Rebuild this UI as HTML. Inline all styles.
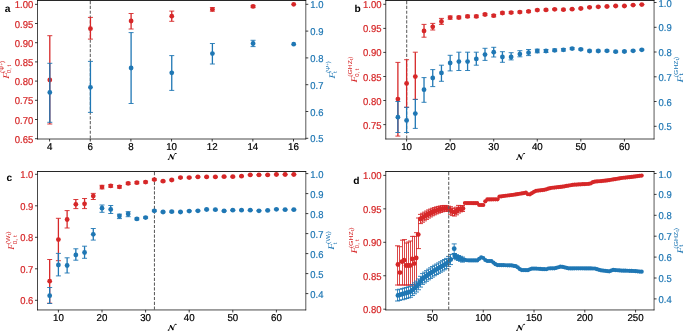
<!DOCTYPE html>
<html><head><meta charset="utf-8"><title>Figure</title>
<style>
html,body{margin:0;padding:0;background:#fff;}
body{width:685px;height:331px;overflow:hidden;}
svg{display:block;font-family:"Liberation Sans", sans-serif;will-change:transform;text-rendering:geometricPrecision;}
</style></head>
<body>
<svg width="685" height="331" viewBox="0 0 685 331">
<rect width="685" height="331" fill="#fff"/>
<line x1="37.50" y1="0.00" x2="37.50" y2="139.36" stroke="#000" stroke-width="0.72"/>
<line x1="305.80" y1="0.00" x2="305.80" y2="139.36" stroke="#000" stroke-width="0.66"/>
<line x1="37.14" y1="0.45" x2="306.13" y2="0.45" stroke="#000" stroke-width="0.9"/>
<line x1="37.14" y1="139.00" x2="306.13" y2="139.00" stroke="#000" stroke-width="0.72"/>
<line x1="90.30" y1="0.45" x2="90.30" y2="139.00" stroke="#5e5e5e" stroke-width="1.05" stroke-dasharray="3.2,1.6" stroke-dashoffset="4.2"/>
<line x1="35.00" y1="4.35" x2="37.50" y2="4.35" stroke="#000" stroke-width="0.75"/>
<text x="33.30" y="8.35" fill="#d62728" stroke="#d62728" stroke-width="0.22" text-anchor="end" font-size="10.0" textLength="18.51" lengthAdjust="spacingAndGlyphs">1.00</text>
<line x1="35.00" y1="23.50" x2="37.50" y2="23.50" stroke="#000" stroke-width="0.75"/>
<text x="33.30" y="27.50" fill="#d62728" stroke="#d62728" stroke-width="0.22" text-anchor="end" font-size="10.0" textLength="18.51" lengthAdjust="spacingAndGlyphs">0.95</text>
<line x1="35.00" y1="42.70" x2="37.50" y2="42.70" stroke="#000" stroke-width="0.75"/>
<text x="33.30" y="46.70" fill="#d62728" stroke="#d62728" stroke-width="0.22" text-anchor="end" font-size="10.0" textLength="18.51" lengthAdjust="spacingAndGlyphs">0.90</text>
<line x1="35.00" y1="61.90" x2="37.50" y2="61.90" stroke="#000" stroke-width="0.75"/>
<text x="33.30" y="65.90" fill="#d62728" stroke="#d62728" stroke-width="0.22" text-anchor="end" font-size="10.0" textLength="18.51" lengthAdjust="spacingAndGlyphs">0.85</text>
<line x1="35.00" y1="81.10" x2="37.50" y2="81.10" stroke="#000" stroke-width="0.75"/>
<text x="33.30" y="85.10" fill="#d62728" stroke="#d62728" stroke-width="0.22" text-anchor="end" font-size="10.0" textLength="18.51" lengthAdjust="spacingAndGlyphs">0.80</text>
<line x1="35.00" y1="100.30" x2="37.50" y2="100.30" stroke="#000" stroke-width="0.75"/>
<text x="33.30" y="104.30" fill="#d62728" stroke="#d62728" stroke-width="0.22" text-anchor="end" font-size="10.0" textLength="18.51" lengthAdjust="spacingAndGlyphs">0.75</text>
<line x1="35.00" y1="119.50" x2="37.50" y2="119.50" stroke="#000" stroke-width="0.75"/>
<text x="33.30" y="123.50" fill="#d62728" stroke="#d62728" stroke-width="0.22" text-anchor="end" font-size="10.0" textLength="18.51" lengthAdjust="spacingAndGlyphs">0.70</text>
<line x1="35.00" y1="138.70" x2="37.50" y2="138.70" stroke="#000" stroke-width="0.75"/>
<text x="33.30" y="142.70" fill="#d62728" stroke="#d62728" stroke-width="0.22" text-anchor="end" font-size="10.0" textLength="18.51" lengthAdjust="spacingAndGlyphs">0.65</text>
<line x1="305.80" y1="4.30" x2="308.30" y2="4.30" stroke="#000" stroke-width="0.75"/>
<text x="310.30" y="8.30" fill="#1f77b4" stroke="#1f77b4" stroke-width="0.22" text-anchor="start" font-size="10.0" textLength="13.11" lengthAdjust="spacingAndGlyphs">1.0</text>
<line x1="305.80" y1="31.10" x2="308.30" y2="31.10" stroke="#000" stroke-width="0.75"/>
<text x="310.30" y="35.10" fill="#1f77b4" stroke="#1f77b4" stroke-width="0.22" text-anchor="start" font-size="10.0" textLength="13.11" lengthAdjust="spacingAndGlyphs">0.9</text>
<line x1="305.80" y1="57.90" x2="308.30" y2="57.90" stroke="#000" stroke-width="0.75"/>
<text x="310.30" y="61.90" fill="#1f77b4" stroke="#1f77b4" stroke-width="0.22" text-anchor="start" font-size="10.0" textLength="13.11" lengthAdjust="spacingAndGlyphs">0.8</text>
<line x1="305.80" y1="84.70" x2="308.30" y2="84.70" stroke="#000" stroke-width="0.75"/>
<text x="310.30" y="88.70" fill="#1f77b4" stroke="#1f77b4" stroke-width="0.22" text-anchor="start" font-size="10.0" textLength="13.11" lengthAdjust="spacingAndGlyphs">0.7</text>
<line x1="305.80" y1="111.50" x2="308.30" y2="111.50" stroke="#000" stroke-width="0.75"/>
<text x="310.30" y="115.50" fill="#1f77b4" stroke="#1f77b4" stroke-width="0.22" text-anchor="start" font-size="10.0" textLength="13.11" lengthAdjust="spacingAndGlyphs">0.6</text>
<line x1="305.80" y1="138.30" x2="308.30" y2="138.30" stroke="#000" stroke-width="0.75"/>
<text x="310.30" y="142.30" fill="#1f77b4" stroke="#1f77b4" stroke-width="0.22" text-anchor="start" font-size="10.0" textLength="13.11" lengthAdjust="spacingAndGlyphs">0.5</text>
<line x1="49.60" y1="139.00" x2="49.60" y2="141.50" stroke="#000" stroke-width="0.75"/>
<text x="49.60" y="149.95" fill="#000" stroke="#000" stroke-width="0.22" text-anchor="middle" font-size="10.0" textLength="5.41" lengthAdjust="spacingAndGlyphs">4</text>
<line x1="90.25" y1="139.00" x2="90.25" y2="141.50" stroke="#000" stroke-width="0.75"/>
<text x="90.25" y="149.95" fill="#000" stroke="#000" stroke-width="0.22" text-anchor="middle" font-size="10.0" textLength="5.41" lengthAdjust="spacingAndGlyphs">6</text>
<line x1="130.90" y1="139.00" x2="130.90" y2="141.50" stroke="#000" stroke-width="0.75"/>
<text x="130.90" y="149.95" fill="#000" stroke="#000" stroke-width="0.22" text-anchor="middle" font-size="10.0" textLength="5.41" lengthAdjust="spacingAndGlyphs">8</text>
<line x1="171.55" y1="139.00" x2="171.55" y2="141.50" stroke="#000" stroke-width="0.75"/>
<text x="171.55" y="149.95" fill="#000" stroke="#000" stroke-width="0.22" text-anchor="middle" font-size="10.0" textLength="10.81" lengthAdjust="spacingAndGlyphs">10</text>
<line x1="212.20" y1="139.00" x2="212.20" y2="141.50" stroke="#000" stroke-width="0.75"/>
<text x="212.20" y="149.95" fill="#000" stroke="#000" stroke-width="0.22" text-anchor="middle" font-size="10.0" textLength="10.81" lengthAdjust="spacingAndGlyphs">12</text>
<line x1="252.85" y1="139.00" x2="252.85" y2="141.50" stroke="#000" stroke-width="0.75"/>
<text x="252.85" y="149.95" fill="#000" stroke="#000" stroke-width="0.22" text-anchor="middle" font-size="10.0" textLength="10.81" lengthAdjust="spacingAndGlyphs">14</text>
<line x1="293.50" y1="139.00" x2="293.50" y2="141.50" stroke="#000" stroke-width="0.75"/>
<text x="293.50" y="149.95" fill="#000" stroke="#000" stroke-width="0.22" text-anchor="middle" font-size="10.0" textLength="10.81" lengthAdjust="spacingAndGlyphs">16</text>
<line x1="49.80" y1="35.70" x2="49.80" y2="124.00" stroke="#d62728" stroke-width="1.3"/>
<line x1="47.30" y1="35.70" x2="52.30" y2="35.70" stroke="#d62728" stroke-width="0.9"/>
<line x1="47.30" y1="124.00" x2="52.30" y2="124.00" stroke="#d62728" stroke-width="0.9"/>
<circle cx="49.80" cy="80.00" r="2.4" fill="#d62728"/>
<line x1="90.45" y1="17.40" x2="90.45" y2="39.10" stroke="#d62728" stroke-width="1.3"/>
<line x1="87.95" y1="17.40" x2="92.95" y2="17.40" stroke="#d62728" stroke-width="0.9"/>
<line x1="87.95" y1="39.10" x2="92.95" y2="39.10" stroke="#d62728" stroke-width="0.9"/>
<circle cx="90.45" cy="28.70" r="2.4" fill="#d62728"/>
<line x1="131.10" y1="13.50" x2="131.10" y2="29.00" stroke="#d62728" stroke-width="1.3"/>
<line x1="128.60" y1="13.50" x2="133.60" y2="13.50" stroke="#d62728" stroke-width="0.9"/>
<line x1="128.60" y1="29.00" x2="133.60" y2="29.00" stroke="#d62728" stroke-width="0.9"/>
<circle cx="131.10" cy="21.00" r="2.4" fill="#d62728"/>
<line x1="171.75" y1="11.10" x2="171.75" y2="21.30" stroke="#d62728" stroke-width="1.3"/>
<line x1="169.25" y1="11.10" x2="174.25" y2="11.10" stroke="#d62728" stroke-width="0.9"/>
<line x1="169.25" y1="21.30" x2="174.25" y2="21.30" stroke="#d62728" stroke-width="0.9"/>
<circle cx="171.75" cy="16.20" r="2.4" fill="#d62728"/>
<line x1="212.40" y1="7.60" x2="212.40" y2="11.20" stroke="#d62728" stroke-width="1.3"/>
<line x1="209.90" y1="7.60" x2="214.90" y2="7.60" stroke="#d62728" stroke-width="0.9"/>
<line x1="209.90" y1="11.20" x2="214.90" y2="11.20" stroke="#d62728" stroke-width="0.9"/>
<circle cx="212.40" cy="9.30" r="2.4" fill="#d62728"/>
<line x1="253.05" y1="5.40" x2="253.05" y2="7.60" stroke="#d62728" stroke-width="1.3"/>
<line x1="250.55" y1="5.40" x2="255.55" y2="5.40" stroke="#d62728" stroke-width="0.9"/>
<line x1="250.55" y1="7.60" x2="255.55" y2="7.60" stroke="#d62728" stroke-width="0.9"/>
<circle cx="253.05" cy="6.40" r="2.4" fill="#d62728"/>
<circle cx="293.70" cy="4.30" r="2.4" fill="#d62728"/>
<line x1="49.80" y1="63.30" x2="49.80" y2="122.30" stroke="#1f77b4" stroke-width="1.3"/>
<line x1="47.30" y1="63.30" x2="52.30" y2="63.30" stroke="#1f77b4" stroke-width="0.9"/>
<line x1="47.30" y1="122.30" x2="52.30" y2="122.30" stroke="#1f77b4" stroke-width="0.9"/>
<circle cx="49.80" cy="92.40" r="2.4" fill="#1f77b4"/>
<line x1="90.45" y1="61.40" x2="90.45" y2="112.40" stroke="#1f77b4" stroke-width="1.3"/>
<line x1="87.95" y1="61.40" x2="92.95" y2="61.40" stroke="#1f77b4" stroke-width="0.9"/>
<line x1="87.95" y1="112.40" x2="92.95" y2="112.40" stroke="#1f77b4" stroke-width="0.9"/>
<circle cx="90.45" cy="87.30" r="2.4" fill="#1f77b4"/>
<line x1="131.10" y1="32.60" x2="131.10" y2="103.50" stroke="#1f77b4" stroke-width="1.3"/>
<line x1="128.60" y1="32.60" x2="133.60" y2="32.60" stroke="#1f77b4" stroke-width="0.9"/>
<line x1="128.60" y1="103.50" x2="133.60" y2="103.50" stroke="#1f77b4" stroke-width="0.9"/>
<circle cx="131.10" cy="68.00" r="2.4" fill="#1f77b4"/>
<line x1="171.75" y1="55.60" x2="171.75" y2="90.40" stroke="#1f77b4" stroke-width="1.3"/>
<line x1="169.25" y1="55.60" x2="174.25" y2="55.60" stroke="#1f77b4" stroke-width="0.9"/>
<line x1="169.25" y1="90.40" x2="174.25" y2="90.40" stroke="#1f77b4" stroke-width="0.9"/>
<circle cx="171.75" cy="72.80" r="2.4" fill="#1f77b4"/>
<line x1="212.40" y1="43.50" x2="212.40" y2="64.00" stroke="#1f77b4" stroke-width="1.3"/>
<line x1="209.90" y1="43.50" x2="214.90" y2="43.50" stroke="#1f77b4" stroke-width="0.9"/>
<line x1="209.90" y1="64.00" x2="214.90" y2="64.00" stroke="#1f77b4" stroke-width="0.9"/>
<circle cx="212.40" cy="53.60" r="2.4" fill="#1f77b4"/>
<line x1="253.05" y1="40.30" x2="253.05" y2="46.60" stroke="#1f77b4" stroke-width="1.3"/>
<line x1="250.55" y1="40.30" x2="255.55" y2="40.30" stroke="#1f77b4" stroke-width="0.9"/>
<line x1="250.55" y1="46.60" x2="255.55" y2="46.60" stroke="#1f77b4" stroke-width="0.9"/>
<circle cx="253.05" cy="43.50" r="2.4" fill="#1f77b4"/>
<circle cx="293.70" cy="44.20" r="2.4" fill="#1f77b4"/>
<g transform="translate(167.70,152.80)" fill="none" stroke="#000" stroke-linecap="round"><path d="M0.8,6.6 C1.6,5.8 2.3,3.9 2.8,2.1" stroke-width="0.7"/><ellipse cx="0.9" cy="6.5" rx="0.9" ry="0.55" fill="#000" stroke="none"/><path d="M2.9,2.0 L5.2,6.0" stroke-width="1.35"/><path d="M5.3,5.9 C5.7,4.5 6.2,2.2 7.1,0.9" stroke-width="0.6"/><ellipse cx="8.1" cy="0.6" rx="1.0" ry="0.5" fill="#000" stroke="none"/></g>
<text x="4.80" y="11.80" font-weight="bold" font-size="10.2">a</text>
<line x1="385.77" y1="0.00" x2="385.77" y2="139.36" stroke="#000" stroke-width="0.72"/>
<line x1="654.07" y1="0.00" x2="654.07" y2="139.36" stroke="#000" stroke-width="0.66"/>
<line x1="385.41" y1="0.45" x2="654.40" y2="0.45" stroke="#000" stroke-width="0.9"/>
<line x1="385.41" y1="139.00" x2="654.40" y2="139.00" stroke="#000" stroke-width="0.72"/>
<line x1="406.70" y1="0.45" x2="406.70" y2="139.00" stroke="#5e5e5e" stroke-width="1.05" stroke-dasharray="3.2,1.6" stroke-dashoffset="4.2"/>
<line x1="383.27" y1="4.30" x2="385.77" y2="4.30" stroke="#000" stroke-width="0.75"/>
<text x="381.57" y="8.30" fill="#d62728" stroke="#d62728" stroke-width="0.22" text-anchor="end" font-size="10.0" textLength="18.51" lengthAdjust="spacingAndGlyphs">1.00</text>
<line x1="383.27" y1="28.40" x2="385.77" y2="28.40" stroke="#000" stroke-width="0.75"/>
<text x="381.57" y="32.40" fill="#d62728" stroke="#d62728" stroke-width="0.22" text-anchor="end" font-size="10.0" textLength="18.51" lengthAdjust="spacingAndGlyphs">0.95</text>
<line x1="383.27" y1="52.40" x2="385.77" y2="52.40" stroke="#000" stroke-width="0.75"/>
<text x="381.57" y="56.40" fill="#d62728" stroke="#d62728" stroke-width="0.22" text-anchor="end" font-size="10.0" textLength="18.51" lengthAdjust="spacingAndGlyphs">0.90</text>
<line x1="383.27" y1="76.50" x2="385.77" y2="76.50" stroke="#000" stroke-width="0.75"/>
<text x="381.57" y="80.50" fill="#d62728" stroke="#d62728" stroke-width="0.22" text-anchor="end" font-size="10.0" textLength="18.51" lengthAdjust="spacingAndGlyphs">0.85</text>
<line x1="383.27" y1="100.50" x2="385.77" y2="100.50" stroke="#000" stroke-width="0.75"/>
<text x="381.57" y="104.50" fill="#d62728" stroke="#d62728" stroke-width="0.22" text-anchor="end" font-size="10.0" textLength="18.51" lengthAdjust="spacingAndGlyphs">0.80</text>
<line x1="383.27" y1="124.60" x2="385.77" y2="124.60" stroke="#000" stroke-width="0.75"/>
<text x="381.57" y="128.60" fill="#d62728" stroke="#d62728" stroke-width="0.22" text-anchor="end" font-size="10.0" textLength="18.51" lengthAdjust="spacingAndGlyphs">0.75</text>
<line x1="654.07" y1="2.50" x2="656.57" y2="2.50" stroke="#000" stroke-width="0.75"/>
<text x="658.57" y="6.50" fill="#1f77b4" stroke="#1f77b4" stroke-width="0.22" text-anchor="start" font-size="10.0" textLength="13.11" lengthAdjust="spacingAndGlyphs">1.0</text>
<line x1="654.07" y1="27.30" x2="656.57" y2="27.30" stroke="#000" stroke-width="0.75"/>
<text x="658.57" y="31.30" fill="#1f77b4" stroke="#1f77b4" stroke-width="0.22" text-anchor="start" font-size="10.0" textLength="13.11" lengthAdjust="spacingAndGlyphs">0.9</text>
<line x1="654.07" y1="52.00" x2="656.57" y2="52.00" stroke="#000" stroke-width="0.75"/>
<text x="658.57" y="56.00" fill="#1f77b4" stroke="#1f77b4" stroke-width="0.22" text-anchor="start" font-size="10.0" textLength="13.11" lengthAdjust="spacingAndGlyphs">0.8</text>
<line x1="654.07" y1="76.80" x2="656.57" y2="76.80" stroke="#000" stroke-width="0.75"/>
<text x="658.57" y="80.80" fill="#1f77b4" stroke="#1f77b4" stroke-width="0.22" text-anchor="start" font-size="10.0" textLength="13.11" lengthAdjust="spacingAndGlyphs">0.7</text>
<line x1="654.07" y1="101.50" x2="656.57" y2="101.50" stroke="#000" stroke-width="0.75"/>
<text x="658.57" y="105.50" fill="#1f77b4" stroke="#1f77b4" stroke-width="0.22" text-anchor="start" font-size="10.0" textLength="13.11" lengthAdjust="spacingAndGlyphs">0.6</text>
<line x1="654.07" y1="126.30" x2="656.57" y2="126.30" stroke="#000" stroke-width="0.75"/>
<text x="658.57" y="130.30" fill="#1f77b4" stroke="#1f77b4" stroke-width="0.22" text-anchor="start" font-size="10.0" textLength="13.11" lengthAdjust="spacingAndGlyphs">0.5</text>
<line x1="406.60" y1="139.00" x2="406.60" y2="141.50" stroke="#000" stroke-width="0.75"/>
<text x="406.60" y="149.95" fill="#000" stroke="#000" stroke-width="0.22" text-anchor="middle" font-size="10.0" textLength="10.81" lengthAdjust="spacingAndGlyphs">10</text>
<line x1="450.16" y1="139.00" x2="450.16" y2="141.50" stroke="#000" stroke-width="0.75"/>
<text x="450.16" y="149.95" fill="#000" stroke="#000" stroke-width="0.22" text-anchor="middle" font-size="10.0" textLength="10.81" lengthAdjust="spacingAndGlyphs">20</text>
<line x1="493.72" y1="139.00" x2="493.72" y2="141.50" stroke="#000" stroke-width="0.75"/>
<text x="493.72" y="149.95" fill="#000" stroke="#000" stroke-width="0.22" text-anchor="middle" font-size="10.0" textLength="10.81" lengthAdjust="spacingAndGlyphs">30</text>
<line x1="537.28" y1="139.00" x2="537.28" y2="141.50" stroke="#000" stroke-width="0.75"/>
<text x="537.28" y="149.95" fill="#000" stroke="#000" stroke-width="0.22" text-anchor="middle" font-size="10.0" textLength="10.81" lengthAdjust="spacingAndGlyphs">40</text>
<line x1="580.84" y1="139.00" x2="580.84" y2="141.50" stroke="#000" stroke-width="0.75"/>
<text x="580.84" y="149.95" fill="#000" stroke="#000" stroke-width="0.22" text-anchor="middle" font-size="10.0" textLength="10.81" lengthAdjust="spacingAndGlyphs">50</text>
<line x1="624.40" y1="139.00" x2="624.40" y2="141.50" stroke="#000" stroke-width="0.75"/>
<text x="624.40" y="149.95" fill="#000" stroke="#000" stroke-width="0.22" text-anchor="middle" font-size="10.0" textLength="10.81" lengthAdjust="spacingAndGlyphs">60</text>
<line x1="397.89" y1="62.40" x2="397.89" y2="136.10" stroke="#d62728" stroke-width="1.3"/>
<line x1="395.39" y1="62.40" x2="400.39" y2="62.40" stroke="#d62728" stroke-width="0.9"/>
<line x1="395.39" y1="136.10" x2="400.39" y2="136.10" stroke="#d62728" stroke-width="0.9"/>
<circle cx="397.89" cy="99.10" r="2.4" fill="#d62728"/>
<line x1="406.60" y1="59.70" x2="406.60" y2="107.30" stroke="#d62728" stroke-width="1.3"/>
<line x1="404.10" y1="59.70" x2="409.10" y2="59.70" stroke="#d62728" stroke-width="0.9"/>
<line x1="404.10" y1="107.30" x2="409.10" y2="107.30" stroke="#d62728" stroke-width="0.9"/>
<circle cx="406.60" cy="83.40" r="2.4" fill="#d62728"/>
<line x1="415.31" y1="52.20" x2="415.31" y2="99.40" stroke="#d62728" stroke-width="1.3"/>
<line x1="412.81" y1="52.20" x2="417.81" y2="52.20" stroke="#d62728" stroke-width="0.9"/>
<line x1="412.81" y1="99.40" x2="417.81" y2="99.40" stroke="#d62728" stroke-width="0.9"/>
<circle cx="415.31" cy="76.60" r="2.4" fill="#d62728"/>
<line x1="424.02" y1="24.40" x2="424.02" y2="37.20" stroke="#d62728" stroke-width="1.3"/>
<line x1="421.52" y1="24.40" x2="426.52" y2="24.40" stroke="#d62728" stroke-width="0.9"/>
<line x1="421.52" y1="37.20" x2="426.52" y2="37.20" stroke="#d62728" stroke-width="0.9"/>
<circle cx="424.02" cy="30.90" r="2.4" fill="#d62728"/>
<line x1="432.74" y1="23.40" x2="432.74" y2="30.00" stroke="#d62728" stroke-width="1.3"/>
<line x1="430.24" y1="23.40" x2="435.24" y2="23.40" stroke="#d62728" stroke-width="0.9"/>
<line x1="430.24" y1="30.00" x2="435.24" y2="30.00" stroke="#d62728" stroke-width="0.9"/>
<circle cx="432.74" cy="26.80" r="2.4" fill="#d62728"/>
<line x1="441.45" y1="18.40" x2="441.45" y2="24.40" stroke="#d62728" stroke-width="1.3"/>
<line x1="438.95" y1="18.40" x2="443.95" y2="18.40" stroke="#d62728" stroke-width="0.9"/>
<line x1="438.95" y1="24.40" x2="443.95" y2="24.40" stroke="#d62728" stroke-width="0.9"/>
<circle cx="441.45" cy="21.50" r="2.4" fill="#d62728"/>
<line x1="450.16" y1="16.00" x2="450.16" y2="19.20" stroke="#d62728" stroke-width="1.3"/>
<line x1="447.66" y1="16.00" x2="452.66" y2="16.00" stroke="#d62728" stroke-width="0.9"/>
<line x1="447.66" y1="19.20" x2="452.66" y2="19.20" stroke="#d62728" stroke-width="0.9"/>
<circle cx="450.16" cy="17.60" r="2.4" fill="#d62728"/>
<line x1="458.87" y1="16.20" x2="458.87" y2="18.80" stroke="#d62728" stroke-width="1.3"/>
<line x1="456.37" y1="16.20" x2="461.37" y2="16.20" stroke="#d62728" stroke-width="0.9"/>
<line x1="456.37" y1="18.80" x2="461.37" y2="18.80" stroke="#d62728" stroke-width="0.9"/>
<circle cx="458.87" cy="17.50" r="2.4" fill="#d62728"/>
<line x1="467.58" y1="15.20" x2="467.58" y2="17.60" stroke="#d62728" stroke-width="1.3"/>
<line x1="465.08" y1="15.20" x2="470.08" y2="15.20" stroke="#d62728" stroke-width="0.9"/>
<line x1="465.08" y1="17.60" x2="470.08" y2="17.60" stroke="#d62728" stroke-width="0.9"/>
<circle cx="467.58" cy="16.40" r="2.4" fill="#d62728"/>
<line x1="476.30" y1="15.20" x2="476.30" y2="17.60" stroke="#d62728" stroke-width="1.3"/>
<line x1="473.80" y1="15.20" x2="478.80" y2="15.20" stroke="#d62728" stroke-width="0.9"/>
<line x1="473.80" y1="17.60" x2="478.80" y2="17.60" stroke="#d62728" stroke-width="0.9"/>
<circle cx="476.30" cy="16.40" r="2.4" fill="#d62728"/>
<line x1="485.01" y1="13.40" x2="485.01" y2="15.60" stroke="#d62728" stroke-width="1.3"/>
<line x1="482.51" y1="13.40" x2="487.51" y2="13.40" stroke="#d62728" stroke-width="0.9"/>
<line x1="482.51" y1="15.60" x2="487.51" y2="15.60" stroke="#d62728" stroke-width="0.9"/>
<circle cx="485.01" cy="14.50" r="2.4" fill="#d62728"/>
<line x1="493.72" y1="14.60" x2="493.72" y2="16.80" stroke="#d62728" stroke-width="1.3"/>
<line x1="491.22" y1="14.60" x2="496.22" y2="14.60" stroke="#d62728" stroke-width="0.9"/>
<line x1="491.22" y1="16.80" x2="496.22" y2="16.80" stroke="#d62728" stroke-width="0.9"/>
<circle cx="493.72" cy="15.70" r="2.4" fill="#d62728"/>
<line x1="502.43" y1="12.00" x2="502.43" y2="14.00" stroke="#d62728" stroke-width="1.3"/>
<line x1="499.93" y1="12.00" x2="504.93" y2="12.00" stroke="#d62728" stroke-width="0.9"/>
<line x1="499.93" y1="14.00" x2="504.93" y2="14.00" stroke="#d62728" stroke-width="0.9"/>
<circle cx="502.43" cy="13.00" r="2.4" fill="#d62728"/>
<line x1="511.14" y1="11.60" x2="511.14" y2="13.60" stroke="#d62728" stroke-width="1.3"/>
<line x1="508.64" y1="11.60" x2="513.64" y2="11.60" stroke="#d62728" stroke-width="0.9"/>
<line x1="508.64" y1="13.60" x2="513.64" y2="13.60" stroke="#d62728" stroke-width="0.9"/>
<circle cx="511.14" cy="12.60" r="2.4" fill="#d62728"/>
<line x1="519.86" y1="11.20" x2="519.86" y2="13.00" stroke="#d62728" stroke-width="1.3"/>
<line x1="517.36" y1="11.20" x2="522.36" y2="11.20" stroke="#d62728" stroke-width="0.9"/>
<line x1="517.36" y1="13.00" x2="522.36" y2="13.00" stroke="#d62728" stroke-width="0.9"/>
<circle cx="519.86" cy="12.10" r="2.4" fill="#d62728"/>
<line x1="528.57" y1="10.50" x2="528.57" y2="12.30" stroke="#d62728" stroke-width="1.3"/>
<line x1="526.07" y1="10.50" x2="531.07" y2="10.50" stroke="#d62728" stroke-width="0.9"/>
<line x1="526.07" y1="12.30" x2="531.07" y2="12.30" stroke="#d62728" stroke-width="0.9"/>
<circle cx="528.57" cy="11.40" r="2.4" fill="#d62728"/>
<line x1="537.28" y1="9.30" x2="537.28" y2="10.90" stroke="#d62728" stroke-width="1.3"/>
<line x1="534.78" y1="9.30" x2="539.78" y2="9.30" stroke="#d62728" stroke-width="0.9"/>
<line x1="534.78" y1="10.90" x2="539.78" y2="10.90" stroke="#d62728" stroke-width="0.9"/>
<circle cx="537.28" cy="10.10" r="2.4" fill="#d62728"/>
<line x1="545.99" y1="9.10" x2="545.99" y2="10.70" stroke="#d62728" stroke-width="1.3"/>
<line x1="543.49" y1="9.10" x2="548.49" y2="9.10" stroke="#d62728" stroke-width="0.9"/>
<line x1="543.49" y1="10.70" x2="548.49" y2="10.70" stroke="#d62728" stroke-width="0.9"/>
<circle cx="545.99" cy="9.90" r="2.4" fill="#d62728"/>
<line x1="554.70" y1="8.60" x2="554.70" y2="10.00" stroke="#d62728" stroke-width="1.3"/>
<line x1="552.20" y1="8.60" x2="557.20" y2="8.60" stroke="#d62728" stroke-width="0.9"/>
<line x1="552.20" y1="10.00" x2="557.20" y2="10.00" stroke="#d62728" stroke-width="0.9"/>
<circle cx="554.70" cy="9.30" r="2.4" fill="#d62728"/>
<line x1="563.42" y1="9.00" x2="563.42" y2="10.40" stroke="#d62728" stroke-width="1.3"/>
<line x1="560.92" y1="9.00" x2="565.92" y2="9.00" stroke="#d62728" stroke-width="0.9"/>
<line x1="560.92" y1="10.40" x2="565.92" y2="10.40" stroke="#d62728" stroke-width="0.9"/>
<circle cx="563.42" cy="9.70" r="2.4" fill="#d62728"/>
<line x1="572.13" y1="8.60" x2="572.13" y2="9.80" stroke="#d62728" stroke-width="1.3"/>
<line x1="569.63" y1="8.60" x2="574.63" y2="8.60" stroke="#d62728" stroke-width="0.9"/>
<line x1="569.63" y1="9.80" x2="574.63" y2="9.80" stroke="#d62728" stroke-width="0.9"/>
<circle cx="572.13" cy="9.20" r="2.4" fill="#d62728"/>
<line x1="580.84" y1="7.90" x2="580.84" y2="9.10" stroke="#d62728" stroke-width="1.3"/>
<line x1="578.34" y1="7.90" x2="583.34" y2="7.90" stroke="#d62728" stroke-width="0.9"/>
<line x1="578.34" y1="9.10" x2="583.34" y2="9.10" stroke="#d62728" stroke-width="0.9"/>
<circle cx="580.84" cy="8.50" r="2.4" fill="#d62728"/>
<line x1="589.55" y1="6.80" x2="589.55" y2="7.80" stroke="#d62728" stroke-width="1.3"/>
<line x1="587.05" y1="6.80" x2="592.05" y2="6.80" stroke="#d62728" stroke-width="0.9"/>
<line x1="587.05" y1="7.80" x2="592.05" y2="7.80" stroke="#d62728" stroke-width="0.9"/>
<circle cx="589.55" cy="7.30" r="2.4" fill="#d62728"/>
<line x1="598.26" y1="6.30" x2="598.26" y2="7.30" stroke="#d62728" stroke-width="1.3"/>
<line x1="595.76" y1="6.30" x2="600.76" y2="6.30" stroke="#d62728" stroke-width="0.9"/>
<line x1="595.76" y1="7.30" x2="600.76" y2="7.30" stroke="#d62728" stroke-width="0.9"/>
<circle cx="598.26" cy="6.80" r="2.4" fill="#d62728"/>
<line x1="606.98" y1="6.00" x2="606.98" y2="7.00" stroke="#d62728" stroke-width="1.3"/>
<line x1="604.48" y1="6.00" x2="609.48" y2="6.00" stroke="#d62728" stroke-width="0.9"/>
<line x1="604.48" y1="7.00" x2="609.48" y2="7.00" stroke="#d62728" stroke-width="0.9"/>
<circle cx="606.98" cy="6.50" r="2.4" fill="#d62728"/>
<line x1="615.69" y1="5.60" x2="615.69" y2="6.40" stroke="#d62728" stroke-width="1.3"/>
<line x1="613.19" y1="5.60" x2="618.19" y2="5.60" stroke="#d62728" stroke-width="0.9"/>
<line x1="613.19" y1="6.40" x2="618.19" y2="6.40" stroke="#d62728" stroke-width="0.9"/>
<circle cx="615.69" cy="6.00" r="2.4" fill="#d62728"/>
<line x1="624.40" y1="5.60" x2="624.40" y2="6.40" stroke="#d62728" stroke-width="1.3"/>
<line x1="621.90" y1="5.60" x2="626.90" y2="5.60" stroke="#d62728" stroke-width="0.9"/>
<line x1="621.90" y1="6.40" x2="626.90" y2="6.40" stroke="#d62728" stroke-width="0.9"/>
<circle cx="624.40" cy="6.00" r="2.4" fill="#d62728"/>
<line x1="633.11" y1="4.80" x2="633.11" y2="5.40" stroke="#d62728" stroke-width="1.3"/>
<line x1="630.61" y1="4.80" x2="635.61" y2="4.80" stroke="#d62728" stroke-width="0.9"/>
<line x1="630.61" y1="5.40" x2="635.61" y2="5.40" stroke="#d62728" stroke-width="0.9"/>
<circle cx="633.11" cy="5.10" r="2.4" fill="#d62728"/>
<line x1="641.82" y1="4.40" x2="641.82" y2="4.80" stroke="#d62728" stroke-width="1.3"/>
<line x1="639.32" y1="4.40" x2="644.32" y2="4.40" stroke="#d62728" stroke-width="0.9"/>
<line x1="639.32" y1="4.80" x2="644.32" y2="4.80" stroke="#d62728" stroke-width="0.9"/>
<circle cx="641.82" cy="4.60" r="2.4" fill="#d62728"/>
<line x1="397.89" y1="101.50" x2="397.89" y2="132.50" stroke="#1f77b4" stroke-width="1.3"/>
<line x1="395.39" y1="101.50" x2="400.39" y2="101.50" stroke="#1f77b4" stroke-width="0.9"/>
<line x1="395.39" y1="132.50" x2="400.39" y2="132.50" stroke="#1f77b4" stroke-width="0.9"/>
<circle cx="397.89" cy="117.20" r="2.4" fill="#1f77b4"/>
<line x1="406.60" y1="107.30" x2="406.60" y2="132.50" stroke="#1f77b4" stroke-width="1.3"/>
<line x1="404.10" y1="107.30" x2="409.10" y2="107.30" stroke="#1f77b4" stroke-width="0.9"/>
<line x1="404.10" y1="132.50" x2="409.10" y2="132.50" stroke="#1f77b4" stroke-width="0.9"/>
<circle cx="406.60" cy="120.40" r="2.4" fill="#1f77b4"/>
<line x1="415.31" y1="99.40" x2="415.31" y2="128.40" stroke="#1f77b4" stroke-width="1.3"/>
<line x1="412.81" y1="99.40" x2="417.81" y2="99.40" stroke="#1f77b4" stroke-width="0.9"/>
<line x1="412.81" y1="128.40" x2="417.81" y2="128.40" stroke="#1f77b4" stroke-width="0.9"/>
<circle cx="415.31" cy="113.60" r="2.4" fill="#1f77b4"/>
<line x1="424.02" y1="77.60" x2="424.02" y2="102.30" stroke="#1f77b4" stroke-width="1.3"/>
<line x1="421.52" y1="77.60" x2="426.52" y2="77.60" stroke="#1f77b4" stroke-width="0.9"/>
<line x1="421.52" y1="102.30" x2="426.52" y2="102.30" stroke="#1f77b4" stroke-width="0.9"/>
<circle cx="424.02" cy="89.70" r="2.4" fill="#1f77b4"/>
<line x1="432.74" y1="69.60" x2="432.74" y2="86.60" stroke="#1f77b4" stroke-width="1.3"/>
<line x1="430.24" y1="69.60" x2="435.24" y2="69.60" stroke="#1f77b4" stroke-width="0.9"/>
<line x1="430.24" y1="86.60" x2="435.24" y2="86.60" stroke="#1f77b4" stroke-width="0.9"/>
<circle cx="432.74" cy="78.00" r="2.4" fill="#1f77b4"/>
<line x1="441.45" y1="65.20" x2="441.45" y2="81.30" stroke="#1f77b4" stroke-width="1.3"/>
<line x1="438.95" y1="65.20" x2="443.95" y2="65.20" stroke="#1f77b4" stroke-width="0.9"/>
<line x1="438.95" y1="81.30" x2="443.95" y2="81.30" stroke="#1f77b4" stroke-width="0.9"/>
<circle cx="441.45" cy="72.90" r="2.4" fill="#1f77b4"/>
<line x1="450.16" y1="55.30" x2="450.16" y2="70.90" stroke="#1f77b4" stroke-width="1.3"/>
<line x1="447.66" y1="55.30" x2="452.66" y2="55.30" stroke="#1f77b4" stroke-width="0.9"/>
<line x1="447.66" y1="70.90" x2="452.66" y2="70.90" stroke="#1f77b4" stroke-width="0.9"/>
<circle cx="450.16" cy="63.00" r="2.4" fill="#1f77b4"/>
<line x1="458.87" y1="52.20" x2="458.87" y2="70.50" stroke="#1f77b4" stroke-width="1.3"/>
<line x1="456.37" y1="52.20" x2="461.37" y2="52.20" stroke="#1f77b4" stroke-width="0.9"/>
<line x1="456.37" y1="70.50" x2="461.37" y2="70.50" stroke="#1f77b4" stroke-width="0.9"/>
<circle cx="458.87" cy="61.60" r="2.4" fill="#1f77b4"/>
<line x1="467.58" y1="52.20" x2="467.58" y2="70.50" stroke="#1f77b4" stroke-width="1.3"/>
<line x1="465.08" y1="52.20" x2="470.08" y2="52.20" stroke="#1f77b4" stroke-width="0.9"/>
<line x1="465.08" y1="70.50" x2="470.08" y2="70.50" stroke="#1f77b4" stroke-width="0.9"/>
<circle cx="467.58" cy="61.60" r="2.4" fill="#1f77b4"/>
<line x1="476.30" y1="52.20" x2="476.30" y2="65.20" stroke="#1f77b4" stroke-width="1.3"/>
<line x1="473.80" y1="52.20" x2="478.80" y2="52.20" stroke="#1f77b4" stroke-width="0.9"/>
<line x1="473.80" y1="65.20" x2="478.80" y2="65.20" stroke="#1f77b4" stroke-width="0.9"/>
<circle cx="476.30" cy="58.90" r="2.4" fill="#1f77b4"/>
<line x1="485.01" y1="48.30" x2="485.01" y2="60.40" stroke="#1f77b4" stroke-width="1.3"/>
<line x1="482.51" y1="48.30" x2="487.51" y2="48.30" stroke="#1f77b4" stroke-width="0.9"/>
<line x1="482.51" y1="60.40" x2="487.51" y2="60.40" stroke="#1f77b4" stroke-width="0.9"/>
<circle cx="485.01" cy="54.60" r="2.4" fill="#1f77b4"/>
<line x1="493.72" y1="47.30" x2="493.72" y2="57.00" stroke="#1f77b4" stroke-width="1.3"/>
<line x1="491.22" y1="47.30" x2="496.22" y2="47.30" stroke="#1f77b4" stroke-width="0.9"/>
<line x1="491.22" y1="57.00" x2="496.22" y2="57.00" stroke="#1f77b4" stroke-width="0.9"/>
<circle cx="493.72" cy="52.20" r="2.4" fill="#1f77b4"/>
<line x1="502.43" y1="51.70" x2="502.43" y2="62.30" stroke="#1f77b4" stroke-width="1.3"/>
<line x1="499.93" y1="51.70" x2="504.93" y2="51.70" stroke="#1f77b4" stroke-width="0.9"/>
<line x1="499.93" y1="62.30" x2="504.93" y2="62.30" stroke="#1f77b4" stroke-width="0.9"/>
<circle cx="502.43" cy="57.00" r="2.4" fill="#1f77b4"/>
<line x1="511.14" y1="52.70" x2="511.14" y2="59.90" stroke="#1f77b4" stroke-width="1.3"/>
<line x1="508.64" y1="52.70" x2="513.64" y2="52.70" stroke="#1f77b4" stroke-width="0.9"/>
<line x1="508.64" y1="59.90" x2="513.64" y2="59.90" stroke="#1f77b4" stroke-width="0.9"/>
<circle cx="511.14" cy="57.00" r="2.4" fill="#1f77b4"/>
<line x1="519.86" y1="50.70" x2="519.86" y2="56.80" stroke="#1f77b4" stroke-width="1.3"/>
<line x1="517.36" y1="50.70" x2="522.36" y2="50.70" stroke="#1f77b4" stroke-width="0.9"/>
<line x1="517.36" y1="56.80" x2="522.36" y2="56.80" stroke="#1f77b4" stroke-width="0.9"/>
<circle cx="519.86" cy="54.10" r="2.4" fill="#1f77b4"/>
<line x1="528.57" y1="49.50" x2="528.57" y2="55.60" stroke="#1f77b4" stroke-width="1.3"/>
<line x1="526.07" y1="49.50" x2="531.07" y2="49.50" stroke="#1f77b4" stroke-width="0.9"/>
<line x1="526.07" y1="55.60" x2="531.07" y2="55.60" stroke="#1f77b4" stroke-width="0.9"/>
<circle cx="528.57" cy="52.70" r="2.4" fill="#1f77b4"/>
<line x1="537.28" y1="49.20" x2="537.28" y2="52.80" stroke="#1f77b4" stroke-width="1.3"/>
<line x1="534.78" y1="49.20" x2="539.78" y2="49.20" stroke="#1f77b4" stroke-width="0.9"/>
<line x1="534.78" y1="52.80" x2="539.78" y2="52.80" stroke="#1f77b4" stroke-width="0.9"/>
<circle cx="537.28" cy="51.00" r="2.4" fill="#1f77b4"/>
<line x1="545.99" y1="49.50" x2="545.99" y2="52.50" stroke="#1f77b4" stroke-width="1.3"/>
<line x1="543.49" y1="49.50" x2="548.49" y2="49.50" stroke="#1f77b4" stroke-width="0.9"/>
<line x1="543.49" y1="52.50" x2="548.49" y2="52.50" stroke="#1f77b4" stroke-width="0.9"/>
<circle cx="545.99" cy="51.00" r="2.4" fill="#1f77b4"/>
<line x1="554.70" y1="49.00" x2="554.70" y2="51.60" stroke="#1f77b4" stroke-width="1.3"/>
<line x1="552.20" y1="49.00" x2="557.20" y2="49.00" stroke="#1f77b4" stroke-width="0.9"/>
<line x1="552.20" y1="51.60" x2="557.20" y2="51.60" stroke="#1f77b4" stroke-width="0.9"/>
<circle cx="554.70" cy="50.30" r="2.4" fill="#1f77b4"/>
<line x1="563.42" y1="48.60" x2="563.42" y2="51.00" stroke="#1f77b4" stroke-width="1.3"/>
<line x1="560.92" y1="48.60" x2="565.92" y2="48.60" stroke="#1f77b4" stroke-width="0.9"/>
<line x1="560.92" y1="51.00" x2="565.92" y2="51.00" stroke="#1f77b4" stroke-width="0.9"/>
<circle cx="563.42" cy="49.80" r="2.4" fill="#1f77b4"/>
<line x1="572.13" y1="47.60" x2="572.13" y2="49.60" stroke="#1f77b4" stroke-width="1.3"/>
<line x1="569.63" y1="47.60" x2="574.63" y2="47.60" stroke="#1f77b4" stroke-width="0.9"/>
<line x1="569.63" y1="49.60" x2="574.63" y2="49.60" stroke="#1f77b4" stroke-width="0.9"/>
<circle cx="572.13" cy="48.60" r="2.4" fill="#1f77b4"/>
<line x1="580.84" y1="48.40" x2="580.84" y2="50.20" stroke="#1f77b4" stroke-width="1.3"/>
<line x1="578.34" y1="48.40" x2="583.34" y2="48.40" stroke="#1f77b4" stroke-width="0.9"/>
<line x1="578.34" y1="50.20" x2="583.34" y2="50.20" stroke="#1f77b4" stroke-width="0.9"/>
<circle cx="580.84" cy="49.30" r="2.4" fill="#1f77b4"/>
<line x1="589.55" y1="50.20" x2="589.55" y2="51.80" stroke="#1f77b4" stroke-width="1.3"/>
<line x1="587.05" y1="50.20" x2="592.05" y2="50.20" stroke="#1f77b4" stroke-width="0.9"/>
<line x1="587.05" y1="51.80" x2="592.05" y2="51.80" stroke="#1f77b4" stroke-width="0.9"/>
<circle cx="589.55" cy="51.00" r="2.4" fill="#1f77b4"/>
<line x1="598.26" y1="50.20" x2="598.26" y2="51.80" stroke="#1f77b4" stroke-width="1.3"/>
<line x1="595.76" y1="50.20" x2="600.76" y2="50.20" stroke="#1f77b4" stroke-width="0.9"/>
<line x1="595.76" y1="51.80" x2="600.76" y2="51.80" stroke="#1f77b4" stroke-width="0.9"/>
<circle cx="598.26" cy="51.00" r="2.4" fill="#1f77b4"/>
<line x1="606.98" y1="50.00" x2="606.98" y2="51.60" stroke="#1f77b4" stroke-width="1.3"/>
<line x1="604.48" y1="50.00" x2="609.48" y2="50.00" stroke="#1f77b4" stroke-width="0.9"/>
<line x1="604.48" y1="51.60" x2="609.48" y2="51.60" stroke="#1f77b4" stroke-width="0.9"/>
<circle cx="606.98" cy="50.80" r="2.4" fill="#1f77b4"/>
<line x1="615.69" y1="51.00" x2="615.69" y2="52.40" stroke="#1f77b4" stroke-width="1.3"/>
<line x1="613.19" y1="51.00" x2="618.19" y2="51.00" stroke="#1f77b4" stroke-width="0.9"/>
<line x1="613.19" y1="52.40" x2="618.19" y2="52.40" stroke="#1f77b4" stroke-width="0.9"/>
<circle cx="615.69" cy="51.70" r="2.4" fill="#1f77b4"/>
<line x1="624.40" y1="50.80" x2="624.40" y2="52.20" stroke="#1f77b4" stroke-width="1.3"/>
<line x1="621.90" y1="50.80" x2="626.90" y2="50.80" stroke="#1f77b4" stroke-width="0.9"/>
<line x1="621.90" y1="52.20" x2="626.90" y2="52.20" stroke="#1f77b4" stroke-width="0.9"/>
<circle cx="624.40" cy="51.50" r="2.4" fill="#1f77b4"/>
<line x1="633.11" y1="50.20" x2="633.11" y2="51.40" stroke="#1f77b4" stroke-width="1.3"/>
<line x1="630.61" y1="50.20" x2="635.61" y2="50.20" stroke="#1f77b4" stroke-width="0.9"/>
<line x1="630.61" y1="51.40" x2="635.61" y2="51.40" stroke="#1f77b4" stroke-width="0.9"/>
<circle cx="633.11" cy="50.80" r="2.4" fill="#1f77b4"/>
<line x1="641.82" y1="49.20" x2="641.82" y2="50.40" stroke="#1f77b4" stroke-width="1.3"/>
<line x1="639.32" y1="49.20" x2="644.32" y2="49.20" stroke="#1f77b4" stroke-width="0.9"/>
<line x1="639.32" y1="50.40" x2="644.32" y2="50.40" stroke="#1f77b4" stroke-width="0.9"/>
<circle cx="641.82" cy="49.80" r="2.4" fill="#1f77b4"/>
<g transform="translate(516.10,152.80)" fill="none" stroke="#000" stroke-linecap="round"><path d="M0.8,6.6 C1.6,5.8 2.3,3.9 2.8,2.1" stroke-width="0.7"/><ellipse cx="0.9" cy="6.5" rx="0.9" ry="0.55" fill="#000" stroke="none"/><path d="M2.9,2.0 L5.2,6.0" stroke-width="1.35"/><path d="M5.3,5.9 C5.7,4.5 6.2,2.2 7.1,0.9" stroke-width="0.6"/><ellipse cx="8.1" cy="0.6" rx="1.0" ry="0.5" fill="#000" stroke="none"/></g>
<text x="354.60" y="11.80" font-weight="bold" font-size="10.2">b</text>
<line x1="37.50" y1="171.07" x2="37.50" y2="310.31" stroke="#000" stroke-width="0.72"/>
<line x1="305.80" y1="171.07" x2="305.80" y2="310.31" stroke="#000" stroke-width="0.66"/>
<line x1="37.14" y1="171.50" x2="306.13" y2="171.50" stroke="#000" stroke-width="0.85"/>
<line x1="37.14" y1="309.95" x2="306.13" y2="309.95" stroke="#000" stroke-width="0.72"/>
<line x1="154.45" y1="171.50" x2="154.45" y2="309.95" stroke="#5e5e5e" stroke-width="1.05" stroke-dasharray="3.2,1.6" stroke-dashoffset="4.2"/>
<line x1="35.00" y1="174.30" x2="37.50" y2="174.30" stroke="#000" stroke-width="0.75"/>
<text x="33.30" y="178.30" fill="#d62728" stroke="#d62728" stroke-width="0.22" text-anchor="end" font-size="10.0" textLength="13.11" lengthAdjust="spacingAndGlyphs">1.0</text>
<line x1="35.00" y1="205.80" x2="37.50" y2="205.80" stroke="#000" stroke-width="0.75"/>
<text x="33.30" y="209.80" fill="#d62728" stroke="#d62728" stroke-width="0.22" text-anchor="end" font-size="10.0" textLength="13.11" lengthAdjust="spacingAndGlyphs">0.9</text>
<line x1="35.00" y1="237.30" x2="37.50" y2="237.30" stroke="#000" stroke-width="0.75"/>
<text x="33.30" y="241.30" fill="#d62728" stroke="#d62728" stroke-width="0.22" text-anchor="end" font-size="10.0" textLength="13.11" lengthAdjust="spacingAndGlyphs">0.8</text>
<line x1="35.00" y1="268.80" x2="37.50" y2="268.80" stroke="#000" stroke-width="0.75"/>
<text x="33.30" y="272.80" fill="#d62728" stroke="#d62728" stroke-width="0.22" text-anchor="end" font-size="10.0" textLength="13.11" lengthAdjust="spacingAndGlyphs">0.7</text>
<line x1="35.00" y1="300.30" x2="37.50" y2="300.30" stroke="#000" stroke-width="0.75"/>
<text x="33.30" y="304.30" fill="#d62728" stroke="#d62728" stroke-width="0.22" text-anchor="end" font-size="10.0" textLength="13.11" lengthAdjust="spacingAndGlyphs">0.6</text>
<line x1="305.80" y1="173.60" x2="308.30" y2="173.60" stroke="#000" stroke-width="0.75"/>
<text x="310.30" y="177.60" fill="#1f77b4" stroke="#1f77b4" stroke-width="0.22" text-anchor="start" font-size="10.0" textLength="13.11" lengthAdjust="spacingAndGlyphs">1.0</text>
<line x1="305.80" y1="193.60" x2="308.30" y2="193.60" stroke="#000" stroke-width="0.75"/>
<text x="310.30" y="197.60" fill="#1f77b4" stroke="#1f77b4" stroke-width="0.22" text-anchor="start" font-size="10.0" textLength="13.11" lengthAdjust="spacingAndGlyphs">0.9</text>
<line x1="305.80" y1="213.60" x2="308.30" y2="213.60" stroke="#000" stroke-width="0.75"/>
<text x="310.30" y="217.60" fill="#1f77b4" stroke="#1f77b4" stroke-width="0.22" text-anchor="start" font-size="10.0" textLength="13.11" lengthAdjust="spacingAndGlyphs">0.8</text>
<line x1="305.80" y1="233.60" x2="308.30" y2="233.60" stroke="#000" stroke-width="0.75"/>
<text x="310.30" y="237.60" fill="#1f77b4" stroke="#1f77b4" stroke-width="0.22" text-anchor="start" font-size="10.0" textLength="13.11" lengthAdjust="spacingAndGlyphs">0.7</text>
<line x1="305.80" y1="253.60" x2="308.30" y2="253.60" stroke="#000" stroke-width="0.75"/>
<text x="310.30" y="257.60" fill="#1f77b4" stroke="#1f77b4" stroke-width="0.22" text-anchor="start" font-size="10.0" textLength="13.11" lengthAdjust="spacingAndGlyphs">0.6</text>
<line x1="305.80" y1="273.60" x2="308.30" y2="273.60" stroke="#000" stroke-width="0.75"/>
<text x="310.30" y="277.60" fill="#1f77b4" stroke="#1f77b4" stroke-width="0.22" text-anchor="start" font-size="10.0" textLength="13.11" lengthAdjust="spacingAndGlyphs">0.5</text>
<line x1="305.80" y1="293.60" x2="308.30" y2="293.60" stroke="#000" stroke-width="0.75"/>
<text x="310.30" y="297.60" fill="#1f77b4" stroke="#1f77b4" stroke-width="0.22" text-anchor="start" font-size="10.0" textLength="13.11" lengthAdjust="spacingAndGlyphs">0.4</text>
<line x1="58.40" y1="309.95" x2="58.40" y2="312.45" stroke="#000" stroke-width="0.75"/>
<text x="58.40" y="320.90" fill="#000" stroke="#000" stroke-width="0.22" text-anchor="middle" font-size="10.0" textLength="10.81" lengthAdjust="spacingAndGlyphs">10</text>
<line x1="102.00" y1="309.95" x2="102.00" y2="312.45" stroke="#000" stroke-width="0.75"/>
<text x="102.00" y="320.90" fill="#000" stroke="#000" stroke-width="0.22" text-anchor="middle" font-size="10.0" textLength="10.81" lengthAdjust="spacingAndGlyphs">20</text>
<line x1="145.60" y1="309.95" x2="145.60" y2="312.45" stroke="#000" stroke-width="0.75"/>
<text x="145.60" y="320.90" fill="#000" stroke="#000" stroke-width="0.22" text-anchor="middle" font-size="10.0" textLength="10.81" lengthAdjust="spacingAndGlyphs">30</text>
<line x1="189.20" y1="309.95" x2="189.20" y2="312.45" stroke="#000" stroke-width="0.75"/>
<text x="189.20" y="320.90" fill="#000" stroke="#000" stroke-width="0.22" text-anchor="middle" font-size="10.0" textLength="10.81" lengthAdjust="spacingAndGlyphs">40</text>
<line x1="232.80" y1="309.95" x2="232.80" y2="312.45" stroke="#000" stroke-width="0.75"/>
<text x="232.80" y="320.90" fill="#000" stroke="#000" stroke-width="0.22" text-anchor="middle" font-size="10.0" textLength="10.81" lengthAdjust="spacingAndGlyphs">50</text>
<line x1="276.40" y1="309.95" x2="276.40" y2="312.45" stroke="#000" stroke-width="0.75"/>
<text x="276.40" y="320.90" fill="#000" stroke="#000" stroke-width="0.22" text-anchor="middle" font-size="10.0" textLength="10.81" lengthAdjust="spacingAndGlyphs">60</text>
<line x1="49.68" y1="259.50" x2="49.68" y2="303.20" stroke="#d62728" stroke-width="1.3"/>
<line x1="47.18" y1="259.50" x2="52.18" y2="259.50" stroke="#d62728" stroke-width="0.9"/>
<line x1="47.18" y1="303.20" x2="52.18" y2="303.20" stroke="#d62728" stroke-width="0.9"/>
<circle cx="49.68" cy="281.20" r="2.4" fill="#d62728"/>
<line x1="58.40" y1="218.30" x2="58.40" y2="260.70" stroke="#d62728" stroke-width="1.3"/>
<line x1="55.90" y1="218.30" x2="60.90" y2="218.30" stroke="#d62728" stroke-width="0.9"/>
<line x1="55.90" y1="260.70" x2="60.90" y2="260.70" stroke="#d62728" stroke-width="0.9"/>
<circle cx="58.40" cy="239.60" r="2.4" fill="#d62728"/>
<line x1="67.12" y1="210.60" x2="67.12" y2="228.00" stroke="#d62728" stroke-width="1.3"/>
<line x1="64.62" y1="210.60" x2="69.62" y2="210.60" stroke="#d62728" stroke-width="0.9"/>
<line x1="64.62" y1="228.00" x2="69.62" y2="228.00" stroke="#d62728" stroke-width="0.9"/>
<circle cx="67.12" cy="219.50" r="2.4" fill="#d62728"/>
<line x1="75.84" y1="199.50" x2="75.84" y2="208.60" stroke="#d62728" stroke-width="1.3"/>
<line x1="73.34" y1="199.50" x2="78.34" y2="199.50" stroke="#d62728" stroke-width="0.9"/>
<line x1="73.34" y1="208.60" x2="78.34" y2="208.60" stroke="#d62728" stroke-width="0.9"/>
<circle cx="75.84" cy="204.30" r="2.4" fill="#d62728"/>
<line x1="84.56" y1="198.50" x2="84.56" y2="208.60" stroke="#d62728" stroke-width="1.3"/>
<line x1="82.06" y1="198.50" x2="87.06" y2="198.50" stroke="#d62728" stroke-width="0.9"/>
<line x1="82.06" y1="208.60" x2="87.06" y2="208.60" stroke="#d62728" stroke-width="0.9"/>
<circle cx="84.56" cy="203.80" r="2.4" fill="#d62728"/>
<line x1="93.28" y1="193.40" x2="93.28" y2="199.50" stroke="#d62728" stroke-width="1.3"/>
<line x1="90.78" y1="193.40" x2="95.78" y2="193.40" stroke="#d62728" stroke-width="0.9"/>
<line x1="90.78" y1="199.50" x2="95.78" y2="199.50" stroke="#d62728" stroke-width="0.9"/>
<circle cx="93.28" cy="196.10" r="2.4" fill="#d62728"/>
<line x1="102.00" y1="185.30" x2="102.00" y2="188.90" stroke="#d62728" stroke-width="1.3"/>
<line x1="99.50" y1="185.30" x2="104.50" y2="185.30" stroke="#d62728" stroke-width="0.9"/>
<line x1="99.50" y1="188.90" x2="104.50" y2="188.90" stroke="#d62728" stroke-width="0.9"/>
<circle cx="102.00" cy="187.10" r="2.4" fill="#d62728"/>
<line x1="110.72" y1="184.60" x2="110.72" y2="187.20" stroke="#d62728" stroke-width="1.3"/>
<line x1="108.22" y1="184.60" x2="113.22" y2="184.60" stroke="#d62728" stroke-width="0.9"/>
<line x1="108.22" y1="187.20" x2="113.22" y2="187.20" stroke="#d62728" stroke-width="0.9"/>
<circle cx="110.72" cy="185.90" r="2.4" fill="#d62728"/>
<line x1="119.44" y1="185.50" x2="119.44" y2="188.10" stroke="#d62728" stroke-width="1.3"/>
<line x1="116.94" y1="185.50" x2="121.94" y2="185.50" stroke="#d62728" stroke-width="0.9"/>
<line x1="116.94" y1="188.10" x2="121.94" y2="188.10" stroke="#d62728" stroke-width="0.9"/>
<circle cx="119.44" cy="186.80" r="2.4" fill="#d62728"/>
<line x1="128.16" y1="182.30" x2="128.16" y2="184.50" stroke="#d62728" stroke-width="1.3"/>
<line x1="125.66" y1="182.30" x2="130.66" y2="182.30" stroke="#d62728" stroke-width="0.9"/>
<line x1="125.66" y1="184.50" x2="130.66" y2="184.50" stroke="#d62728" stroke-width="0.9"/>
<circle cx="128.16" cy="183.40" r="2.4" fill="#d62728"/>
<line x1="136.88" y1="181.70" x2="136.88" y2="183.70" stroke="#d62728" stroke-width="1.3"/>
<line x1="134.38" y1="181.70" x2="139.38" y2="181.70" stroke="#d62728" stroke-width="0.9"/>
<line x1="134.38" y1="183.70" x2="139.38" y2="183.70" stroke="#d62728" stroke-width="0.9"/>
<circle cx="136.88" cy="182.70" r="2.4" fill="#d62728"/>
<line x1="145.60" y1="181.20" x2="145.60" y2="183.00" stroke="#d62728" stroke-width="1.3"/>
<line x1="143.10" y1="181.20" x2="148.10" y2="181.20" stroke="#d62728" stroke-width="0.9"/>
<line x1="143.10" y1="183.00" x2="148.10" y2="183.00" stroke="#d62728" stroke-width="0.9"/>
<circle cx="145.60" cy="182.10" r="2.4" fill="#d62728"/>
<line x1="154.32" y1="178.80" x2="154.32" y2="180.40" stroke="#d62728" stroke-width="1.3"/>
<line x1="151.82" y1="178.80" x2="156.82" y2="178.80" stroke="#d62728" stroke-width="0.9"/>
<line x1="151.82" y1="180.40" x2="156.82" y2="180.40" stroke="#d62728" stroke-width="0.9"/>
<circle cx="154.32" cy="179.60" r="2.4" fill="#d62728"/>
<line x1="163.04" y1="180.40" x2="163.04" y2="182.00" stroke="#d62728" stroke-width="1.3"/>
<line x1="160.54" y1="180.40" x2="165.54" y2="180.40" stroke="#d62728" stroke-width="0.9"/>
<line x1="160.54" y1="182.00" x2="165.54" y2="182.00" stroke="#d62728" stroke-width="0.9"/>
<circle cx="163.04" cy="181.20" r="2.4" fill="#d62728"/>
<line x1="171.76" y1="179.30" x2="171.76" y2="180.70" stroke="#d62728" stroke-width="1.3"/>
<line x1="169.26" y1="179.30" x2="174.26" y2="179.30" stroke="#d62728" stroke-width="0.9"/>
<line x1="169.26" y1="180.70" x2="174.26" y2="180.70" stroke="#d62728" stroke-width="0.9"/>
<circle cx="171.76" cy="180.00" r="2.4" fill="#d62728"/>
<line x1="180.48" y1="177.00" x2="180.48" y2="178.20" stroke="#d62728" stroke-width="1.3"/>
<line x1="177.98" y1="177.00" x2="182.98" y2="177.00" stroke="#d62728" stroke-width="0.9"/>
<line x1="177.98" y1="178.20" x2="182.98" y2="178.20" stroke="#d62728" stroke-width="0.9"/>
<circle cx="180.48" cy="177.60" r="2.4" fill="#d62728"/>
<line x1="189.20" y1="177.00" x2="189.20" y2="178.20" stroke="#d62728" stroke-width="1.3"/>
<line x1="186.70" y1="177.00" x2="191.70" y2="177.00" stroke="#d62728" stroke-width="0.9"/>
<line x1="186.70" y1="178.20" x2="191.70" y2="178.20" stroke="#d62728" stroke-width="0.9"/>
<circle cx="189.20" cy="177.60" r="2.4" fill="#d62728"/>
<line x1="197.92" y1="176.40" x2="197.92" y2="177.40" stroke="#d62728" stroke-width="1.3"/>
<line x1="195.42" y1="176.40" x2="200.42" y2="176.40" stroke="#d62728" stroke-width="0.9"/>
<line x1="195.42" y1="177.40" x2="200.42" y2="177.40" stroke="#d62728" stroke-width="0.9"/>
<circle cx="197.92" cy="176.90" r="2.4" fill="#d62728"/>
<line x1="206.64" y1="176.40" x2="206.64" y2="177.40" stroke="#d62728" stroke-width="1.3"/>
<line x1="204.14" y1="176.40" x2="209.14" y2="176.40" stroke="#d62728" stroke-width="0.9"/>
<line x1="204.14" y1="177.40" x2="209.14" y2="177.40" stroke="#d62728" stroke-width="0.9"/>
<circle cx="206.64" cy="176.90" r="2.4" fill="#d62728"/>
<line x1="215.36" y1="176.40" x2="215.36" y2="177.40" stroke="#d62728" stroke-width="1.3"/>
<line x1="212.86" y1="176.40" x2="217.86" y2="176.40" stroke="#d62728" stroke-width="0.9"/>
<line x1="212.86" y1="177.40" x2="217.86" y2="177.40" stroke="#d62728" stroke-width="0.9"/>
<circle cx="215.36" cy="176.90" r="2.4" fill="#d62728"/>
<line x1="224.08" y1="176.20" x2="224.08" y2="177.20" stroke="#d62728" stroke-width="1.3"/>
<line x1="221.58" y1="176.20" x2="226.58" y2="176.20" stroke="#d62728" stroke-width="0.9"/>
<line x1="221.58" y1="177.20" x2="226.58" y2="177.20" stroke="#d62728" stroke-width="0.9"/>
<circle cx="224.08" cy="176.70" r="2.4" fill="#d62728"/>
<line x1="232.80" y1="176.20" x2="232.80" y2="177.20" stroke="#d62728" stroke-width="1.3"/>
<line x1="230.30" y1="176.20" x2="235.30" y2="176.20" stroke="#d62728" stroke-width="0.9"/>
<line x1="230.30" y1="177.20" x2="235.30" y2="177.20" stroke="#d62728" stroke-width="0.9"/>
<circle cx="232.80" cy="176.70" r="2.4" fill="#d62728"/>
<line x1="241.52" y1="175.80" x2="241.52" y2="176.60" stroke="#d62728" stroke-width="1.3"/>
<line x1="239.02" y1="175.80" x2="244.02" y2="175.80" stroke="#d62728" stroke-width="0.9"/>
<line x1="239.02" y1="176.60" x2="244.02" y2="176.60" stroke="#d62728" stroke-width="0.9"/>
<circle cx="241.52" cy="176.20" r="2.4" fill="#d62728"/>
<line x1="250.24" y1="174.60" x2="250.24" y2="175.20" stroke="#d62728" stroke-width="1.3"/>
<line x1="247.74" y1="174.60" x2="252.74" y2="174.60" stroke="#d62728" stroke-width="0.9"/>
<line x1="247.74" y1="175.20" x2="252.74" y2="175.20" stroke="#d62728" stroke-width="0.9"/>
<circle cx="250.24" cy="174.90" r="2.4" fill="#d62728"/>
<line x1="258.96" y1="174.60" x2="258.96" y2="175.20" stroke="#d62728" stroke-width="1.3"/>
<line x1="256.46" y1="174.60" x2="261.46" y2="174.60" stroke="#d62728" stroke-width="0.9"/>
<line x1="256.46" y1="175.20" x2="261.46" y2="175.20" stroke="#d62728" stroke-width="0.9"/>
<circle cx="258.96" cy="174.90" r="2.4" fill="#d62728"/>
<line x1="267.68" y1="174.60" x2="267.68" y2="175.20" stroke="#d62728" stroke-width="1.3"/>
<line x1="265.18" y1="174.60" x2="270.18" y2="174.60" stroke="#d62728" stroke-width="0.9"/>
<line x1="265.18" y1="175.20" x2="270.18" y2="175.20" stroke="#d62728" stroke-width="0.9"/>
<circle cx="267.68" cy="174.90" r="2.4" fill="#d62728"/>
<line x1="276.40" y1="174.20" x2="276.40" y2="174.80" stroke="#d62728" stroke-width="1.3"/>
<line x1="273.90" y1="174.20" x2="278.90" y2="174.20" stroke="#d62728" stroke-width="0.9"/>
<line x1="273.90" y1="174.80" x2="278.90" y2="174.80" stroke="#d62728" stroke-width="0.9"/>
<circle cx="276.40" cy="174.50" r="2.4" fill="#d62728"/>
<line x1="285.12" y1="174.20" x2="285.12" y2="174.80" stroke="#d62728" stroke-width="1.3"/>
<line x1="282.62" y1="174.20" x2="287.62" y2="174.20" stroke="#d62728" stroke-width="0.9"/>
<line x1="282.62" y1="174.80" x2="287.62" y2="174.80" stroke="#d62728" stroke-width="0.9"/>
<circle cx="285.12" cy="174.50" r="2.4" fill="#d62728"/>
<line x1="293.84" y1="174.20" x2="293.84" y2="174.80" stroke="#d62728" stroke-width="1.3"/>
<line x1="291.34" y1="174.20" x2="296.34" y2="174.20" stroke="#d62728" stroke-width="0.9"/>
<line x1="291.34" y1="174.80" x2="296.34" y2="174.80" stroke="#d62728" stroke-width="0.9"/>
<circle cx="293.84" cy="174.50" r="2.4" fill="#d62728"/>
<line x1="49.68" y1="287.50" x2="49.68" y2="303.50" stroke="#1f77b4" stroke-width="1.3"/>
<line x1="47.18" y1="287.50" x2="52.18" y2="287.50" stroke="#1f77b4" stroke-width="0.9"/>
<line x1="47.18" y1="303.50" x2="52.18" y2="303.50" stroke="#1f77b4" stroke-width="0.9"/>
<circle cx="49.68" cy="295.70" r="2.4" fill="#1f77b4"/>
<line x1="58.40" y1="253.40" x2="58.40" y2="275.90" stroke="#1f77b4" stroke-width="1.3"/>
<line x1="55.90" y1="253.40" x2="60.90" y2="253.40" stroke="#1f77b4" stroke-width="0.9"/>
<line x1="55.90" y1="275.90" x2="60.90" y2="275.90" stroke="#1f77b4" stroke-width="0.9"/>
<circle cx="58.40" cy="265.00" r="2.4" fill="#1f77b4"/>
<line x1="67.12" y1="257.80" x2="67.12" y2="273.00" stroke="#1f77b4" stroke-width="1.3"/>
<line x1="64.62" y1="257.80" x2="69.62" y2="257.80" stroke="#1f77b4" stroke-width="0.9"/>
<line x1="64.62" y1="273.00" x2="69.62" y2="273.00" stroke="#1f77b4" stroke-width="0.9"/>
<circle cx="67.12" cy="265.50" r="2.4" fill="#1f77b4"/>
<line x1="75.84" y1="248.80" x2="75.84" y2="260.20" stroke="#1f77b4" stroke-width="1.3"/>
<line x1="73.34" y1="248.80" x2="78.34" y2="248.80" stroke="#1f77b4" stroke-width="0.9"/>
<line x1="73.34" y1="260.20" x2="78.34" y2="260.20" stroke="#1f77b4" stroke-width="0.9"/>
<circle cx="75.84" cy="254.90" r="2.4" fill="#1f77b4"/>
<line x1="84.56" y1="246.20" x2="84.56" y2="258.30" stroke="#1f77b4" stroke-width="1.3"/>
<line x1="82.06" y1="246.20" x2="87.06" y2="246.20" stroke="#1f77b4" stroke-width="0.9"/>
<line x1="82.06" y1="258.30" x2="87.06" y2="258.30" stroke="#1f77b4" stroke-width="0.9"/>
<circle cx="84.56" cy="252.50" r="2.4" fill="#1f77b4"/>
<line x1="93.28" y1="228.50" x2="93.28" y2="240.10" stroke="#1f77b4" stroke-width="1.3"/>
<line x1="90.78" y1="228.50" x2="95.78" y2="228.50" stroke="#1f77b4" stroke-width="0.9"/>
<line x1="90.78" y1="240.10" x2="95.78" y2="240.10" stroke="#1f77b4" stroke-width="0.9"/>
<circle cx="93.28" cy="234.30" r="2.4" fill="#1f77b4"/>
<line x1="102.00" y1="205.00" x2="102.00" y2="212.30" stroke="#1f77b4" stroke-width="1.3"/>
<line x1="99.50" y1="205.00" x2="104.50" y2="205.00" stroke="#1f77b4" stroke-width="0.9"/>
<line x1="99.50" y1="212.30" x2="104.50" y2="212.30" stroke="#1f77b4" stroke-width="0.9"/>
<circle cx="102.00" cy="208.20" r="2.4" fill="#1f77b4"/>
<line x1="110.72" y1="205.50" x2="110.72" y2="213.50" stroke="#1f77b4" stroke-width="1.3"/>
<line x1="108.22" y1="205.50" x2="113.22" y2="205.50" stroke="#1f77b4" stroke-width="0.9"/>
<line x1="108.22" y1="213.50" x2="113.22" y2="213.50" stroke="#1f77b4" stroke-width="0.9"/>
<circle cx="110.72" cy="209.40" r="2.4" fill="#1f77b4"/>
<line x1="119.44" y1="214.20" x2="119.44" y2="218.60" stroke="#1f77b4" stroke-width="1.3"/>
<line x1="116.94" y1="214.20" x2="121.94" y2="214.20" stroke="#1f77b4" stroke-width="0.9"/>
<line x1="116.94" y1="218.60" x2="121.94" y2="218.60" stroke="#1f77b4" stroke-width="0.9"/>
<circle cx="119.44" cy="216.00" r="2.4" fill="#1f77b4"/>
<line x1="128.16" y1="211.70" x2="128.16" y2="216.70" stroke="#1f77b4" stroke-width="1.3"/>
<line x1="125.66" y1="211.70" x2="130.66" y2="211.70" stroke="#1f77b4" stroke-width="0.9"/>
<line x1="125.66" y1="216.70" x2="130.66" y2="216.70" stroke="#1f77b4" stroke-width="0.9"/>
<circle cx="128.16" cy="214.00" r="2.4" fill="#1f77b4"/>
<line x1="136.88" y1="218.00" x2="136.88" y2="219.80" stroke="#1f77b4" stroke-width="1.3"/>
<line x1="134.38" y1="218.00" x2="139.38" y2="218.00" stroke="#1f77b4" stroke-width="0.9"/>
<line x1="134.38" y1="219.80" x2="139.38" y2="219.80" stroke="#1f77b4" stroke-width="0.9"/>
<circle cx="136.88" cy="218.90" r="2.4" fill="#1f77b4"/>
<line x1="145.60" y1="216.80" x2="145.60" y2="218.40" stroke="#1f77b4" stroke-width="1.3"/>
<line x1="143.10" y1="216.80" x2="148.10" y2="216.80" stroke="#1f77b4" stroke-width="0.9"/>
<line x1="143.10" y1="218.40" x2="148.10" y2="218.40" stroke="#1f77b4" stroke-width="0.9"/>
<circle cx="145.60" cy="217.60" r="2.4" fill="#1f77b4"/>
<line x1="154.32" y1="210.00" x2="154.32" y2="211.60" stroke="#1f77b4" stroke-width="1.3"/>
<line x1="151.82" y1="210.00" x2="156.82" y2="210.00" stroke="#1f77b4" stroke-width="0.9"/>
<line x1="151.82" y1="211.60" x2="156.82" y2="211.60" stroke="#1f77b4" stroke-width="0.9"/>
<circle cx="154.32" cy="210.80" r="2.4" fill="#1f77b4"/>
<line x1="163.04" y1="211.30" x2="163.04" y2="212.70" stroke="#1f77b4" stroke-width="1.3"/>
<line x1="160.54" y1="211.30" x2="165.54" y2="211.30" stroke="#1f77b4" stroke-width="0.9"/>
<line x1="160.54" y1="212.70" x2="165.54" y2="212.70" stroke="#1f77b4" stroke-width="0.9"/>
<circle cx="163.04" cy="212.00" r="2.4" fill="#1f77b4"/>
<line x1="171.76" y1="211.00" x2="171.76" y2="212.40" stroke="#1f77b4" stroke-width="1.3"/>
<line x1="169.26" y1="211.00" x2="174.26" y2="211.00" stroke="#1f77b4" stroke-width="0.9"/>
<line x1="169.26" y1="212.40" x2="174.26" y2="212.40" stroke="#1f77b4" stroke-width="0.9"/>
<circle cx="171.76" cy="211.70" r="2.4" fill="#1f77b4"/>
<line x1="180.48" y1="211.40" x2="180.48" y2="212.60" stroke="#1f77b4" stroke-width="1.3"/>
<line x1="177.98" y1="211.40" x2="182.98" y2="211.40" stroke="#1f77b4" stroke-width="0.9"/>
<line x1="177.98" y1="212.60" x2="182.98" y2="212.60" stroke="#1f77b4" stroke-width="0.9"/>
<circle cx="180.48" cy="212.00" r="2.4" fill="#1f77b4"/>
<line x1="189.20" y1="210.50" x2="189.20" y2="211.70" stroke="#1f77b4" stroke-width="1.3"/>
<line x1="186.70" y1="210.50" x2="191.70" y2="210.50" stroke="#1f77b4" stroke-width="0.9"/>
<line x1="186.70" y1="211.70" x2="191.70" y2="211.70" stroke="#1f77b4" stroke-width="0.9"/>
<circle cx="189.20" cy="211.10" r="2.4" fill="#1f77b4"/>
<line x1="197.92" y1="210.30" x2="197.92" y2="211.30" stroke="#1f77b4" stroke-width="1.3"/>
<line x1="195.42" y1="210.30" x2="200.42" y2="210.30" stroke="#1f77b4" stroke-width="0.9"/>
<line x1="195.42" y1="211.30" x2="200.42" y2="211.30" stroke="#1f77b4" stroke-width="0.9"/>
<circle cx="197.92" cy="210.80" r="2.4" fill="#1f77b4"/>
<line x1="206.64" y1="209.00" x2="206.64" y2="210.00" stroke="#1f77b4" stroke-width="1.3"/>
<line x1="204.14" y1="209.00" x2="209.14" y2="209.00" stroke="#1f77b4" stroke-width="0.9"/>
<line x1="204.14" y1="210.00" x2="209.14" y2="210.00" stroke="#1f77b4" stroke-width="0.9"/>
<circle cx="206.64" cy="209.50" r="2.4" fill="#1f77b4"/>
<line x1="215.36" y1="209.20" x2="215.36" y2="210.20" stroke="#1f77b4" stroke-width="1.3"/>
<line x1="212.86" y1="209.20" x2="217.86" y2="209.20" stroke="#1f77b4" stroke-width="0.9"/>
<line x1="212.86" y1="210.20" x2="217.86" y2="210.20" stroke="#1f77b4" stroke-width="0.9"/>
<circle cx="215.36" cy="209.70" r="2.4" fill="#1f77b4"/>
<line x1="224.08" y1="210.40" x2="224.08" y2="211.40" stroke="#1f77b4" stroke-width="1.3"/>
<line x1="221.58" y1="210.40" x2="226.58" y2="210.40" stroke="#1f77b4" stroke-width="0.9"/>
<line x1="221.58" y1="211.40" x2="226.58" y2="211.40" stroke="#1f77b4" stroke-width="0.9"/>
<circle cx="224.08" cy="210.90" r="2.4" fill="#1f77b4"/>
<line x1="232.80" y1="209.80" x2="232.80" y2="210.60" stroke="#1f77b4" stroke-width="1.3"/>
<line x1="230.30" y1="209.80" x2="235.30" y2="209.80" stroke="#1f77b4" stroke-width="0.9"/>
<line x1="230.30" y1="210.60" x2="235.30" y2="210.60" stroke="#1f77b4" stroke-width="0.9"/>
<circle cx="232.80" cy="210.20" r="2.4" fill="#1f77b4"/>
<line x1="241.52" y1="209.80" x2="241.52" y2="210.60" stroke="#1f77b4" stroke-width="1.3"/>
<line x1="239.02" y1="209.80" x2="244.02" y2="209.80" stroke="#1f77b4" stroke-width="0.9"/>
<line x1="239.02" y1="210.60" x2="244.02" y2="210.60" stroke="#1f77b4" stroke-width="0.9"/>
<circle cx="241.52" cy="210.20" r="2.4" fill="#1f77b4"/>
<line x1="250.24" y1="209.80" x2="250.24" y2="210.60" stroke="#1f77b4" stroke-width="1.3"/>
<line x1="247.74" y1="209.80" x2="252.74" y2="209.80" stroke="#1f77b4" stroke-width="0.9"/>
<line x1="247.74" y1="210.60" x2="252.74" y2="210.60" stroke="#1f77b4" stroke-width="0.9"/>
<circle cx="250.24" cy="210.20" r="2.4" fill="#1f77b4"/>
<line x1="258.96" y1="210.40" x2="258.96" y2="211.20" stroke="#1f77b4" stroke-width="1.3"/>
<line x1="256.46" y1="210.40" x2="261.46" y2="210.40" stroke="#1f77b4" stroke-width="0.9"/>
<line x1="256.46" y1="211.20" x2="261.46" y2="211.20" stroke="#1f77b4" stroke-width="0.9"/>
<circle cx="258.96" cy="210.80" r="2.4" fill="#1f77b4"/>
<line x1="267.68" y1="210.00" x2="267.68" y2="210.80" stroke="#1f77b4" stroke-width="1.3"/>
<line x1="265.18" y1="210.00" x2="270.18" y2="210.00" stroke="#1f77b4" stroke-width="0.9"/>
<line x1="265.18" y1="210.80" x2="270.18" y2="210.80" stroke="#1f77b4" stroke-width="0.9"/>
<circle cx="267.68" cy="210.40" r="2.4" fill="#1f77b4"/>
<line x1="276.40" y1="208.90" x2="276.40" y2="209.70" stroke="#1f77b4" stroke-width="1.3"/>
<line x1="273.90" y1="208.90" x2="278.90" y2="208.90" stroke="#1f77b4" stroke-width="0.9"/>
<line x1="273.90" y1="209.70" x2="278.90" y2="209.70" stroke="#1f77b4" stroke-width="0.9"/>
<circle cx="276.40" cy="209.30" r="2.4" fill="#1f77b4"/>
<line x1="285.12" y1="209.30" x2="285.12" y2="210.10" stroke="#1f77b4" stroke-width="1.3"/>
<line x1="282.62" y1="209.30" x2="287.62" y2="209.30" stroke="#1f77b4" stroke-width="0.9"/>
<line x1="282.62" y1="210.10" x2="287.62" y2="210.10" stroke="#1f77b4" stroke-width="0.9"/>
<circle cx="285.12" cy="209.70" r="2.4" fill="#1f77b4"/>
<line x1="293.84" y1="209.30" x2="293.84" y2="210.10" stroke="#1f77b4" stroke-width="1.3"/>
<line x1="291.34" y1="209.30" x2="296.34" y2="209.30" stroke="#1f77b4" stroke-width="0.9"/>
<line x1="291.34" y1="210.10" x2="296.34" y2="210.10" stroke="#1f77b4" stroke-width="0.9"/>
<circle cx="293.84" cy="209.70" r="2.4" fill="#1f77b4"/>
<g transform="translate(167.70,323.60)" fill="none" stroke="#000" stroke-linecap="round"><path d="M0.8,6.6 C1.6,5.8 2.3,3.9 2.8,2.1" stroke-width="0.7"/><ellipse cx="0.9" cy="6.5" rx="0.9" ry="0.55" fill="#000" stroke="none"/><path d="M2.9,2.0 L5.2,6.0" stroke-width="1.35"/><path d="M5.3,5.9 C5.7,4.5 6.2,2.2 7.1,0.9" stroke-width="0.6"/><ellipse cx="8.1" cy="0.6" rx="1.0" ry="0.5" fill="#000" stroke="none"/></g>
<text x="6.50" y="180.90" font-weight="bold" font-size="10.2">c</text>
<line x1="385.77" y1="171.07" x2="385.77" y2="310.31" stroke="#000" stroke-width="0.72"/>
<line x1="654.07" y1="171.07" x2="654.07" y2="310.31" stroke="#000" stroke-width="0.66"/>
<line x1="385.41" y1="171.50" x2="654.40" y2="171.50" stroke="#000" stroke-width="0.85"/>
<line x1="385.41" y1="309.95" x2="654.40" y2="309.95" stroke="#000" stroke-width="0.72"/>
<line x1="383.27" y1="175.40" x2="385.77" y2="175.40" stroke="#000" stroke-width="0.75"/>
<text x="381.57" y="179.40" fill="#d62728" stroke="#d62728" stroke-width="0.22" text-anchor="end" font-size="10.0" textLength="18.51" lengthAdjust="spacingAndGlyphs">1.00</text>
<line x1="383.27" y1="208.85" x2="385.77" y2="208.85" stroke="#000" stroke-width="0.75"/>
<text x="381.57" y="212.85" fill="#d62728" stroke="#d62728" stroke-width="0.22" text-anchor="end" font-size="10.0" textLength="18.51" lengthAdjust="spacingAndGlyphs">0.95</text>
<line x1="383.27" y1="242.30" x2="385.77" y2="242.30" stroke="#000" stroke-width="0.75"/>
<text x="381.57" y="246.30" fill="#d62728" stroke="#d62728" stroke-width="0.22" text-anchor="end" font-size="10.0" textLength="18.51" lengthAdjust="spacingAndGlyphs">0.90</text>
<line x1="383.27" y1="275.75" x2="385.77" y2="275.75" stroke="#000" stroke-width="0.75"/>
<text x="381.57" y="279.75" fill="#d62728" stroke="#d62728" stroke-width="0.22" text-anchor="end" font-size="10.0" textLength="18.51" lengthAdjust="spacingAndGlyphs">0.85</text>
<line x1="383.27" y1="309.20" x2="385.77" y2="309.20" stroke="#000" stroke-width="0.75"/>
<text x="381.57" y="313.20" fill="#d62728" stroke="#d62728" stroke-width="0.22" text-anchor="end" font-size="10.0" textLength="18.51" lengthAdjust="spacingAndGlyphs">0.80</text>
<line x1="654.07" y1="173.50" x2="656.57" y2="173.50" stroke="#000" stroke-width="0.75"/>
<text x="658.57" y="177.50" fill="#1f77b4" stroke="#1f77b4" stroke-width="0.22" text-anchor="start" font-size="10.0" textLength="13.11" lengthAdjust="spacingAndGlyphs">1.0</text>
<line x1="654.07" y1="194.40" x2="656.57" y2="194.40" stroke="#000" stroke-width="0.75"/>
<text x="658.57" y="198.40" fill="#1f77b4" stroke="#1f77b4" stroke-width="0.22" text-anchor="start" font-size="10.0" textLength="13.11" lengthAdjust="spacingAndGlyphs">0.9</text>
<line x1="654.07" y1="215.30" x2="656.57" y2="215.30" stroke="#000" stroke-width="0.75"/>
<text x="658.57" y="219.30" fill="#1f77b4" stroke="#1f77b4" stroke-width="0.22" text-anchor="start" font-size="10.0" textLength="13.11" lengthAdjust="spacingAndGlyphs">0.8</text>
<line x1="654.07" y1="236.20" x2="656.57" y2="236.20" stroke="#000" stroke-width="0.75"/>
<text x="658.57" y="240.20" fill="#1f77b4" stroke="#1f77b4" stroke-width="0.22" text-anchor="start" font-size="10.0" textLength="13.11" lengthAdjust="spacingAndGlyphs">0.7</text>
<line x1="654.07" y1="257.10" x2="656.57" y2="257.10" stroke="#000" stroke-width="0.75"/>
<text x="658.57" y="261.10" fill="#1f77b4" stroke="#1f77b4" stroke-width="0.22" text-anchor="start" font-size="10.0" textLength="13.11" lengthAdjust="spacingAndGlyphs">0.6</text>
<line x1="654.07" y1="278.00" x2="656.57" y2="278.00" stroke="#000" stroke-width="0.75"/>
<text x="658.57" y="282.00" fill="#1f77b4" stroke="#1f77b4" stroke-width="0.22" text-anchor="start" font-size="10.0" textLength="13.11" lengthAdjust="spacingAndGlyphs">0.5</text>
<line x1="654.07" y1="298.90" x2="656.57" y2="298.90" stroke="#000" stroke-width="0.75"/>
<text x="658.57" y="302.90" fill="#1f77b4" stroke="#1f77b4" stroke-width="0.22" text-anchor="start" font-size="10.0" textLength="13.11" lengthAdjust="spacingAndGlyphs">0.4</text>
<line x1="432.48" y1="309.95" x2="432.48" y2="312.45" stroke="#000" stroke-width="0.75"/>
<text x="432.48" y="320.90" fill="#000" stroke="#000" stroke-width="0.22" text-anchor="middle" font-size="10.0" textLength="10.81" lengthAdjust="spacingAndGlyphs">50</text>
<line x1="483.25" y1="309.95" x2="483.25" y2="312.45" stroke="#000" stroke-width="0.75"/>
<text x="483.25" y="320.90" fill="#000" stroke="#000" stroke-width="0.22" text-anchor="middle" font-size="10.0" textLength="16.22" lengthAdjust="spacingAndGlyphs">100</text>
<line x1="534.02" y1="309.95" x2="534.02" y2="312.45" stroke="#000" stroke-width="0.75"/>
<text x="534.02" y="320.90" fill="#000" stroke="#000" stroke-width="0.22" text-anchor="middle" font-size="10.0" textLength="16.22" lengthAdjust="spacingAndGlyphs">150</text>
<line x1="584.80" y1="309.95" x2="584.80" y2="312.45" stroke="#000" stroke-width="0.75"/>
<text x="584.80" y="320.90" fill="#000" stroke="#000" stroke-width="0.22" text-anchor="middle" font-size="10.0" textLength="16.22" lengthAdjust="spacingAndGlyphs">200</text>
<line x1="635.58" y1="309.95" x2="635.58" y2="312.45" stroke="#000" stroke-width="0.75"/>
<text x="635.58" y="320.90" fill="#000" stroke="#000" stroke-width="0.22" text-anchor="middle" font-size="10.0" textLength="16.22" lengthAdjust="spacingAndGlyphs">250</text>
<line x1="397.50" y1="245.80" x2="397.50" y2="285.00" stroke="#d62728" stroke-width="0.85"/>
<line x1="395.00" y1="245.80" x2="400.00" y2="245.80" stroke="#d62728" stroke-width="0.9"/>
<line x1="395.00" y1="285.00" x2="400.00" y2="285.00" stroke="#d62728" stroke-width="0.9"/>
<line x1="399.50" y1="246.70" x2="399.50" y2="285.00" stroke="#d62728" stroke-width="0.85"/>
<line x1="397.00" y1="246.70" x2="402.00" y2="246.70" stroke="#d62728" stroke-width="0.9"/>
<line x1="397.00" y1="285.00" x2="402.00" y2="285.00" stroke="#d62728" stroke-width="0.9"/>
<line x1="402.50" y1="240.20" x2="402.50" y2="285.00" stroke="#d62728" stroke-width="0.85"/>
<line x1="400.00" y1="240.20" x2="405.00" y2="240.20" stroke="#d62728" stroke-width="0.9"/>
<line x1="400.00" y1="285.00" x2="405.00" y2="285.00" stroke="#d62728" stroke-width="0.9"/>
<line x1="404.50" y1="239.60" x2="404.50" y2="285.00" stroke="#d62728" stroke-width="0.85"/>
<line x1="402.00" y1="239.60" x2="407.00" y2="239.60" stroke="#d62728" stroke-width="0.9"/>
<line x1="402.00" y1="285.00" x2="407.00" y2="285.00" stroke="#d62728" stroke-width="0.9"/>
<line x1="406.50" y1="243.00" x2="406.50" y2="285.00" stroke="#d62728" stroke-width="0.85"/>
<line x1="404.00" y1="243.00" x2="409.00" y2="243.00" stroke="#d62728" stroke-width="0.9"/>
<line x1="404.00" y1="285.00" x2="409.00" y2="285.00" stroke="#d62728" stroke-width="0.9"/>
<line x1="408.50" y1="242.00" x2="408.50" y2="285.00" stroke="#d62728" stroke-width="0.85"/>
<line x1="406.00" y1="242.00" x2="411.00" y2="242.00" stroke="#d62728" stroke-width="0.9"/>
<line x1="406.00" y1="285.00" x2="411.00" y2="285.00" stroke="#d62728" stroke-width="0.9"/>
<line x1="410.50" y1="241.00" x2="410.50" y2="285.00" stroke="#d62728" stroke-width="0.85"/>
<line x1="408.00" y1="241.00" x2="413.00" y2="241.00" stroke="#d62728" stroke-width="0.9"/>
<line x1="408.00" y1="285.00" x2="413.00" y2="285.00" stroke="#d62728" stroke-width="0.9"/>
<line x1="412.50" y1="236.40" x2="412.50" y2="285.00" stroke="#d62728" stroke-width="0.85"/>
<line x1="410.00" y1="236.40" x2="415.00" y2="236.40" stroke="#d62728" stroke-width="0.9"/>
<line x1="410.00" y1="285.00" x2="415.00" y2="285.00" stroke="#d62728" stroke-width="0.9"/>
<line x1="414.50" y1="236.40" x2="414.50" y2="285.00" stroke="#d62728" stroke-width="0.85"/>
<line x1="412.00" y1="236.40" x2="417.00" y2="236.40" stroke="#d62728" stroke-width="0.9"/>
<line x1="412.00" y1="285.00" x2="417.00" y2="285.00" stroke="#d62728" stroke-width="0.9"/>
<line x1="416.50" y1="232.70" x2="416.50" y2="284.00" stroke="#d62728" stroke-width="0.85"/>
<line x1="414.00" y1="232.70" x2="419.00" y2="232.70" stroke="#d62728" stroke-width="0.9"/>
<line x1="414.00" y1="284.00" x2="419.00" y2="284.00" stroke="#d62728" stroke-width="0.9"/>
<line x1="418.50" y1="218.00" x2="418.50" y2="248.60" stroke="#d62728" stroke-width="0.85"/>
<line x1="416.00" y1="218.00" x2="421.00" y2="218.00" stroke="#d62728" stroke-width="0.9"/>
<line x1="416.00" y1="248.60" x2="421.00" y2="248.60" stroke="#d62728" stroke-width="0.9"/>
<line x1="420.50" y1="214.40" x2="420.50" y2="223.60" stroke="#d62728" stroke-width="0.85"/>
<line x1="418.00" y1="214.40" x2="423.00" y2="214.40" stroke="#d62728" stroke-width="0.9"/>
<line x1="418.00" y1="223.60" x2="423.00" y2="223.60" stroke="#d62728" stroke-width="0.9"/>
<line x1="422.50" y1="213.29" x2="422.50" y2="222.21" stroke="#d62728" stroke-width="0.85"/>
<line x1="420.00" y1="213.29" x2="425.00" y2="213.29" stroke="#d62728" stroke-width="0.9"/>
<line x1="420.00" y1="222.21" x2="425.00" y2="222.21" stroke="#d62728" stroke-width="0.9"/>
<line x1="424.50" y1="212.18" x2="424.50" y2="220.82" stroke="#d62728" stroke-width="0.85"/>
<line x1="422.00" y1="212.18" x2="427.00" y2="212.18" stroke="#d62728" stroke-width="0.9"/>
<line x1="422.00" y1="220.82" x2="427.00" y2="220.82" stroke="#d62728" stroke-width="0.9"/>
<line x1="426.50" y1="211.07" x2="426.50" y2="219.43" stroke="#d62728" stroke-width="0.85"/>
<line x1="424.00" y1="211.07" x2="429.00" y2="211.07" stroke="#d62728" stroke-width="0.9"/>
<line x1="424.00" y1="219.43" x2="429.00" y2="219.43" stroke="#d62728" stroke-width="0.9"/>
<line x1="428.50" y1="209.96" x2="428.50" y2="218.04" stroke="#d62728" stroke-width="0.85"/>
<line x1="426.00" y1="209.96" x2="431.00" y2="209.96" stroke="#d62728" stroke-width="0.9"/>
<line x1="426.00" y1="218.04" x2="431.00" y2="218.04" stroke="#d62728" stroke-width="0.9"/>
<line x1="430.50" y1="209.10" x2="430.50" y2="216.90" stroke="#d62728" stroke-width="0.85"/>
<line x1="428.00" y1="209.10" x2="433.00" y2="209.10" stroke="#d62728" stroke-width="0.9"/>
<line x1="428.00" y1="216.90" x2="433.00" y2="216.90" stroke="#d62728" stroke-width="0.9"/>
<line x1="432.50" y1="208.24" x2="432.50" y2="215.76" stroke="#d62728" stroke-width="0.85"/>
<line x1="430.00" y1="208.24" x2="435.00" y2="208.24" stroke="#d62728" stroke-width="0.9"/>
<line x1="430.00" y1="215.76" x2="435.00" y2="215.76" stroke="#d62728" stroke-width="0.9"/>
<line x1="434.50" y1="207.58" x2="434.50" y2="214.82" stroke="#d62728" stroke-width="0.85"/>
<line x1="432.00" y1="207.58" x2="437.00" y2="207.58" stroke="#d62728" stroke-width="0.9"/>
<line x1="432.00" y1="214.82" x2="437.00" y2="214.82" stroke="#d62728" stroke-width="0.9"/>
<line x1="436.50" y1="206.92" x2="436.50" y2="213.88" stroke="#d62728" stroke-width="0.85"/>
<line x1="434.00" y1="206.92" x2="439.00" y2="206.92" stroke="#d62728" stroke-width="0.9"/>
<line x1="434.00" y1="213.88" x2="439.00" y2="213.88" stroke="#d62728" stroke-width="0.9"/>
<line x1="438.50" y1="206.40" x2="438.50" y2="213.08" stroke="#d62728" stroke-width="0.85"/>
<line x1="436.00" y1="206.40" x2="441.00" y2="206.40" stroke="#d62728" stroke-width="0.9"/>
<line x1="436.00" y1="213.08" x2="441.00" y2="213.08" stroke="#d62728" stroke-width="0.9"/>
<line x1="440.50" y1="206.02" x2="440.50" y2="212.42" stroke="#d62728" stroke-width="0.85"/>
<line x1="438.00" y1="206.02" x2="443.00" y2="206.02" stroke="#d62728" stroke-width="0.9"/>
<line x1="438.00" y1="212.42" x2="443.00" y2="212.42" stroke="#d62728" stroke-width="0.9"/>
<line x1="442.50" y1="205.64" x2="442.50" y2="211.76" stroke="#d62728" stroke-width="0.85"/>
<line x1="440.00" y1="205.64" x2="445.00" y2="205.64" stroke="#d62728" stroke-width="0.9"/>
<line x1="440.00" y1="211.76" x2="445.00" y2="211.76" stroke="#d62728" stroke-width="0.9"/>
<line x1="444.50" y1="205.45" x2="444.50" y2="211.29" stroke="#d62728" stroke-width="0.85"/>
<line x1="442.00" y1="205.45" x2="447.00" y2="205.45" stroke="#d62728" stroke-width="0.9"/>
<line x1="442.00" y1="211.29" x2="447.00" y2="211.29" stroke="#d62728" stroke-width="0.9"/>
<line x1="446.50" y1="205.62" x2="446.50" y2="211.18" stroke="#d62728" stroke-width="0.85"/>
<line x1="444.00" y1="205.62" x2="449.00" y2="205.62" stroke="#d62728" stroke-width="0.9"/>
<line x1="444.00" y1="211.18" x2="449.00" y2="211.18" stroke="#d62728" stroke-width="0.9"/>
<line x1="448.50" y1="206.16" x2="448.50" y2="211.44" stroke="#d62728" stroke-width="0.85"/>
<line x1="446.00" y1="206.16" x2="451.00" y2="206.16" stroke="#d62728" stroke-width="0.9"/>
<line x1="446.00" y1="211.44" x2="451.00" y2="211.44" stroke="#d62728" stroke-width="0.9"/>
<line x1="450.50" y1="206.70" x2="450.50" y2="214.30" stroke="#d62728" stroke-width="0.85"/>
<line x1="448.00" y1="206.70" x2="453.00" y2="206.70" stroke="#d62728" stroke-width="0.9"/>
<line x1="448.00" y1="214.30" x2="453.00" y2="214.30" stroke="#d62728" stroke-width="0.9"/>
<line x1="452.50" y1="208.00" x2="452.50" y2="215.60" stroke="#d62728" stroke-width="0.85"/>
<line x1="450.00" y1="208.00" x2="455.00" y2="208.00" stroke="#d62728" stroke-width="0.9"/>
<line x1="450.00" y1="215.60" x2="455.00" y2="215.60" stroke="#d62728" stroke-width="0.9"/>
<line x1="454.50" y1="208.40" x2="454.50" y2="216.00" stroke="#d62728" stroke-width="0.85"/>
<line x1="452.00" y1="208.40" x2="457.00" y2="208.40" stroke="#d62728" stroke-width="0.9"/>
<line x1="452.00" y1="216.00" x2="457.00" y2="216.00" stroke="#d62728" stroke-width="0.9"/>
<line x1="456.50" y1="207.20" x2="456.50" y2="214.80" stroke="#d62728" stroke-width="0.85"/>
<line x1="454.00" y1="207.20" x2="459.00" y2="207.20" stroke="#d62728" stroke-width="0.9"/>
<line x1="454.00" y1="214.80" x2="459.00" y2="214.80" stroke="#d62728" stroke-width="0.9"/>
<line x1="458.50" y1="205.40" x2="458.50" y2="213.00" stroke="#d62728" stroke-width="0.85"/>
<line x1="456.00" y1="205.40" x2="461.00" y2="205.40" stroke="#d62728" stroke-width="0.9"/>
<line x1="456.00" y1="213.00" x2="461.00" y2="213.00" stroke="#d62728" stroke-width="0.9"/>
<line x1="460.50" y1="205.85" x2="460.50" y2="211.85" stroke="#d62728" stroke-width="0.85"/>
<line x1="458.00" y1="205.85" x2="463.00" y2="205.85" stroke="#d62728" stroke-width="0.9"/>
<line x1="458.00" y1="211.85" x2="463.00" y2="211.85" stroke="#d62728" stroke-width="0.9"/>
<line x1="462.50" y1="205.50" x2="462.50" y2="211.50" stroke="#d62728" stroke-width="0.85"/>
<line x1="460.00" y1="205.50" x2="465.00" y2="205.50" stroke="#d62728" stroke-width="0.9"/>
<line x1="460.00" y1="211.50" x2="465.00" y2="211.50" stroke="#d62728" stroke-width="0.9"/>
<line x1="464.50" y1="202.41" x2="464.50" y2="203.61" stroke="#d62728" stroke-width="0.85"/>
<line x1="463.00" y1="202.41" x2="466.00" y2="202.41" stroke="#d62728" stroke-width="0.9"/>
<line x1="463.00" y1="203.61" x2="466.00" y2="203.61" stroke="#d62728" stroke-width="0.9"/>
<line x1="467.50" y1="202.44" x2="467.50" y2="203.64" stroke="#d62728" stroke-width="0.85"/>
<line x1="466.00" y1="202.44" x2="469.00" y2="202.44" stroke="#d62728" stroke-width="0.9"/>
<line x1="466.00" y1="203.64" x2="469.00" y2="203.64" stroke="#d62728" stroke-width="0.9"/>
<line x1="469.50" y1="202.47" x2="469.50" y2="203.67" stroke="#d62728" stroke-width="0.85"/>
<line x1="468.00" y1="202.47" x2="471.00" y2="202.47" stroke="#d62728" stroke-width="0.9"/>
<line x1="468.00" y1="203.67" x2="471.00" y2="203.67" stroke="#d62728" stroke-width="0.9"/>
<line x1="471.50" y1="202.50" x2="471.50" y2="203.70" stroke="#d62728" stroke-width="0.85"/>
<line x1="470.00" y1="202.50" x2="473.00" y2="202.50" stroke="#d62728" stroke-width="0.9"/>
<line x1="470.00" y1="203.70" x2="473.00" y2="203.70" stroke="#d62728" stroke-width="0.9"/>
<line x1="473.50" y1="202.54" x2="473.50" y2="203.74" stroke="#d62728" stroke-width="0.85"/>
<line x1="472.00" y1="202.54" x2="475.00" y2="202.54" stroke="#d62728" stroke-width="0.9"/>
<line x1="472.00" y1="203.74" x2="475.00" y2="203.74" stroke="#d62728" stroke-width="0.9"/>
<line x1="475.50" y1="202.57" x2="475.50" y2="203.77" stroke="#d62728" stroke-width="0.85"/>
<line x1="474.00" y1="202.57" x2="477.00" y2="202.57" stroke="#d62728" stroke-width="0.9"/>
<line x1="474.00" y1="203.77" x2="477.00" y2="203.77" stroke="#d62728" stroke-width="0.9"/>
<line x1="477.50" y1="202.60" x2="477.50" y2="203.80" stroke="#d62728" stroke-width="0.85"/>
<line x1="476.00" y1="202.60" x2="479.00" y2="202.60" stroke="#d62728" stroke-width="0.9"/>
<line x1="476.00" y1="203.80" x2="479.00" y2="203.80" stroke="#d62728" stroke-width="0.9"/>
<line x1="479.50" y1="204.40" x2="479.50" y2="205.60" stroke="#d62728" stroke-width="0.85"/>
<line x1="478.00" y1="204.40" x2="481.00" y2="204.40" stroke="#d62728" stroke-width="0.9"/>
<line x1="478.00" y1="205.60" x2="481.00" y2="205.60" stroke="#d62728" stroke-width="0.9"/>
<line x1="481.50" y1="204.40" x2="481.50" y2="205.60" stroke="#d62728" stroke-width="0.85"/>
<line x1="480.00" y1="204.40" x2="483.00" y2="204.40" stroke="#d62728" stroke-width="0.9"/>
<line x1="480.00" y1="205.60" x2="483.00" y2="205.60" stroke="#d62728" stroke-width="0.9"/>
<line x1="483.50" y1="204.40" x2="483.50" y2="205.60" stroke="#d62728" stroke-width="0.85"/>
<line x1="482.00" y1="204.40" x2="485.00" y2="204.40" stroke="#d62728" stroke-width="0.9"/>
<line x1="482.00" y1="205.60" x2="485.00" y2="205.60" stroke="#d62728" stroke-width="0.9"/>
<line x1="485.50" y1="200.73" x2="485.50" y2="201.93" stroke="#d62728" stroke-width="0.85"/>
<line x1="484.00" y1="200.73" x2="487.00" y2="200.73" stroke="#d62728" stroke-width="0.9"/>
<line x1="484.00" y1="201.93" x2="487.00" y2="201.93" stroke="#d62728" stroke-width="0.9"/>
<line x1="487.50" y1="198.87" x2="487.50" y2="200.07" stroke="#d62728" stroke-width="0.85"/>
<line x1="486.00" y1="198.87" x2="489.00" y2="198.87" stroke="#d62728" stroke-width="0.9"/>
<line x1="486.00" y1="200.07" x2="489.00" y2="200.07" stroke="#d62728" stroke-width="0.9"/>
<line x1="489.50" y1="198.84" x2="489.50" y2="200.04" stroke="#d62728" stroke-width="0.85"/>
<line x1="488.00" y1="198.84" x2="491.00" y2="198.84" stroke="#d62728" stroke-width="0.9"/>
<line x1="488.00" y1="200.04" x2="491.00" y2="200.04" stroke="#d62728" stroke-width="0.9"/>
<line x1="491.50" y1="198.80" x2="491.50" y2="200.00" stroke="#d62728" stroke-width="0.85"/>
<line x1="490.00" y1="198.80" x2="493.00" y2="198.80" stroke="#d62728" stroke-width="0.9"/>
<line x1="490.00" y1="200.00" x2="493.00" y2="200.00" stroke="#d62728" stroke-width="0.9"/>
<line x1="493.50" y1="198.77" x2="493.50" y2="199.97" stroke="#d62728" stroke-width="0.85"/>
<line x1="492.00" y1="198.77" x2="495.00" y2="198.77" stroke="#d62728" stroke-width="0.9"/>
<line x1="492.00" y1="199.97" x2="495.00" y2="199.97" stroke="#d62728" stroke-width="0.9"/>
<line x1="495.50" y1="198.73" x2="495.50" y2="199.93" stroke="#d62728" stroke-width="0.85"/>
<line x1="494.00" y1="198.73" x2="497.00" y2="198.73" stroke="#d62728" stroke-width="0.9"/>
<line x1="494.00" y1="199.93" x2="497.00" y2="199.93" stroke="#d62728" stroke-width="0.9"/>
<line x1="497.50" y1="198.70" x2="497.50" y2="199.90" stroke="#d62728" stroke-width="0.85"/>
<line x1="496.00" y1="198.70" x2="499.00" y2="198.70" stroke="#d62728" stroke-width="0.9"/>
<line x1="496.00" y1="199.90" x2="499.00" y2="199.90" stroke="#d62728" stroke-width="0.9"/>
<line x1="499.50" y1="195.94" x2="499.50" y2="197.14" stroke="#d62728" stroke-width="0.85"/>
<line x1="498.00" y1="195.94" x2="501.00" y2="195.94" stroke="#d62728" stroke-width="0.9"/>
<line x1="498.00" y1="197.14" x2="501.00" y2="197.14" stroke="#d62728" stroke-width="0.9"/>
<line x1="501.50" y1="195.68" x2="501.50" y2="196.88" stroke="#d62728" stroke-width="0.85"/>
<line x1="500.00" y1="195.68" x2="503.00" y2="195.68" stroke="#d62728" stroke-width="0.9"/>
<line x1="500.00" y1="196.88" x2="503.00" y2="196.88" stroke="#d62728" stroke-width="0.9"/>
<line x1="503.50" y1="195.42" x2="503.50" y2="196.62" stroke="#d62728" stroke-width="0.85"/>
<line x1="502.00" y1="195.42" x2="505.00" y2="195.42" stroke="#d62728" stroke-width="0.9"/>
<line x1="502.00" y1="196.62" x2="505.00" y2="196.62" stroke="#d62728" stroke-width="0.9"/>
<line x1="505.50" y1="195.16" x2="505.50" y2="196.36" stroke="#d62728" stroke-width="0.85"/>
<line x1="504.00" y1="195.16" x2="507.00" y2="195.16" stroke="#d62728" stroke-width="0.9"/>
<line x1="504.00" y1="196.36" x2="507.00" y2="196.36" stroke="#d62728" stroke-width="0.9"/>
<line x1="507.50" y1="194.90" x2="507.50" y2="196.10" stroke="#d62728" stroke-width="0.85"/>
<line x1="506.00" y1="194.90" x2="509.00" y2="194.90" stroke="#d62728" stroke-width="0.9"/>
<line x1="506.00" y1="196.10" x2="509.00" y2="196.10" stroke="#d62728" stroke-width="0.9"/>
<line x1="509.50" y1="194.65" x2="509.50" y2="195.85" stroke="#d62728" stroke-width="0.85"/>
<line x1="508.00" y1="194.65" x2="511.00" y2="194.65" stroke="#d62728" stroke-width="0.9"/>
<line x1="508.00" y1="195.85" x2="511.00" y2="195.85" stroke="#d62728" stroke-width="0.9"/>
<line x1="511.50" y1="194.39" x2="511.50" y2="195.59" stroke="#d62728" stroke-width="0.85"/>
<line x1="510.00" y1="194.39" x2="513.00" y2="194.39" stroke="#d62728" stroke-width="0.9"/>
<line x1="510.00" y1="195.59" x2="513.00" y2="195.59" stroke="#d62728" stroke-width="0.9"/>
<line x1="513.50" y1="194.13" x2="513.50" y2="195.33" stroke="#d62728" stroke-width="0.85"/>
<line x1="512.00" y1="194.13" x2="515.00" y2="194.13" stroke="#d62728" stroke-width="0.9"/>
<line x1="512.00" y1="195.33" x2="515.00" y2="195.33" stroke="#d62728" stroke-width="0.9"/>
<line x1="515.50" y1="193.83" x2="515.50" y2="195.03" stroke="#d62728" stroke-width="0.85"/>
<line x1="514.00" y1="193.83" x2="517.00" y2="193.83" stroke="#d62728" stroke-width="0.9"/>
<line x1="514.00" y1="195.03" x2="517.00" y2="195.03" stroke="#d62728" stroke-width="0.9"/>
<line x1="517.50" y1="193.48" x2="517.50" y2="194.68" stroke="#d62728" stroke-width="0.85"/>
<line x1="516.00" y1="193.48" x2="519.00" y2="193.48" stroke="#d62728" stroke-width="0.9"/>
<line x1="516.00" y1="194.68" x2="519.00" y2="194.68" stroke="#d62728" stroke-width="0.9"/>
<line x1="519.50" y1="193.14" x2="519.50" y2="194.34" stroke="#d62728" stroke-width="0.85"/>
<line x1="518.00" y1="193.14" x2="521.00" y2="193.14" stroke="#d62728" stroke-width="0.9"/>
<line x1="518.00" y1="194.34" x2="521.00" y2="194.34" stroke="#d62728" stroke-width="0.9"/>
<line x1="521.50" y1="192.79" x2="521.50" y2="193.99" stroke="#d62728" stroke-width="0.85"/>
<line x1="520.00" y1="192.79" x2="523.00" y2="192.79" stroke="#d62728" stroke-width="0.9"/>
<line x1="520.00" y1="193.99" x2="523.00" y2="193.99" stroke="#d62728" stroke-width="0.9"/>
<line x1="523.50" y1="192.45" x2="523.50" y2="193.65" stroke="#d62728" stroke-width="0.85"/>
<line x1="522.00" y1="192.45" x2="525.00" y2="192.45" stroke="#d62728" stroke-width="0.9"/>
<line x1="522.00" y1="193.65" x2="525.00" y2="193.65" stroke="#d62728" stroke-width="0.9"/>
<line x1="525.50" y1="192.10" x2="525.50" y2="193.30" stroke="#d62728" stroke-width="0.85"/>
<line x1="524.00" y1="192.10" x2="527.00" y2="192.10" stroke="#d62728" stroke-width="0.9"/>
<line x1="524.00" y1="193.30" x2="527.00" y2="193.30" stroke="#d62728" stroke-width="0.9"/>
<line x1="527.50" y1="193.63" x2="527.50" y2="194.83" stroke="#d62728" stroke-width="0.85"/>
<line x1="526.00" y1="193.63" x2="529.00" y2="193.63" stroke="#d62728" stroke-width="0.9"/>
<line x1="526.00" y1="194.83" x2="529.00" y2="194.83" stroke="#d62728" stroke-width="0.9"/>
<line x1="529.50" y1="193.77" x2="529.50" y2="194.97" stroke="#d62728" stroke-width="0.85"/>
<line x1="528.00" y1="193.77" x2="531.00" y2="193.77" stroke="#d62728" stroke-width="0.9"/>
<line x1="528.00" y1="194.97" x2="531.00" y2="194.97" stroke="#d62728" stroke-width="0.9"/>
<line x1="531.50" y1="192.51" x2="531.50" y2="193.71" stroke="#d62728" stroke-width="0.85"/>
<line x1="530.00" y1="192.51" x2="533.00" y2="192.51" stroke="#d62728" stroke-width="0.9"/>
<line x1="530.00" y1="193.71" x2="533.00" y2="193.71" stroke="#d62728" stroke-width="0.9"/>
<line x1="534.50" y1="191.25" x2="534.50" y2="192.45" stroke="#d62728" stroke-width="0.85"/>
<line x1="533.00" y1="191.25" x2="536.00" y2="191.25" stroke="#d62728" stroke-width="0.9"/>
<line x1="533.00" y1="192.45" x2="536.00" y2="192.45" stroke="#d62728" stroke-width="0.9"/>
<line x1="536.50" y1="190.24" x2="536.50" y2="191.44" stroke="#d62728" stroke-width="0.85"/>
<line x1="535.00" y1="190.24" x2="538.00" y2="190.24" stroke="#d62728" stroke-width="0.9"/>
<line x1="535.00" y1="191.44" x2="538.00" y2="191.44" stroke="#d62728" stroke-width="0.9"/>
<line x1="538.50" y1="189.98" x2="538.50" y2="191.18" stroke="#d62728" stroke-width="0.85"/>
<line x1="537.00" y1="189.98" x2="540.00" y2="189.98" stroke="#d62728" stroke-width="0.9"/>
<line x1="537.00" y1="191.18" x2="540.00" y2="191.18" stroke="#d62728" stroke-width="0.9"/>
<line x1="540.50" y1="189.72" x2="540.50" y2="190.92" stroke="#d62728" stroke-width="0.85"/>
<line x1="539.00" y1="189.72" x2="542.00" y2="189.72" stroke="#d62728" stroke-width="0.9"/>
<line x1="539.00" y1="190.92" x2="542.00" y2="190.92" stroke="#d62728" stroke-width="0.9"/>
<line x1="542.50" y1="189.46" x2="542.50" y2="190.66" stroke="#d62728" stroke-width="0.85"/>
<line x1="541.00" y1="189.46" x2="544.00" y2="189.46" stroke="#d62728" stroke-width="0.9"/>
<line x1="541.00" y1="190.66" x2="544.00" y2="190.66" stroke="#d62728" stroke-width="0.9"/>
<line x1="544.50" y1="189.20" x2="544.50" y2="190.40" stroke="#d62728" stroke-width="0.85"/>
<line x1="543.00" y1="189.20" x2="546.00" y2="189.20" stroke="#d62728" stroke-width="0.9"/>
<line x1="543.00" y1="190.40" x2="546.00" y2="190.40" stroke="#d62728" stroke-width="0.9"/>
<line x1="546.50" y1="188.73" x2="546.50" y2="189.93" stroke="#d62728" stroke-width="0.85"/>
<line x1="545.00" y1="188.73" x2="548.00" y2="188.73" stroke="#d62728" stroke-width="0.9"/>
<line x1="545.00" y1="189.93" x2="548.00" y2="189.93" stroke="#d62728" stroke-width="0.9"/>
<line x1="548.50" y1="188.12" x2="548.50" y2="189.32" stroke="#d62728" stroke-width="0.85"/>
<line x1="547.00" y1="188.12" x2="550.00" y2="188.12" stroke="#d62728" stroke-width="0.9"/>
<line x1="547.00" y1="189.32" x2="550.00" y2="189.32" stroke="#d62728" stroke-width="0.9"/>
<line x1="550.50" y1="187.51" x2="550.50" y2="188.71" stroke="#d62728" stroke-width="0.85"/>
<line x1="549.00" y1="187.51" x2="552.00" y2="187.51" stroke="#d62728" stroke-width="0.9"/>
<line x1="549.00" y1="188.71" x2="552.00" y2="188.71" stroke="#d62728" stroke-width="0.9"/>
<line x1="552.50" y1="187.16" x2="552.50" y2="188.36" stroke="#d62728" stroke-width="0.85"/>
<line x1="551.00" y1="187.16" x2="554.00" y2="187.16" stroke="#d62728" stroke-width="0.9"/>
<line x1="551.00" y1="188.36" x2="554.00" y2="188.36" stroke="#d62728" stroke-width="0.9"/>
<line x1="554.50" y1="186.94" x2="554.50" y2="188.14" stroke="#d62728" stroke-width="0.85"/>
<line x1="553.00" y1="186.94" x2="556.00" y2="186.94" stroke="#d62728" stroke-width="0.9"/>
<line x1="553.00" y1="188.14" x2="556.00" y2="188.14" stroke="#d62728" stroke-width="0.9"/>
<line x1="556.50" y1="186.72" x2="556.50" y2="187.92" stroke="#d62728" stroke-width="0.85"/>
<line x1="555.00" y1="186.72" x2="558.00" y2="186.72" stroke="#d62728" stroke-width="0.9"/>
<line x1="555.00" y1="187.92" x2="558.00" y2="187.92" stroke="#d62728" stroke-width="0.9"/>
<line x1="558.50" y1="186.50" x2="558.50" y2="187.70" stroke="#d62728" stroke-width="0.85"/>
<line x1="557.00" y1="186.50" x2="560.00" y2="186.50" stroke="#d62728" stroke-width="0.9"/>
<line x1="557.00" y1="187.70" x2="560.00" y2="187.70" stroke="#d62728" stroke-width="0.9"/>
<line x1="560.50" y1="186.28" x2="560.50" y2="187.48" stroke="#d62728" stroke-width="0.85"/>
<line x1="559.00" y1="186.28" x2="562.00" y2="186.28" stroke="#d62728" stroke-width="0.9"/>
<line x1="559.00" y1="187.48" x2="562.00" y2="187.48" stroke="#d62728" stroke-width="0.9"/>
<line x1="562.50" y1="186.06" x2="562.50" y2="187.26" stroke="#d62728" stroke-width="0.85"/>
<line x1="561.00" y1="186.06" x2="564.00" y2="186.06" stroke="#d62728" stroke-width="0.9"/>
<line x1="561.00" y1="187.26" x2="564.00" y2="187.26" stroke="#d62728" stroke-width="0.9"/>
<line x1="564.50" y1="185.73" x2="564.50" y2="186.93" stroke="#d62728" stroke-width="0.85"/>
<line x1="563.00" y1="185.73" x2="566.00" y2="185.73" stroke="#d62728" stroke-width="0.9"/>
<line x1="563.00" y1="186.93" x2="566.00" y2="186.93" stroke="#d62728" stroke-width="0.9"/>
<line x1="566.50" y1="185.36" x2="566.50" y2="186.56" stroke="#d62728" stroke-width="0.85"/>
<line x1="565.00" y1="185.36" x2="568.00" y2="185.36" stroke="#d62728" stroke-width="0.9"/>
<line x1="565.00" y1="186.56" x2="568.00" y2="186.56" stroke="#d62728" stroke-width="0.9"/>
<line x1="568.50" y1="185.00" x2="568.50" y2="186.20" stroke="#d62728" stroke-width="0.85"/>
<line x1="567.00" y1="185.00" x2="570.00" y2="185.00" stroke="#d62728" stroke-width="0.9"/>
<line x1="567.00" y1="186.20" x2="570.00" y2="186.20" stroke="#d62728" stroke-width="0.9"/>
<line x1="570.50" y1="184.64" x2="570.50" y2="185.84" stroke="#d62728" stroke-width="0.85"/>
<line x1="569.00" y1="184.64" x2="572.00" y2="184.64" stroke="#d62728" stroke-width="0.9"/>
<line x1="569.00" y1="185.84" x2="572.00" y2="185.84" stroke="#d62728" stroke-width="0.9"/>
<line x1="572.50" y1="184.27" x2="572.50" y2="185.47" stroke="#d62728" stroke-width="0.85"/>
<line x1="571.00" y1="184.27" x2="574.00" y2="184.27" stroke="#d62728" stroke-width="0.9"/>
<line x1="571.00" y1="185.47" x2="574.00" y2="185.47" stroke="#d62728" stroke-width="0.9"/>
<line x1="574.50" y1="184.10" x2="574.50" y2="185.30" stroke="#d62728" stroke-width="0.85"/>
<line x1="573.00" y1="184.10" x2="576.00" y2="184.10" stroke="#d62728" stroke-width="0.9"/>
<line x1="573.00" y1="185.30" x2="576.00" y2="185.30" stroke="#d62728" stroke-width="0.9"/>
<line x1="576.50" y1="183.98" x2="576.50" y2="185.18" stroke="#d62728" stroke-width="0.85"/>
<line x1="575.00" y1="183.98" x2="578.00" y2="183.98" stroke="#d62728" stroke-width="0.9"/>
<line x1="575.00" y1="185.18" x2="578.00" y2="185.18" stroke="#d62728" stroke-width="0.9"/>
<line x1="578.50" y1="183.86" x2="578.50" y2="185.06" stroke="#d62728" stroke-width="0.85"/>
<line x1="577.00" y1="183.86" x2="580.00" y2="183.86" stroke="#d62728" stroke-width="0.9"/>
<line x1="577.00" y1="185.06" x2="580.00" y2="185.06" stroke="#d62728" stroke-width="0.9"/>
<line x1="580.50" y1="183.73" x2="580.50" y2="184.93" stroke="#d62728" stroke-width="0.85"/>
<line x1="579.00" y1="183.73" x2="582.00" y2="183.73" stroke="#d62728" stroke-width="0.9"/>
<line x1="579.00" y1="184.93" x2="582.00" y2="184.93" stroke="#d62728" stroke-width="0.9"/>
<line x1="582.50" y1="183.61" x2="582.50" y2="184.81" stroke="#d62728" stroke-width="0.85"/>
<line x1="581.00" y1="183.61" x2="584.00" y2="183.61" stroke="#d62728" stroke-width="0.9"/>
<line x1="581.00" y1="184.81" x2="584.00" y2="184.81" stroke="#d62728" stroke-width="0.9"/>
<line x1="584.50" y1="183.49" x2="584.50" y2="184.69" stroke="#d62728" stroke-width="0.85"/>
<line x1="583.00" y1="183.49" x2="586.00" y2="183.49" stroke="#d62728" stroke-width="0.9"/>
<line x1="583.00" y1="184.69" x2="586.00" y2="184.69" stroke="#d62728" stroke-width="0.9"/>
<line x1="586.50" y1="183.38" x2="586.50" y2="184.58" stroke="#d62728" stroke-width="0.85"/>
<line x1="585.00" y1="183.38" x2="588.00" y2="183.38" stroke="#d62728" stroke-width="0.9"/>
<line x1="585.00" y1="184.58" x2="588.00" y2="184.58" stroke="#d62728" stroke-width="0.9"/>
<line x1="588.50" y1="183.26" x2="588.50" y2="184.46" stroke="#d62728" stroke-width="0.85"/>
<line x1="587.00" y1="183.26" x2="590.00" y2="183.26" stroke="#d62728" stroke-width="0.9"/>
<line x1="587.00" y1="184.46" x2="590.00" y2="184.46" stroke="#d62728" stroke-width="0.9"/>
<line x1="590.50" y1="182.68" x2="590.50" y2="183.88" stroke="#d62728" stroke-width="0.85"/>
<line x1="589.00" y1="182.68" x2="592.00" y2="182.68" stroke="#d62728" stroke-width="0.9"/>
<line x1="589.00" y1="183.88" x2="592.00" y2="183.88" stroke="#d62728" stroke-width="0.9"/>
<line x1="592.50" y1="181.62" x2="592.50" y2="182.82" stroke="#d62728" stroke-width="0.85"/>
<line x1="591.00" y1="181.62" x2="594.00" y2="181.62" stroke="#d62728" stroke-width="0.9"/>
<line x1="591.00" y1="182.82" x2="594.00" y2="182.82" stroke="#d62728" stroke-width="0.9"/>
<line x1="594.50" y1="181.01" x2="594.50" y2="182.21" stroke="#d62728" stroke-width="0.85"/>
<line x1="593.00" y1="181.01" x2="596.00" y2="181.01" stroke="#d62728" stroke-width="0.9"/>
<line x1="593.00" y1="182.21" x2="596.00" y2="182.21" stroke="#d62728" stroke-width="0.9"/>
<line x1="596.50" y1="180.82" x2="596.50" y2="182.02" stroke="#d62728" stroke-width="0.85"/>
<line x1="595.00" y1="180.82" x2="598.00" y2="180.82" stroke="#d62728" stroke-width="0.9"/>
<line x1="595.00" y1="182.02" x2="598.00" y2="182.02" stroke="#d62728" stroke-width="0.9"/>
<line x1="599.50" y1="180.64" x2="599.50" y2="181.84" stroke="#d62728" stroke-width="0.85"/>
<line x1="598.00" y1="180.64" x2="601.00" y2="180.64" stroke="#d62728" stroke-width="0.9"/>
<line x1="598.00" y1="181.84" x2="601.00" y2="181.84" stroke="#d62728" stroke-width="0.9"/>
<line x1="601.50" y1="180.45" x2="601.50" y2="181.65" stroke="#d62728" stroke-width="0.85"/>
<line x1="600.00" y1="180.45" x2="603.00" y2="180.45" stroke="#d62728" stroke-width="0.9"/>
<line x1="600.00" y1="181.65" x2="603.00" y2="181.65" stroke="#d62728" stroke-width="0.9"/>
<line x1="603.50" y1="180.27" x2="603.50" y2="181.47" stroke="#d62728" stroke-width="0.85"/>
<line x1="602.00" y1="180.27" x2="605.00" y2="180.27" stroke="#d62728" stroke-width="0.9"/>
<line x1="602.00" y1="181.47" x2="605.00" y2="181.47" stroke="#d62728" stroke-width="0.9"/>
<line x1="605.50" y1="180.08" x2="605.50" y2="181.28" stroke="#d62728" stroke-width="0.85"/>
<line x1="604.00" y1="180.08" x2="607.00" y2="180.08" stroke="#d62728" stroke-width="0.9"/>
<line x1="604.00" y1="181.28" x2="607.00" y2="181.28" stroke="#d62728" stroke-width="0.9"/>
<line x1="607.50" y1="179.82" x2="607.50" y2="181.02" stroke="#d62728" stroke-width="0.85"/>
<line x1="606.00" y1="179.82" x2="609.00" y2="179.82" stroke="#d62728" stroke-width="0.9"/>
<line x1="606.00" y1="181.02" x2="609.00" y2="181.02" stroke="#d62728" stroke-width="0.9"/>
<line x1="609.50" y1="179.49" x2="609.50" y2="180.69" stroke="#d62728" stroke-width="0.85"/>
<line x1="608.00" y1="179.49" x2="611.00" y2="179.49" stroke="#d62728" stroke-width="0.9"/>
<line x1="608.00" y1="180.69" x2="611.00" y2="180.69" stroke="#d62728" stroke-width="0.9"/>
<line x1="611.50" y1="179.17" x2="611.50" y2="180.37" stroke="#d62728" stroke-width="0.85"/>
<line x1="610.00" y1="179.17" x2="613.00" y2="179.17" stroke="#d62728" stroke-width="0.9"/>
<line x1="610.00" y1="180.37" x2="613.00" y2="180.37" stroke="#d62728" stroke-width="0.9"/>
<line x1="613.50" y1="178.84" x2="613.50" y2="180.04" stroke="#d62728" stroke-width="0.85"/>
<line x1="612.00" y1="178.84" x2="615.00" y2="178.84" stroke="#d62728" stroke-width="0.9"/>
<line x1="612.00" y1="180.04" x2="615.00" y2="180.04" stroke="#d62728" stroke-width="0.9"/>
<line x1="615.50" y1="178.51" x2="615.50" y2="179.71" stroke="#d62728" stroke-width="0.85"/>
<line x1="614.00" y1="178.51" x2="617.00" y2="178.51" stroke="#d62728" stroke-width="0.9"/>
<line x1="614.00" y1="179.71" x2="617.00" y2="179.71" stroke="#d62728" stroke-width="0.9"/>
<line x1="617.50" y1="178.16" x2="617.50" y2="179.36" stroke="#d62728" stroke-width="0.85"/>
<line x1="616.00" y1="178.16" x2="619.00" y2="178.16" stroke="#d62728" stroke-width="0.9"/>
<line x1="616.00" y1="179.36" x2="619.00" y2="179.36" stroke="#d62728" stroke-width="0.9"/>
<line x1="619.50" y1="177.78" x2="619.50" y2="178.98" stroke="#d62728" stroke-width="0.85"/>
<line x1="618.00" y1="177.78" x2="621.00" y2="177.78" stroke="#d62728" stroke-width="0.9"/>
<line x1="618.00" y1="178.98" x2="621.00" y2="178.98" stroke="#d62728" stroke-width="0.9"/>
<line x1="621.50" y1="177.41" x2="621.50" y2="178.61" stroke="#d62728" stroke-width="0.85"/>
<line x1="620.00" y1="177.41" x2="623.00" y2="177.41" stroke="#d62728" stroke-width="0.9"/>
<line x1="620.00" y1="178.61" x2="623.00" y2="178.61" stroke="#d62728" stroke-width="0.9"/>
<line x1="623.50" y1="177.16" x2="623.50" y2="178.36" stroke="#d62728" stroke-width="0.85"/>
<line x1="622.00" y1="177.16" x2="625.00" y2="177.16" stroke="#d62728" stroke-width="0.9"/>
<line x1="622.00" y1="178.36" x2="625.00" y2="178.36" stroke="#d62728" stroke-width="0.9"/>
<line x1="625.50" y1="176.96" x2="625.50" y2="178.16" stroke="#d62728" stroke-width="0.85"/>
<line x1="624.00" y1="176.96" x2="627.00" y2="176.96" stroke="#d62728" stroke-width="0.9"/>
<line x1="624.00" y1="178.16" x2="627.00" y2="178.16" stroke="#d62728" stroke-width="0.9"/>
<line x1="627.50" y1="176.75" x2="627.50" y2="177.95" stroke="#d62728" stroke-width="0.85"/>
<line x1="626.00" y1="176.75" x2="629.00" y2="176.75" stroke="#d62728" stroke-width="0.9"/>
<line x1="626.00" y1="177.95" x2="629.00" y2="177.95" stroke="#d62728" stroke-width="0.9"/>
<line x1="629.50" y1="176.55" x2="629.50" y2="177.75" stroke="#d62728" stroke-width="0.85"/>
<line x1="628.00" y1="176.55" x2="631.00" y2="176.55" stroke="#d62728" stroke-width="0.9"/>
<line x1="628.00" y1="177.75" x2="631.00" y2="177.75" stroke="#d62728" stroke-width="0.9"/>
<line x1="631.50" y1="176.35" x2="631.50" y2="177.55" stroke="#d62728" stroke-width="0.85"/>
<line x1="630.00" y1="176.35" x2="633.00" y2="176.35" stroke="#d62728" stroke-width="0.9"/>
<line x1="630.00" y1="177.55" x2="633.00" y2="177.55" stroke="#d62728" stroke-width="0.9"/>
<line x1="633.50" y1="176.09" x2="633.50" y2="177.29" stroke="#d62728" stroke-width="0.85"/>
<line x1="632.00" y1="176.09" x2="635.00" y2="176.09" stroke="#d62728" stroke-width="0.9"/>
<line x1="632.00" y1="177.29" x2="635.00" y2="177.29" stroke="#d62728" stroke-width="0.9"/>
<line x1="635.50" y1="175.81" x2="635.50" y2="177.01" stroke="#d62728" stroke-width="0.85"/>
<line x1="634.00" y1="175.81" x2="637.00" y2="175.81" stroke="#d62728" stroke-width="0.9"/>
<line x1="634.00" y1="177.01" x2="637.00" y2="177.01" stroke="#d62728" stroke-width="0.9"/>
<line x1="637.50" y1="175.52" x2="637.50" y2="176.72" stroke="#d62728" stroke-width="0.85"/>
<line x1="636.00" y1="175.52" x2="639.00" y2="175.52" stroke="#d62728" stroke-width="0.9"/>
<line x1="636.00" y1="176.72" x2="639.00" y2="176.72" stroke="#d62728" stroke-width="0.9"/>
<line x1="639.50" y1="175.24" x2="639.50" y2="176.44" stroke="#d62728" stroke-width="0.85"/>
<line x1="638.00" y1="175.24" x2="641.00" y2="175.24" stroke="#d62728" stroke-width="0.9"/>
<line x1="638.00" y1="176.44" x2="641.00" y2="176.44" stroke="#d62728" stroke-width="0.9"/>
<line x1="641.50" y1="174.96" x2="641.50" y2="176.16" stroke="#d62728" stroke-width="0.85"/>
<line x1="640.00" y1="174.96" x2="643.00" y2="174.96" stroke="#d62728" stroke-width="0.9"/>
<line x1="640.00" y1="176.16" x2="643.00" y2="176.16" stroke="#d62728" stroke-width="0.9"/>
<circle cx="397.95" cy="264.50" r="2.4" fill="#d62728"/>
<circle cx="399.98" cy="272.60" r="2.4" fill="#d62728"/>
<circle cx="402.01" cy="261.70" r="2.4" fill="#d62728"/>
<circle cx="404.04" cy="260.20" r="2.4" fill="#d62728"/>
<circle cx="406.07" cy="265.50" r="2.4" fill="#d62728"/>
<circle cx="408.10" cy="265.50" r="2.4" fill="#d62728"/>
<circle cx="410.13" cy="265.50" r="2.4" fill="#d62728"/>
<circle cx="412.16" cy="258.90" r="2.4" fill="#d62728"/>
<circle cx="414.20" cy="263.60" r="2.4" fill="#d62728"/>
<circle cx="416.23" cy="258.00" r="2.4" fill="#d62728"/>
<circle cx="418.26" cy="234.60" r="2.4" fill="#d62728"/>
<circle cx="420.29" cy="219.00" r="2.4" fill="#d62728"/>
<circle cx="422.32" cy="217.75" r="2.4" fill="#d62728"/>
<circle cx="424.35" cy="216.50" r="2.4" fill="#d62728"/>
<circle cx="426.38" cy="215.25" r="2.4" fill="#d62728"/>
<circle cx="428.41" cy="214.00" r="2.4" fill="#d62728"/>
<circle cx="430.44" cy="213.00" r="2.4" fill="#d62728"/>
<circle cx="432.48" cy="212.00" r="2.4" fill="#d62728"/>
<circle cx="434.51" cy="211.20" r="2.4" fill="#d62728"/>
<circle cx="436.54" cy="210.40" r="2.4" fill="#d62728"/>
<circle cx="438.57" cy="209.74" r="2.4" fill="#d62728"/>
<circle cx="440.60" cy="209.22" r="2.4" fill="#d62728"/>
<circle cx="442.63" cy="208.70" r="2.4" fill="#d62728"/>
<circle cx="444.66" cy="208.37" r="2.4" fill="#d62728"/>
<circle cx="446.69" cy="208.40" r="2.4" fill="#d62728"/>
<circle cx="448.72" cy="208.80" r="2.4" fill="#d62728"/>
<circle cx="450.75" cy="210.50" r="2.4" fill="#d62728"/>
<circle cx="452.78" cy="211.80" r="2.4" fill="#d62728"/>
<circle cx="454.82" cy="212.20" r="2.4" fill="#d62728"/>
<circle cx="456.85" cy="211.00" r="2.4" fill="#d62728"/>
<circle cx="458.88" cy="209.20" r="2.4" fill="#d62728"/>
<circle cx="460.91" cy="208.85" r="2.4" fill="#d62728"/>
<circle cx="462.94" cy="208.50" r="2.4" fill="#d62728"/>
<circle cx="464.97" cy="203.01" r="2.1" fill="#d62728"/>
<circle cx="467.00" cy="203.04" r="2.1" fill="#d62728"/>
<circle cx="469.03" cy="203.07" r="2.1" fill="#d62728"/>
<circle cx="471.06" cy="203.10" r="2.1" fill="#d62728"/>
<circle cx="473.10" cy="203.14" r="2.1" fill="#d62728"/>
<circle cx="475.13" cy="203.17" r="2.1" fill="#d62728"/>
<circle cx="477.16" cy="203.20" r="2.1" fill="#d62728"/>
<circle cx="479.19" cy="205.00" r="2.1" fill="#d62728"/>
<circle cx="481.22" cy="205.00" r="2.1" fill="#d62728"/>
<circle cx="483.25" cy="205.00" r="2.1" fill="#d62728"/>
<circle cx="485.28" cy="201.33" r="2.1" fill="#d62728"/>
<circle cx="487.31" cy="199.47" r="2.1" fill="#d62728"/>
<circle cx="489.34" cy="199.44" r="2.1" fill="#d62728"/>
<circle cx="491.37" cy="199.40" r="2.1" fill="#d62728"/>
<circle cx="493.40" cy="199.37" r="2.1" fill="#d62728"/>
<circle cx="495.44" cy="199.33" r="2.1" fill="#d62728"/>
<circle cx="497.47" cy="199.30" r="2.1" fill="#d62728"/>
<circle cx="499.50" cy="196.54" r="2.1" fill="#d62728"/>
<circle cx="501.53" cy="196.28" r="2.1" fill="#d62728"/>
<circle cx="503.56" cy="196.02" r="2.1" fill="#d62728"/>
<circle cx="505.59" cy="195.76" r="2.1" fill="#d62728"/>
<circle cx="507.62" cy="195.50" r="2.1" fill="#d62728"/>
<circle cx="509.65" cy="195.25" r="2.1" fill="#d62728"/>
<circle cx="511.68" cy="194.99" r="2.1" fill="#d62728"/>
<circle cx="513.72" cy="194.73" r="2.1" fill="#d62728"/>
<circle cx="515.75" cy="194.43" r="2.1" fill="#d62728"/>
<circle cx="517.78" cy="194.08" r="2.1" fill="#d62728"/>
<circle cx="519.81" cy="193.74" r="2.1" fill="#d62728"/>
<circle cx="521.84" cy="193.39" r="2.1" fill="#d62728"/>
<circle cx="523.87" cy="193.05" r="2.1" fill="#d62728"/>
<circle cx="525.90" cy="192.70" r="2.1" fill="#d62728"/>
<circle cx="527.93" cy="194.23" r="2.1" fill="#d62728"/>
<circle cx="529.96" cy="194.37" r="2.1" fill="#d62728"/>
<circle cx="531.99" cy="193.11" r="2.1" fill="#d62728"/>
<circle cx="534.02" cy="191.85" r="2.1" fill="#d62728"/>
<circle cx="536.06" cy="190.84" r="2.1" fill="#d62728"/>
<circle cx="538.09" cy="190.58" r="2.1" fill="#d62728"/>
<circle cx="540.12" cy="190.32" r="2.1" fill="#d62728"/>
<circle cx="542.15" cy="190.06" r="2.1" fill="#d62728"/>
<circle cx="544.18" cy="189.80" r="2.1" fill="#d62728"/>
<circle cx="546.21" cy="189.33" r="2.1" fill="#d62728"/>
<circle cx="548.24" cy="188.72" r="2.1" fill="#d62728"/>
<circle cx="550.27" cy="188.11" r="2.1" fill="#d62728"/>
<circle cx="552.30" cy="187.76" r="2.1" fill="#d62728"/>
<circle cx="554.34" cy="187.54" r="2.1" fill="#d62728"/>
<circle cx="556.37" cy="187.32" r="2.1" fill="#d62728"/>
<circle cx="558.40" cy="187.10" r="2.1" fill="#d62728"/>
<circle cx="560.43" cy="186.88" r="2.1" fill="#d62728"/>
<circle cx="562.46" cy="186.66" r="2.1" fill="#d62728"/>
<circle cx="564.49" cy="186.33" r="2.1" fill="#d62728"/>
<circle cx="566.52" cy="185.96" r="2.1" fill="#d62728"/>
<circle cx="568.55" cy="185.60" r="2.1" fill="#d62728"/>
<circle cx="570.58" cy="185.24" r="2.1" fill="#d62728"/>
<circle cx="572.61" cy="184.87" r="2.1" fill="#d62728"/>
<circle cx="574.64" cy="184.70" r="2.1" fill="#d62728"/>
<circle cx="576.68" cy="184.58" r="2.1" fill="#d62728"/>
<circle cx="578.71" cy="184.46" r="2.1" fill="#d62728"/>
<circle cx="580.74" cy="184.33" r="2.1" fill="#d62728"/>
<circle cx="582.77" cy="184.21" r="2.1" fill="#d62728"/>
<circle cx="584.80" cy="184.09" r="2.1" fill="#d62728"/>
<circle cx="586.83" cy="183.98" r="2.1" fill="#d62728"/>
<circle cx="588.86" cy="183.86" r="2.1" fill="#d62728"/>
<circle cx="590.89" cy="183.28" r="2.1" fill="#d62728"/>
<circle cx="592.92" cy="182.22" r="2.1" fill="#d62728"/>
<circle cx="594.96" cy="181.61" r="2.1" fill="#d62728"/>
<circle cx="596.99" cy="181.42" r="2.1" fill="#d62728"/>
<circle cx="599.02" cy="181.24" r="2.1" fill="#d62728"/>
<circle cx="601.05" cy="181.05" r="2.1" fill="#d62728"/>
<circle cx="603.08" cy="180.87" r="2.1" fill="#d62728"/>
<circle cx="605.11" cy="180.68" r="2.1" fill="#d62728"/>
<circle cx="607.14" cy="180.42" r="2.1" fill="#d62728"/>
<circle cx="609.17" cy="180.09" r="2.1" fill="#d62728"/>
<circle cx="611.20" cy="179.77" r="2.1" fill="#d62728"/>
<circle cx="613.23" cy="179.44" r="2.1" fill="#d62728"/>
<circle cx="615.26" cy="179.11" r="2.1" fill="#d62728"/>
<circle cx="617.30" cy="178.76" r="2.1" fill="#d62728"/>
<circle cx="619.33" cy="178.38" r="2.1" fill="#d62728"/>
<circle cx="621.36" cy="178.01" r="2.1" fill="#d62728"/>
<circle cx="623.39" cy="177.76" r="2.1" fill="#d62728"/>
<circle cx="625.42" cy="177.56" r="2.1" fill="#d62728"/>
<circle cx="627.45" cy="177.35" r="2.1" fill="#d62728"/>
<circle cx="629.48" cy="177.15" r="2.1" fill="#d62728"/>
<circle cx="631.51" cy="176.95" r="2.1" fill="#d62728"/>
<circle cx="633.54" cy="176.69" r="2.1" fill="#d62728"/>
<circle cx="635.58" cy="176.41" r="2.1" fill="#d62728"/>
<circle cx="637.61" cy="176.12" r="2.1" fill="#d62728"/>
<circle cx="639.64" cy="175.84" r="2.1" fill="#d62728"/>
<circle cx="641.67" cy="175.56" r="2.1" fill="#d62728"/>
<line x1="397.50" y1="289.80" x2="397.50" y2="301.00" stroke="#1f77b4" stroke-width="0.85"/>
<line x1="395.00" y1="289.80" x2="400.00" y2="289.80" stroke="#1f77b4" stroke-width="0.9"/>
<line x1="395.00" y1="301.00" x2="400.00" y2="301.00" stroke="#1f77b4" stroke-width="0.9"/>
<line x1="399.50" y1="289.22" x2="399.50" y2="300.38" stroke="#1f77b4" stroke-width="0.85"/>
<line x1="397.00" y1="289.22" x2="402.00" y2="289.22" stroke="#1f77b4" stroke-width="0.9"/>
<line x1="397.00" y1="300.38" x2="402.00" y2="300.38" stroke="#1f77b4" stroke-width="0.9"/>
<line x1="402.50" y1="288.64" x2="402.50" y2="299.76" stroke="#1f77b4" stroke-width="0.85"/>
<line x1="400.00" y1="288.64" x2="405.00" y2="288.64" stroke="#1f77b4" stroke-width="0.9"/>
<line x1="400.00" y1="299.76" x2="405.00" y2="299.76" stroke="#1f77b4" stroke-width="0.9"/>
<line x1="404.50" y1="288.06" x2="404.50" y2="299.14" stroke="#1f77b4" stroke-width="0.85"/>
<line x1="402.00" y1="288.06" x2="407.00" y2="288.06" stroke="#1f77b4" stroke-width="0.9"/>
<line x1="402.00" y1="299.14" x2="407.00" y2="299.14" stroke="#1f77b4" stroke-width="0.9"/>
<line x1="406.50" y1="287.48" x2="406.50" y2="298.52" stroke="#1f77b4" stroke-width="0.85"/>
<line x1="404.00" y1="287.48" x2="409.00" y2="287.48" stroke="#1f77b4" stroke-width="0.9"/>
<line x1="404.00" y1="298.52" x2="409.00" y2="298.52" stroke="#1f77b4" stroke-width="0.9"/>
<line x1="408.50" y1="286.90" x2="408.50" y2="297.90" stroke="#1f77b4" stroke-width="0.85"/>
<line x1="406.00" y1="286.90" x2="411.00" y2="286.90" stroke="#1f77b4" stroke-width="0.9"/>
<line x1="406.00" y1="297.90" x2="411.00" y2="297.90" stroke="#1f77b4" stroke-width="0.9"/>
<line x1="410.50" y1="286.32" x2="410.50" y2="297.28" stroke="#1f77b4" stroke-width="0.85"/>
<line x1="408.00" y1="286.32" x2="413.00" y2="286.32" stroke="#1f77b4" stroke-width="0.9"/>
<line x1="408.00" y1="297.28" x2="413.00" y2="297.28" stroke="#1f77b4" stroke-width="0.9"/>
<line x1="412.50" y1="284.60" x2="412.50" y2="295.52" stroke="#1f77b4" stroke-width="0.85"/>
<line x1="410.00" y1="284.60" x2="415.00" y2="284.60" stroke="#1f77b4" stroke-width="0.9"/>
<line x1="410.00" y1="295.52" x2="415.00" y2="295.52" stroke="#1f77b4" stroke-width="0.9"/>
<line x1="414.50" y1="282.87" x2="414.50" y2="293.75" stroke="#1f77b4" stroke-width="0.85"/>
<line x1="412.00" y1="282.87" x2="417.00" y2="282.87" stroke="#1f77b4" stroke-width="0.9"/>
<line x1="412.00" y1="293.75" x2="417.00" y2="293.75" stroke="#1f77b4" stroke-width="0.9"/>
<line x1="416.50" y1="281.15" x2="416.50" y2="291.99" stroke="#1f77b4" stroke-width="0.85"/>
<line x1="414.00" y1="281.15" x2="419.00" y2="281.15" stroke="#1f77b4" stroke-width="0.9"/>
<line x1="414.00" y1="291.99" x2="419.00" y2="291.99" stroke="#1f77b4" stroke-width="0.9"/>
<line x1="418.50" y1="278.96" x2="418.50" y2="289.76" stroke="#1f77b4" stroke-width="0.85"/>
<line x1="416.00" y1="278.96" x2="421.00" y2="278.96" stroke="#1f77b4" stroke-width="0.9"/>
<line x1="416.00" y1="289.76" x2="421.00" y2="289.76" stroke="#1f77b4" stroke-width="0.9"/>
<line x1="420.50" y1="276.30" x2="420.50" y2="287.06" stroke="#1f77b4" stroke-width="0.85"/>
<line x1="418.00" y1="276.30" x2="423.00" y2="276.30" stroke="#1f77b4" stroke-width="0.9"/>
<line x1="418.00" y1="287.06" x2="423.00" y2="287.06" stroke="#1f77b4" stroke-width="0.9"/>
<line x1="422.50" y1="273.64" x2="422.50" y2="284.36" stroke="#1f77b4" stroke-width="0.85"/>
<line x1="420.00" y1="273.64" x2="425.00" y2="273.64" stroke="#1f77b4" stroke-width="0.9"/>
<line x1="420.00" y1="284.36" x2="425.00" y2="284.36" stroke="#1f77b4" stroke-width="0.9"/>
<line x1="424.50" y1="272.16" x2="424.50" y2="282.84" stroke="#1f77b4" stroke-width="0.85"/>
<line x1="422.00" y1="272.16" x2="427.00" y2="272.16" stroke="#1f77b4" stroke-width="0.9"/>
<line x1="422.00" y1="282.84" x2="427.00" y2="282.84" stroke="#1f77b4" stroke-width="0.9"/>
<line x1="426.50" y1="270.68" x2="426.50" y2="281.32" stroke="#1f77b4" stroke-width="0.85"/>
<line x1="424.00" y1="270.68" x2="429.00" y2="270.68" stroke="#1f77b4" stroke-width="0.9"/>
<line x1="424.00" y1="281.32" x2="429.00" y2="281.32" stroke="#1f77b4" stroke-width="0.9"/>
<line x1="428.50" y1="269.20" x2="428.50" y2="279.80" stroke="#1f77b4" stroke-width="0.85"/>
<line x1="426.00" y1="269.20" x2="431.00" y2="269.20" stroke="#1f77b4" stroke-width="0.9"/>
<line x1="426.00" y1="279.80" x2="431.00" y2="279.80" stroke="#1f77b4" stroke-width="0.9"/>
<line x1="430.50" y1="267.89" x2="430.50" y2="278.45" stroke="#1f77b4" stroke-width="0.85"/>
<line x1="428.00" y1="267.89" x2="433.00" y2="267.89" stroke="#1f77b4" stroke-width="0.9"/>
<line x1="428.00" y1="278.45" x2="433.00" y2="278.45" stroke="#1f77b4" stroke-width="0.9"/>
<line x1="432.50" y1="266.57" x2="432.50" y2="277.09" stroke="#1f77b4" stroke-width="0.85"/>
<line x1="430.00" y1="266.57" x2="435.00" y2="266.57" stroke="#1f77b4" stroke-width="0.9"/>
<line x1="430.00" y1="277.09" x2="435.00" y2="277.09" stroke="#1f77b4" stroke-width="0.9"/>
<line x1="434.50" y1="265.26" x2="434.50" y2="275.74" stroke="#1f77b4" stroke-width="0.85"/>
<line x1="432.00" y1="265.26" x2="437.00" y2="265.26" stroke="#1f77b4" stroke-width="0.9"/>
<line x1="432.00" y1="275.74" x2="437.00" y2="275.74" stroke="#1f77b4" stroke-width="0.9"/>
<line x1="436.50" y1="264.11" x2="436.50" y2="274.55" stroke="#1f77b4" stroke-width="0.85"/>
<line x1="434.00" y1="264.11" x2="439.00" y2="264.11" stroke="#1f77b4" stroke-width="0.9"/>
<line x1="434.00" y1="274.55" x2="439.00" y2="274.55" stroke="#1f77b4" stroke-width="0.9"/>
<line x1="438.50" y1="262.97" x2="438.50" y2="273.37" stroke="#1f77b4" stroke-width="0.85"/>
<line x1="436.00" y1="262.97" x2="441.00" y2="262.97" stroke="#1f77b4" stroke-width="0.9"/>
<line x1="436.00" y1="273.37" x2="441.00" y2="273.37" stroke="#1f77b4" stroke-width="0.9"/>
<line x1="440.50" y1="261.82" x2="440.50" y2="272.18" stroke="#1f77b4" stroke-width="0.85"/>
<line x1="438.00" y1="261.82" x2="443.00" y2="261.82" stroke="#1f77b4" stroke-width="0.9"/>
<line x1="438.00" y1="272.18" x2="443.00" y2="272.18" stroke="#1f77b4" stroke-width="0.9"/>
<line x1="442.50" y1="260.67" x2="442.50" y2="270.99" stroke="#1f77b4" stroke-width="0.85"/>
<line x1="440.00" y1="260.67" x2="445.00" y2="260.67" stroke="#1f77b4" stroke-width="0.9"/>
<line x1="440.00" y1="270.99" x2="445.00" y2="270.99" stroke="#1f77b4" stroke-width="0.9"/>
<line x1="444.50" y1="259.53" x2="444.50" y2="269.81" stroke="#1f77b4" stroke-width="0.85"/>
<line x1="442.00" y1="259.53" x2="447.00" y2="259.53" stroke="#1f77b4" stroke-width="0.9"/>
<line x1="442.00" y1="269.81" x2="447.00" y2="269.81" stroke="#1f77b4" stroke-width="0.9"/>
<line x1="446.50" y1="258.38" x2="446.50" y2="268.62" stroke="#1f77b4" stroke-width="0.85"/>
<line x1="444.00" y1="258.38" x2="449.00" y2="258.38" stroke="#1f77b4" stroke-width="0.9"/>
<line x1="444.00" y1="268.62" x2="449.00" y2="268.62" stroke="#1f77b4" stroke-width="0.9"/>
<line x1="448.50" y1="256.40" x2="448.50" y2="266.60" stroke="#1f77b4" stroke-width="0.85"/>
<line x1="446.00" y1="256.40" x2="451.00" y2="256.40" stroke="#1f77b4" stroke-width="0.9"/>
<line x1="446.00" y1="266.60" x2="451.00" y2="266.60" stroke="#1f77b4" stroke-width="0.9"/>
<line x1="450.50" y1="254.42" x2="450.50" y2="264.58" stroke="#1f77b4" stroke-width="0.85"/>
<line x1="448.00" y1="254.42" x2="453.00" y2="254.42" stroke="#1f77b4" stroke-width="0.9"/>
<line x1="448.00" y1="264.58" x2="453.00" y2="264.58" stroke="#1f77b4" stroke-width="0.9"/>
<line x1="454.20" y1="243.90" x2="454.20" y2="253.50" stroke="#1f77b4" stroke-width="0.85"/>
<line x1="451.70" y1="243.90" x2="456.70" y2="243.90" stroke="#1f77b4" stroke-width="0.9"/>
<line x1="451.70" y1="253.50" x2="456.70" y2="253.50" stroke="#1f77b4" stroke-width="0.9"/>
<line x1="454.50" y1="253.50" x2="454.50" y2="258.50" stroke="#1f77b4" stroke-width="0.85"/>
<line x1="452.00" y1="253.50" x2="457.00" y2="253.50" stroke="#1f77b4" stroke-width="0.9"/>
<line x1="452.00" y1="258.50" x2="457.00" y2="258.50" stroke="#1f77b4" stroke-width="0.9"/>
<line x1="456.50" y1="254.70" x2="456.50" y2="259.70" stroke="#1f77b4" stroke-width="0.85"/>
<line x1="454.00" y1="254.70" x2="459.00" y2="254.70" stroke="#1f77b4" stroke-width="0.9"/>
<line x1="454.00" y1="259.70" x2="459.00" y2="259.70" stroke="#1f77b4" stroke-width="0.9"/>
<line x1="458.50" y1="255.50" x2="458.50" y2="260.50" stroke="#1f77b4" stroke-width="0.85"/>
<line x1="456.00" y1="255.50" x2="461.00" y2="255.50" stroke="#1f77b4" stroke-width="0.9"/>
<line x1="456.00" y1="260.50" x2="461.00" y2="260.50" stroke="#1f77b4" stroke-width="0.9"/>
<line x1="460.50" y1="256.30" x2="460.50" y2="261.30" stroke="#1f77b4" stroke-width="0.85"/>
<line x1="458.00" y1="256.30" x2="463.00" y2="256.30" stroke="#1f77b4" stroke-width="0.9"/>
<line x1="458.00" y1="261.30" x2="463.00" y2="261.30" stroke="#1f77b4" stroke-width="0.9"/>
<line x1="462.50" y1="257.10" x2="462.50" y2="262.10" stroke="#1f77b4" stroke-width="0.85"/>
<line x1="460.00" y1="257.10" x2="465.00" y2="257.10" stroke="#1f77b4" stroke-width="0.9"/>
<line x1="460.00" y1="262.10" x2="465.00" y2="262.10" stroke="#1f77b4" stroke-width="0.9"/>
<line x1="464.50" y1="259.32" x2="464.50" y2="260.52" stroke="#1f77b4" stroke-width="0.85"/>
<line x1="463.00" y1="259.32" x2="466.00" y2="259.32" stroke="#1f77b4" stroke-width="0.9"/>
<line x1="463.00" y1="260.52" x2="466.00" y2="260.52" stroke="#1f77b4" stroke-width="0.9"/>
<line x1="467.50" y1="259.64" x2="467.50" y2="260.84" stroke="#1f77b4" stroke-width="0.85"/>
<line x1="466.00" y1="259.64" x2="469.00" y2="259.64" stroke="#1f77b4" stroke-width="0.9"/>
<line x1="466.00" y1="260.84" x2="469.00" y2="260.84" stroke="#1f77b4" stroke-width="0.9"/>
<line x1="469.50" y1="259.80" x2="469.50" y2="261.00" stroke="#1f77b4" stroke-width="0.85"/>
<line x1="468.00" y1="259.80" x2="471.00" y2="259.80" stroke="#1f77b4" stroke-width="0.9"/>
<line x1="468.00" y1="261.00" x2="471.00" y2="261.00" stroke="#1f77b4" stroke-width="0.9"/>
<line x1="471.50" y1="259.80" x2="471.50" y2="261.00" stroke="#1f77b4" stroke-width="0.85"/>
<line x1="470.00" y1="259.80" x2="473.00" y2="259.80" stroke="#1f77b4" stroke-width="0.9"/>
<line x1="470.00" y1="261.00" x2="473.00" y2="261.00" stroke="#1f77b4" stroke-width="0.9"/>
<line x1="473.50" y1="259.80" x2="473.50" y2="261.00" stroke="#1f77b4" stroke-width="0.85"/>
<line x1="472.00" y1="259.80" x2="475.00" y2="259.80" stroke="#1f77b4" stroke-width="0.9"/>
<line x1="472.00" y1="261.00" x2="475.00" y2="261.00" stroke="#1f77b4" stroke-width="0.9"/>
<line x1="475.50" y1="259.80" x2="475.50" y2="261.00" stroke="#1f77b4" stroke-width="0.85"/>
<line x1="474.00" y1="259.80" x2="477.00" y2="259.80" stroke="#1f77b4" stroke-width="0.9"/>
<line x1="474.00" y1="261.00" x2="477.00" y2="261.00" stroke="#1f77b4" stroke-width="0.9"/>
<line x1="477.50" y1="259.80" x2="477.50" y2="261.00" stroke="#1f77b4" stroke-width="0.85"/>
<line x1="476.00" y1="259.80" x2="479.00" y2="259.80" stroke="#1f77b4" stroke-width="0.9"/>
<line x1="476.00" y1="261.00" x2="479.00" y2="261.00" stroke="#1f77b4" stroke-width="0.9"/>
<line x1="479.50" y1="258.20" x2="479.50" y2="259.40" stroke="#1f77b4" stroke-width="0.85"/>
<line x1="478.00" y1="258.20" x2="481.00" y2="258.20" stroke="#1f77b4" stroke-width="0.9"/>
<line x1="478.00" y1="259.40" x2="481.00" y2="259.40" stroke="#1f77b4" stroke-width="0.9"/>
<line x1="481.50" y1="256.72" x2="481.50" y2="257.92" stroke="#1f77b4" stroke-width="0.85"/>
<line x1="480.00" y1="256.72" x2="483.00" y2="256.72" stroke="#1f77b4" stroke-width="0.9"/>
<line x1="480.00" y1="257.92" x2="483.00" y2="257.92" stroke="#1f77b4" stroke-width="0.9"/>
<line x1="483.50" y1="257.40" x2="483.50" y2="258.60" stroke="#1f77b4" stroke-width="0.85"/>
<line x1="482.00" y1="257.40" x2="485.00" y2="257.40" stroke="#1f77b4" stroke-width="0.9"/>
<line x1="482.00" y1="258.60" x2="485.00" y2="258.60" stroke="#1f77b4" stroke-width="0.9"/>
<line x1="485.50" y1="259.40" x2="485.50" y2="260.60" stroke="#1f77b4" stroke-width="0.85"/>
<line x1="484.00" y1="259.40" x2="487.00" y2="259.40" stroke="#1f77b4" stroke-width="0.9"/>
<line x1="484.00" y1="260.60" x2="487.00" y2="260.60" stroke="#1f77b4" stroke-width="0.9"/>
<line x1="487.50" y1="260.40" x2="487.50" y2="261.60" stroke="#1f77b4" stroke-width="0.85"/>
<line x1="486.00" y1="260.40" x2="489.00" y2="260.40" stroke="#1f77b4" stroke-width="0.9"/>
<line x1="486.00" y1="261.60" x2="489.00" y2="261.60" stroke="#1f77b4" stroke-width="0.9"/>
<line x1="489.50" y1="260.40" x2="489.50" y2="261.60" stroke="#1f77b4" stroke-width="0.85"/>
<line x1="488.00" y1="260.40" x2="491.00" y2="260.40" stroke="#1f77b4" stroke-width="0.9"/>
<line x1="488.00" y1="261.60" x2="491.00" y2="261.60" stroke="#1f77b4" stroke-width="0.9"/>
<line x1="491.50" y1="260.40" x2="491.50" y2="261.60" stroke="#1f77b4" stroke-width="0.85"/>
<line x1="490.00" y1="260.40" x2="493.00" y2="260.40" stroke="#1f77b4" stroke-width="0.9"/>
<line x1="490.00" y1="261.60" x2="493.00" y2="261.60" stroke="#1f77b4" stroke-width="0.9"/>
<line x1="493.50" y1="262.00" x2="493.50" y2="263.20" stroke="#1f77b4" stroke-width="0.85"/>
<line x1="492.00" y1="262.00" x2="495.00" y2="262.00" stroke="#1f77b4" stroke-width="0.9"/>
<line x1="492.00" y1="263.20" x2="495.00" y2="263.20" stroke="#1f77b4" stroke-width="0.9"/>
<line x1="495.50" y1="263.60" x2="495.50" y2="264.80" stroke="#1f77b4" stroke-width="0.85"/>
<line x1="494.00" y1="263.60" x2="497.00" y2="263.60" stroke="#1f77b4" stroke-width="0.9"/>
<line x1="494.00" y1="264.80" x2="497.00" y2="264.80" stroke="#1f77b4" stroke-width="0.9"/>
<line x1="497.50" y1="264.43" x2="497.50" y2="265.63" stroke="#1f77b4" stroke-width="0.85"/>
<line x1="496.00" y1="264.43" x2="499.00" y2="264.43" stroke="#1f77b4" stroke-width="0.9"/>
<line x1="496.00" y1="265.63" x2="499.00" y2="265.63" stroke="#1f77b4" stroke-width="0.9"/>
<line x1="499.50" y1="264.48" x2="499.50" y2="265.68" stroke="#1f77b4" stroke-width="0.85"/>
<line x1="498.00" y1="264.48" x2="501.00" y2="264.48" stroke="#1f77b4" stroke-width="0.9"/>
<line x1="498.00" y1="265.68" x2="501.00" y2="265.68" stroke="#1f77b4" stroke-width="0.9"/>
<line x1="501.50" y1="264.53" x2="501.50" y2="265.73" stroke="#1f77b4" stroke-width="0.85"/>
<line x1="500.00" y1="264.53" x2="503.00" y2="264.53" stroke="#1f77b4" stroke-width="0.9"/>
<line x1="500.00" y1="265.73" x2="503.00" y2="265.73" stroke="#1f77b4" stroke-width="0.9"/>
<line x1="503.50" y1="264.59" x2="503.50" y2="265.79" stroke="#1f77b4" stroke-width="0.85"/>
<line x1="502.00" y1="264.59" x2="505.00" y2="264.59" stroke="#1f77b4" stroke-width="0.9"/>
<line x1="502.00" y1="265.79" x2="505.00" y2="265.79" stroke="#1f77b4" stroke-width="0.9"/>
<line x1="505.50" y1="264.64" x2="505.50" y2="265.84" stroke="#1f77b4" stroke-width="0.85"/>
<line x1="504.00" y1="264.64" x2="507.00" y2="264.64" stroke="#1f77b4" stroke-width="0.9"/>
<line x1="504.00" y1="265.84" x2="507.00" y2="265.84" stroke="#1f77b4" stroke-width="0.9"/>
<line x1="507.50" y1="264.69" x2="507.50" y2="265.89" stroke="#1f77b4" stroke-width="0.85"/>
<line x1="506.00" y1="264.69" x2="509.00" y2="264.69" stroke="#1f77b4" stroke-width="0.9"/>
<line x1="506.00" y1="265.89" x2="509.00" y2="265.89" stroke="#1f77b4" stroke-width="0.9"/>
<line x1="509.50" y1="264.75" x2="509.50" y2="265.95" stroke="#1f77b4" stroke-width="0.85"/>
<line x1="508.00" y1="264.75" x2="511.00" y2="264.75" stroke="#1f77b4" stroke-width="0.9"/>
<line x1="508.00" y1="265.95" x2="511.00" y2="265.95" stroke="#1f77b4" stroke-width="0.9"/>
<line x1="511.50" y1="264.80" x2="511.50" y2="266.00" stroke="#1f77b4" stroke-width="0.85"/>
<line x1="510.00" y1="264.80" x2="513.00" y2="264.80" stroke="#1f77b4" stroke-width="0.9"/>
<line x1="510.00" y1="266.00" x2="513.00" y2="266.00" stroke="#1f77b4" stroke-width="0.9"/>
<line x1="513.50" y1="265.20" x2="513.50" y2="266.40" stroke="#1f77b4" stroke-width="0.85"/>
<line x1="512.00" y1="265.20" x2="515.00" y2="265.20" stroke="#1f77b4" stroke-width="0.9"/>
<line x1="512.00" y1="266.40" x2="515.00" y2="266.40" stroke="#1f77b4" stroke-width="0.9"/>
<line x1="515.50" y1="265.60" x2="515.50" y2="266.80" stroke="#1f77b4" stroke-width="0.85"/>
<line x1="514.00" y1="265.60" x2="517.00" y2="265.60" stroke="#1f77b4" stroke-width="0.9"/>
<line x1="514.00" y1="266.80" x2="517.00" y2="266.80" stroke="#1f77b4" stroke-width="0.9"/>
<line x1="517.50" y1="266.70" x2="517.50" y2="267.90" stroke="#1f77b4" stroke-width="0.85"/>
<line x1="516.00" y1="266.70" x2="519.00" y2="266.70" stroke="#1f77b4" stroke-width="0.9"/>
<line x1="516.00" y1="267.90" x2="519.00" y2="267.90" stroke="#1f77b4" stroke-width="0.9"/>
<line x1="519.50" y1="268.50" x2="519.50" y2="269.70" stroke="#1f77b4" stroke-width="0.85"/>
<line x1="518.00" y1="268.50" x2="521.00" y2="268.50" stroke="#1f77b4" stroke-width="0.9"/>
<line x1="518.00" y1="269.70" x2="521.00" y2="269.70" stroke="#1f77b4" stroke-width="0.9"/>
<line x1="521.50" y1="269.43" x2="521.50" y2="270.63" stroke="#1f77b4" stroke-width="0.85"/>
<line x1="520.00" y1="269.43" x2="523.00" y2="269.43" stroke="#1f77b4" stroke-width="0.9"/>
<line x1="520.00" y1="270.63" x2="523.00" y2="270.63" stroke="#1f77b4" stroke-width="0.9"/>
<line x1="523.50" y1="269.48" x2="523.50" y2="270.68" stroke="#1f77b4" stroke-width="0.85"/>
<line x1="522.00" y1="269.48" x2="525.00" y2="269.48" stroke="#1f77b4" stroke-width="0.9"/>
<line x1="522.00" y1="270.68" x2="525.00" y2="270.68" stroke="#1f77b4" stroke-width="0.9"/>
<line x1="525.50" y1="269.53" x2="525.50" y2="270.73" stroke="#1f77b4" stroke-width="0.85"/>
<line x1="524.00" y1="269.53" x2="527.00" y2="269.53" stroke="#1f77b4" stroke-width="0.9"/>
<line x1="524.00" y1="270.73" x2="527.00" y2="270.73" stroke="#1f77b4" stroke-width="0.9"/>
<line x1="527.50" y1="269.58" x2="527.50" y2="270.78" stroke="#1f77b4" stroke-width="0.85"/>
<line x1="526.00" y1="269.58" x2="529.00" y2="269.58" stroke="#1f77b4" stroke-width="0.9"/>
<line x1="526.00" y1="270.78" x2="529.00" y2="270.78" stroke="#1f77b4" stroke-width="0.9"/>
<line x1="529.50" y1="268.67" x2="529.50" y2="269.87" stroke="#1f77b4" stroke-width="0.85"/>
<line x1="528.00" y1="268.67" x2="531.00" y2="268.67" stroke="#1f77b4" stroke-width="0.9"/>
<line x1="528.00" y1="269.87" x2="531.00" y2="269.87" stroke="#1f77b4" stroke-width="0.9"/>
<line x1="531.50" y1="268.00" x2="531.50" y2="269.20" stroke="#1f77b4" stroke-width="0.85"/>
<line x1="530.00" y1="268.00" x2="533.00" y2="268.00" stroke="#1f77b4" stroke-width="0.9"/>
<line x1="530.00" y1="269.20" x2="533.00" y2="269.20" stroke="#1f77b4" stroke-width="0.9"/>
<line x1="534.50" y1="268.00" x2="534.50" y2="269.20" stroke="#1f77b4" stroke-width="0.85"/>
<line x1="533.00" y1="268.00" x2="536.00" y2="268.00" stroke="#1f77b4" stroke-width="0.9"/>
<line x1="533.00" y1="269.20" x2="536.00" y2="269.20" stroke="#1f77b4" stroke-width="0.9"/>
<line x1="536.50" y1="268.00" x2="536.50" y2="269.20" stroke="#1f77b4" stroke-width="0.85"/>
<line x1="535.00" y1="268.00" x2="538.00" y2="268.00" stroke="#1f77b4" stroke-width="0.9"/>
<line x1="535.00" y1="269.20" x2="538.00" y2="269.20" stroke="#1f77b4" stroke-width="0.9"/>
<line x1="538.50" y1="268.14" x2="538.50" y2="269.34" stroke="#1f77b4" stroke-width="0.85"/>
<line x1="537.00" y1="268.14" x2="540.00" y2="268.14" stroke="#1f77b4" stroke-width="0.9"/>
<line x1="537.00" y1="269.34" x2="540.00" y2="269.34" stroke="#1f77b4" stroke-width="0.9"/>
<line x1="540.50" y1="268.29" x2="540.50" y2="269.49" stroke="#1f77b4" stroke-width="0.85"/>
<line x1="539.00" y1="268.29" x2="542.00" y2="268.29" stroke="#1f77b4" stroke-width="0.9"/>
<line x1="539.00" y1="269.49" x2="542.00" y2="269.49" stroke="#1f77b4" stroke-width="0.9"/>
<line x1="542.50" y1="268.43" x2="542.50" y2="269.63" stroke="#1f77b4" stroke-width="0.85"/>
<line x1="541.00" y1="268.43" x2="544.00" y2="268.43" stroke="#1f77b4" stroke-width="0.9"/>
<line x1="541.00" y1="269.63" x2="544.00" y2="269.63" stroke="#1f77b4" stroke-width="0.9"/>
<line x1="544.50" y1="268.57" x2="544.50" y2="269.77" stroke="#1f77b4" stroke-width="0.85"/>
<line x1="543.00" y1="268.57" x2="546.00" y2="268.57" stroke="#1f77b4" stroke-width="0.9"/>
<line x1="543.00" y1="269.77" x2="546.00" y2="269.77" stroke="#1f77b4" stroke-width="0.9"/>
<line x1="546.50" y1="268.63" x2="546.50" y2="269.83" stroke="#1f77b4" stroke-width="0.85"/>
<line x1="545.00" y1="268.63" x2="548.00" y2="268.63" stroke="#1f77b4" stroke-width="0.9"/>
<line x1="545.00" y1="269.83" x2="548.00" y2="269.83" stroke="#1f77b4" stroke-width="0.9"/>
<line x1="548.50" y1="267.89" x2="548.50" y2="269.09" stroke="#1f77b4" stroke-width="0.85"/>
<line x1="547.00" y1="267.89" x2="550.00" y2="267.89" stroke="#1f77b4" stroke-width="0.9"/>
<line x1="547.00" y1="269.09" x2="550.00" y2="269.09" stroke="#1f77b4" stroke-width="0.9"/>
<line x1="550.50" y1="267.70" x2="550.50" y2="268.90" stroke="#1f77b4" stroke-width="0.85"/>
<line x1="549.00" y1="267.70" x2="552.00" y2="267.70" stroke="#1f77b4" stroke-width="0.9"/>
<line x1="549.00" y1="268.90" x2="552.00" y2="268.90" stroke="#1f77b4" stroke-width="0.9"/>
<line x1="552.50" y1="267.70" x2="552.50" y2="268.90" stroke="#1f77b4" stroke-width="0.85"/>
<line x1="551.00" y1="267.70" x2="554.00" y2="267.70" stroke="#1f77b4" stroke-width="0.9"/>
<line x1="551.00" y1="268.90" x2="554.00" y2="268.90" stroke="#1f77b4" stroke-width="0.9"/>
<line x1="554.50" y1="267.70" x2="554.50" y2="268.90" stroke="#1f77b4" stroke-width="0.85"/>
<line x1="553.00" y1="267.70" x2="556.00" y2="267.70" stroke="#1f77b4" stroke-width="0.9"/>
<line x1="553.00" y1="268.90" x2="556.00" y2="268.90" stroke="#1f77b4" stroke-width="0.9"/>
<line x1="556.50" y1="267.27" x2="556.50" y2="268.47" stroke="#1f77b4" stroke-width="0.85"/>
<line x1="555.00" y1="267.27" x2="558.00" y2="267.27" stroke="#1f77b4" stroke-width="0.9"/>
<line x1="555.00" y1="268.47" x2="558.00" y2="268.47" stroke="#1f77b4" stroke-width="0.9"/>
<line x1="558.50" y1="266.66" x2="558.50" y2="267.86" stroke="#1f77b4" stroke-width="0.85"/>
<line x1="557.00" y1="266.66" x2="560.00" y2="266.66" stroke="#1f77b4" stroke-width="0.9"/>
<line x1="557.00" y1="267.86" x2="560.00" y2="267.86" stroke="#1f77b4" stroke-width="0.9"/>
<line x1="560.50" y1="266.05" x2="560.50" y2="267.25" stroke="#1f77b4" stroke-width="0.85"/>
<line x1="559.00" y1="266.05" x2="562.00" y2="266.05" stroke="#1f77b4" stroke-width="0.9"/>
<line x1="559.00" y1="267.25" x2="562.00" y2="267.25" stroke="#1f77b4" stroke-width="0.9"/>
<line x1="562.50" y1="266.26" x2="562.50" y2="267.46" stroke="#1f77b4" stroke-width="0.85"/>
<line x1="561.00" y1="266.26" x2="564.00" y2="266.26" stroke="#1f77b4" stroke-width="0.9"/>
<line x1="561.00" y1="267.46" x2="564.00" y2="267.46" stroke="#1f77b4" stroke-width="0.9"/>
<line x1="564.50" y1="266.74" x2="564.50" y2="267.94" stroke="#1f77b4" stroke-width="0.85"/>
<line x1="563.00" y1="266.74" x2="566.00" y2="266.74" stroke="#1f77b4" stroke-width="0.9"/>
<line x1="563.00" y1="267.94" x2="566.00" y2="267.94" stroke="#1f77b4" stroke-width="0.9"/>
<line x1="566.50" y1="267.23" x2="566.50" y2="268.43" stroke="#1f77b4" stroke-width="0.85"/>
<line x1="565.00" y1="267.23" x2="568.00" y2="267.23" stroke="#1f77b4" stroke-width="0.9"/>
<line x1="565.00" y1="268.43" x2="568.00" y2="268.43" stroke="#1f77b4" stroke-width="0.9"/>
<line x1="568.50" y1="267.71" x2="568.50" y2="268.91" stroke="#1f77b4" stroke-width="0.85"/>
<line x1="567.00" y1="267.71" x2="570.00" y2="267.71" stroke="#1f77b4" stroke-width="0.9"/>
<line x1="567.00" y1="268.91" x2="570.00" y2="268.91" stroke="#1f77b4" stroke-width="0.9"/>
<line x1="570.50" y1="267.87" x2="570.50" y2="269.07" stroke="#1f77b4" stroke-width="0.85"/>
<line x1="569.00" y1="267.87" x2="572.00" y2="267.87" stroke="#1f77b4" stroke-width="0.9"/>
<line x1="569.00" y1="269.07" x2="572.00" y2="269.07" stroke="#1f77b4" stroke-width="0.9"/>
<line x1="572.50" y1="267.82" x2="572.50" y2="269.02" stroke="#1f77b4" stroke-width="0.85"/>
<line x1="571.00" y1="267.82" x2="574.00" y2="267.82" stroke="#1f77b4" stroke-width="0.9"/>
<line x1="571.00" y1="269.02" x2="574.00" y2="269.02" stroke="#1f77b4" stroke-width="0.9"/>
<line x1="574.50" y1="267.77" x2="574.50" y2="268.97" stroke="#1f77b4" stroke-width="0.85"/>
<line x1="573.00" y1="267.77" x2="576.00" y2="267.77" stroke="#1f77b4" stroke-width="0.9"/>
<line x1="573.00" y1="268.97" x2="576.00" y2="268.97" stroke="#1f77b4" stroke-width="0.9"/>
<line x1="576.50" y1="267.72" x2="576.50" y2="268.92" stroke="#1f77b4" stroke-width="0.85"/>
<line x1="575.00" y1="267.72" x2="578.00" y2="267.72" stroke="#1f77b4" stroke-width="0.9"/>
<line x1="575.00" y1="268.92" x2="578.00" y2="268.92" stroke="#1f77b4" stroke-width="0.9"/>
<line x1="578.50" y1="267.71" x2="578.50" y2="268.91" stroke="#1f77b4" stroke-width="0.85"/>
<line x1="577.00" y1="267.71" x2="580.00" y2="267.71" stroke="#1f77b4" stroke-width="0.9"/>
<line x1="577.00" y1="268.91" x2="580.00" y2="268.91" stroke="#1f77b4" stroke-width="0.9"/>
<line x1="580.50" y1="267.74" x2="580.50" y2="268.94" stroke="#1f77b4" stroke-width="0.85"/>
<line x1="579.00" y1="267.74" x2="582.00" y2="267.74" stroke="#1f77b4" stroke-width="0.9"/>
<line x1="579.00" y1="268.94" x2="582.00" y2="268.94" stroke="#1f77b4" stroke-width="0.9"/>
<line x1="582.50" y1="267.76" x2="582.50" y2="268.96" stroke="#1f77b4" stroke-width="0.85"/>
<line x1="581.00" y1="267.76" x2="584.00" y2="267.76" stroke="#1f77b4" stroke-width="0.9"/>
<line x1="581.00" y1="268.96" x2="584.00" y2="268.96" stroke="#1f77b4" stroke-width="0.9"/>
<line x1="584.50" y1="267.78" x2="584.50" y2="268.98" stroke="#1f77b4" stroke-width="0.85"/>
<line x1="583.00" y1="267.78" x2="586.00" y2="267.78" stroke="#1f77b4" stroke-width="0.9"/>
<line x1="583.00" y1="268.98" x2="586.00" y2="268.98" stroke="#1f77b4" stroke-width="0.9"/>
<line x1="586.50" y1="267.81" x2="586.50" y2="269.01" stroke="#1f77b4" stroke-width="0.85"/>
<line x1="585.00" y1="267.81" x2="588.00" y2="267.81" stroke="#1f77b4" stroke-width="0.9"/>
<line x1="585.00" y1="269.01" x2="588.00" y2="269.01" stroke="#1f77b4" stroke-width="0.9"/>
<line x1="588.50" y1="267.83" x2="588.50" y2="269.03" stroke="#1f77b4" stroke-width="0.85"/>
<line x1="587.00" y1="267.83" x2="590.00" y2="267.83" stroke="#1f77b4" stroke-width="0.9"/>
<line x1="587.00" y1="269.03" x2="590.00" y2="269.03" stroke="#1f77b4" stroke-width="0.9"/>
<line x1="590.50" y1="267.85" x2="590.50" y2="269.05" stroke="#1f77b4" stroke-width="0.85"/>
<line x1="589.00" y1="267.85" x2="592.00" y2="267.85" stroke="#1f77b4" stroke-width="0.9"/>
<line x1="589.00" y1="269.05" x2="592.00" y2="269.05" stroke="#1f77b4" stroke-width="0.9"/>
<line x1="592.50" y1="267.88" x2="592.50" y2="269.08" stroke="#1f77b4" stroke-width="0.85"/>
<line x1="591.00" y1="267.88" x2="594.00" y2="267.88" stroke="#1f77b4" stroke-width="0.9"/>
<line x1="591.00" y1="269.08" x2="594.00" y2="269.08" stroke="#1f77b4" stroke-width="0.9"/>
<line x1="594.50" y1="267.90" x2="594.50" y2="269.10" stroke="#1f77b4" stroke-width="0.85"/>
<line x1="593.00" y1="267.90" x2="596.00" y2="267.90" stroke="#1f77b4" stroke-width="0.9"/>
<line x1="593.00" y1="269.10" x2="596.00" y2="269.10" stroke="#1f77b4" stroke-width="0.9"/>
<line x1="596.50" y1="268.54" x2="596.50" y2="269.74" stroke="#1f77b4" stroke-width="0.85"/>
<line x1="595.00" y1="268.54" x2="598.00" y2="268.54" stroke="#1f77b4" stroke-width="0.9"/>
<line x1="595.00" y1="269.74" x2="598.00" y2="269.74" stroke="#1f77b4" stroke-width="0.9"/>
<line x1="599.50" y1="269.19" x2="599.50" y2="270.39" stroke="#1f77b4" stroke-width="0.85"/>
<line x1="598.00" y1="269.19" x2="601.00" y2="269.19" stroke="#1f77b4" stroke-width="0.9"/>
<line x1="598.00" y1="270.39" x2="601.00" y2="270.39" stroke="#1f77b4" stroke-width="0.9"/>
<line x1="601.50" y1="269.75" x2="601.50" y2="270.95" stroke="#1f77b4" stroke-width="0.85"/>
<line x1="600.00" y1="269.75" x2="603.00" y2="269.75" stroke="#1f77b4" stroke-width="0.9"/>
<line x1="600.00" y1="270.95" x2="603.00" y2="270.95" stroke="#1f77b4" stroke-width="0.9"/>
<line x1="603.50" y1="269.98" x2="603.50" y2="271.18" stroke="#1f77b4" stroke-width="0.85"/>
<line x1="602.00" y1="269.98" x2="605.00" y2="269.98" stroke="#1f77b4" stroke-width="0.9"/>
<line x1="602.00" y1="271.18" x2="605.00" y2="271.18" stroke="#1f77b4" stroke-width="0.9"/>
<line x1="605.50" y1="270.21" x2="605.50" y2="271.41" stroke="#1f77b4" stroke-width="0.85"/>
<line x1="604.00" y1="270.21" x2="607.00" y2="270.21" stroke="#1f77b4" stroke-width="0.9"/>
<line x1="604.00" y1="271.41" x2="607.00" y2="271.41" stroke="#1f77b4" stroke-width="0.9"/>
<line x1="607.50" y1="270.45" x2="607.50" y2="271.65" stroke="#1f77b4" stroke-width="0.85"/>
<line x1="606.00" y1="270.45" x2="609.00" y2="270.45" stroke="#1f77b4" stroke-width="0.9"/>
<line x1="606.00" y1="271.65" x2="609.00" y2="271.65" stroke="#1f77b4" stroke-width="0.9"/>
<line x1="609.50" y1="270.68" x2="609.50" y2="271.88" stroke="#1f77b4" stroke-width="0.85"/>
<line x1="608.00" y1="270.68" x2="611.00" y2="270.68" stroke="#1f77b4" stroke-width="0.9"/>
<line x1="608.00" y1="271.88" x2="611.00" y2="271.88" stroke="#1f77b4" stroke-width="0.9"/>
<line x1="611.50" y1="270.00" x2="611.50" y2="271.20" stroke="#1f77b4" stroke-width="0.85"/>
<line x1="610.00" y1="270.00" x2="613.00" y2="270.00" stroke="#1f77b4" stroke-width="0.9"/>
<line x1="610.00" y1="271.20" x2="613.00" y2="271.20" stroke="#1f77b4" stroke-width="0.9"/>
<line x1="613.50" y1="269.29" x2="613.50" y2="270.49" stroke="#1f77b4" stroke-width="0.85"/>
<line x1="612.00" y1="269.29" x2="615.00" y2="269.29" stroke="#1f77b4" stroke-width="0.9"/>
<line x1="612.00" y1="270.49" x2="615.00" y2="270.49" stroke="#1f77b4" stroke-width="0.9"/>
<line x1="615.50" y1="269.46" x2="615.50" y2="270.66" stroke="#1f77b4" stroke-width="0.85"/>
<line x1="614.00" y1="269.46" x2="617.00" y2="269.46" stroke="#1f77b4" stroke-width="0.9"/>
<line x1="614.00" y1="270.66" x2="617.00" y2="270.66" stroke="#1f77b4" stroke-width="0.9"/>
<line x1="617.50" y1="269.63" x2="617.50" y2="270.83" stroke="#1f77b4" stroke-width="0.85"/>
<line x1="616.00" y1="269.63" x2="619.00" y2="269.63" stroke="#1f77b4" stroke-width="0.9"/>
<line x1="616.00" y1="270.83" x2="619.00" y2="270.83" stroke="#1f77b4" stroke-width="0.9"/>
<line x1="619.50" y1="269.80" x2="619.50" y2="271.00" stroke="#1f77b4" stroke-width="0.85"/>
<line x1="618.00" y1="269.80" x2="621.00" y2="269.80" stroke="#1f77b4" stroke-width="0.9"/>
<line x1="618.00" y1="271.00" x2="621.00" y2="271.00" stroke="#1f77b4" stroke-width="0.9"/>
<line x1="621.50" y1="269.97" x2="621.50" y2="271.17" stroke="#1f77b4" stroke-width="0.85"/>
<line x1="620.00" y1="269.97" x2="623.00" y2="269.97" stroke="#1f77b4" stroke-width="0.9"/>
<line x1="620.00" y1="271.17" x2="623.00" y2="271.17" stroke="#1f77b4" stroke-width="0.9"/>
<line x1="623.50" y1="270.05" x2="623.50" y2="271.25" stroke="#1f77b4" stroke-width="0.85"/>
<line x1="622.00" y1="270.05" x2="625.00" y2="270.05" stroke="#1f77b4" stroke-width="0.9"/>
<line x1="622.00" y1="271.25" x2="625.00" y2="271.25" stroke="#1f77b4" stroke-width="0.9"/>
<line x1="625.50" y1="270.11" x2="625.50" y2="271.31" stroke="#1f77b4" stroke-width="0.85"/>
<line x1="624.00" y1="270.11" x2="627.00" y2="270.11" stroke="#1f77b4" stroke-width="0.9"/>
<line x1="624.00" y1="271.31" x2="627.00" y2="271.31" stroke="#1f77b4" stroke-width="0.9"/>
<line x1="627.50" y1="270.16" x2="627.50" y2="271.36" stroke="#1f77b4" stroke-width="0.85"/>
<line x1="626.00" y1="270.16" x2="629.00" y2="270.16" stroke="#1f77b4" stroke-width="0.9"/>
<line x1="626.00" y1="271.36" x2="629.00" y2="271.36" stroke="#1f77b4" stroke-width="0.9"/>
<line x1="629.50" y1="270.22" x2="629.50" y2="271.42" stroke="#1f77b4" stroke-width="0.85"/>
<line x1="628.00" y1="270.22" x2="631.00" y2="270.22" stroke="#1f77b4" stroke-width="0.9"/>
<line x1="628.00" y1="271.42" x2="631.00" y2="271.42" stroke="#1f77b4" stroke-width="0.9"/>
<line x1="631.50" y1="270.28" x2="631.50" y2="271.48" stroke="#1f77b4" stroke-width="0.85"/>
<line x1="630.00" y1="270.28" x2="633.00" y2="270.28" stroke="#1f77b4" stroke-width="0.9"/>
<line x1="630.00" y1="271.48" x2="633.00" y2="271.48" stroke="#1f77b4" stroke-width="0.9"/>
<line x1="633.50" y1="270.40" x2="633.50" y2="271.60" stroke="#1f77b4" stroke-width="0.85"/>
<line x1="632.00" y1="270.40" x2="635.00" y2="270.40" stroke="#1f77b4" stroke-width="0.9"/>
<line x1="632.00" y1="271.60" x2="635.00" y2="271.60" stroke="#1f77b4" stroke-width="0.9"/>
<line x1="635.50" y1="270.58" x2="635.50" y2="271.78" stroke="#1f77b4" stroke-width="0.85"/>
<line x1="634.00" y1="270.58" x2="637.00" y2="270.58" stroke="#1f77b4" stroke-width="0.9"/>
<line x1="634.00" y1="271.78" x2="637.00" y2="271.78" stroke="#1f77b4" stroke-width="0.9"/>
<line x1="637.50" y1="270.75" x2="637.50" y2="271.95" stroke="#1f77b4" stroke-width="0.85"/>
<line x1="636.00" y1="270.75" x2="639.00" y2="270.75" stroke="#1f77b4" stroke-width="0.9"/>
<line x1="636.00" y1="271.95" x2="639.00" y2="271.95" stroke="#1f77b4" stroke-width="0.9"/>
<line x1="639.50" y1="270.93" x2="639.50" y2="272.13" stroke="#1f77b4" stroke-width="0.85"/>
<line x1="638.00" y1="270.93" x2="641.00" y2="270.93" stroke="#1f77b4" stroke-width="0.9"/>
<line x1="638.00" y1="272.13" x2="641.00" y2="272.13" stroke="#1f77b4" stroke-width="0.9"/>
<line x1="641.50" y1="271.10" x2="641.50" y2="272.30" stroke="#1f77b4" stroke-width="0.85"/>
<line x1="640.00" y1="271.10" x2="643.00" y2="271.10" stroke="#1f77b4" stroke-width="0.9"/>
<line x1="640.00" y1="272.30" x2="643.00" y2="272.30" stroke="#1f77b4" stroke-width="0.9"/>
<circle cx="397.95" cy="295.40" r="2.4" fill="#1f77b4"/>
<circle cx="399.98" cy="294.80" r="2.4" fill="#1f77b4"/>
<circle cx="402.01" cy="294.20" r="2.4" fill="#1f77b4"/>
<circle cx="404.04" cy="293.60" r="2.4" fill="#1f77b4"/>
<circle cx="406.07" cy="293.00" r="2.4" fill="#1f77b4"/>
<circle cx="408.10" cy="292.40" r="2.4" fill="#1f77b4"/>
<circle cx="410.13" cy="291.80" r="2.4" fill="#1f77b4"/>
<circle cx="412.16" cy="290.06" r="2.4" fill="#1f77b4"/>
<circle cx="414.20" cy="288.31" r="2.4" fill="#1f77b4"/>
<circle cx="416.23" cy="286.57" r="2.4" fill="#1f77b4"/>
<circle cx="418.26" cy="284.36" r="2.4" fill="#1f77b4"/>
<circle cx="420.29" cy="281.68" r="2.4" fill="#1f77b4"/>
<circle cx="422.32" cy="279.00" r="2.4" fill="#1f77b4"/>
<circle cx="424.35" cy="277.50" r="2.4" fill="#1f77b4"/>
<circle cx="426.38" cy="276.00" r="2.4" fill="#1f77b4"/>
<circle cx="428.41" cy="274.50" r="2.4" fill="#1f77b4"/>
<circle cx="430.44" cy="273.17" r="2.4" fill="#1f77b4"/>
<circle cx="432.48" cy="271.83" r="2.4" fill="#1f77b4"/>
<circle cx="434.51" cy="270.50" r="2.4" fill="#1f77b4"/>
<circle cx="436.54" cy="269.33" r="2.4" fill="#1f77b4"/>
<circle cx="438.57" cy="268.17" r="2.4" fill="#1f77b4"/>
<circle cx="440.60" cy="267.00" r="2.4" fill="#1f77b4"/>
<circle cx="442.63" cy="265.83" r="2.4" fill="#1f77b4"/>
<circle cx="444.66" cy="264.67" r="2.4" fill="#1f77b4"/>
<circle cx="446.69" cy="263.50" r="2.4" fill="#1f77b4"/>
<circle cx="448.72" cy="261.50" r="2.4" fill="#1f77b4"/>
<circle cx="450.75" cy="259.50" r="2.4" fill="#1f77b4"/>
<circle cx="454.20" cy="248.70" r="2.4" fill="#1f77b4"/>
<circle cx="454.82" cy="256.00" r="2.4" fill="#1f77b4"/>
<circle cx="456.85" cy="257.20" r="2.4" fill="#1f77b4"/>
<circle cx="458.88" cy="258.00" r="2.4" fill="#1f77b4"/>
<circle cx="460.91" cy="258.80" r="2.4" fill="#1f77b4"/>
<circle cx="462.94" cy="259.60" r="2.4" fill="#1f77b4"/>
<circle cx="464.97" cy="259.92" r="2.1" fill="#1f77b4"/>
<circle cx="467.00" cy="260.24" r="2.1" fill="#1f77b4"/>
<circle cx="469.03" cy="260.40" r="2.1" fill="#1f77b4"/>
<circle cx="471.06" cy="260.40" r="2.1" fill="#1f77b4"/>
<circle cx="473.10" cy="260.40" r="2.1" fill="#1f77b4"/>
<circle cx="475.13" cy="260.40" r="2.1" fill="#1f77b4"/>
<circle cx="477.16" cy="260.40" r="2.1" fill="#1f77b4"/>
<circle cx="479.19" cy="258.80" r="2.1" fill="#1f77b4"/>
<circle cx="481.22" cy="257.32" r="2.1" fill="#1f77b4"/>
<circle cx="483.25" cy="258.00" r="2.1" fill="#1f77b4"/>
<circle cx="485.28" cy="260.00" r="2.1" fill="#1f77b4"/>
<circle cx="487.31" cy="261.00" r="2.1" fill="#1f77b4"/>
<circle cx="489.34" cy="261.00" r="2.1" fill="#1f77b4"/>
<circle cx="491.37" cy="261.00" r="2.1" fill="#1f77b4"/>
<circle cx="493.40" cy="262.60" r="2.1" fill="#1f77b4"/>
<circle cx="495.44" cy="264.20" r="2.1" fill="#1f77b4"/>
<circle cx="497.47" cy="265.03" r="2.1" fill="#1f77b4"/>
<circle cx="499.50" cy="265.08" r="2.1" fill="#1f77b4"/>
<circle cx="501.53" cy="265.13" r="2.1" fill="#1f77b4"/>
<circle cx="503.56" cy="265.19" r="2.1" fill="#1f77b4"/>
<circle cx="505.59" cy="265.24" r="2.1" fill="#1f77b4"/>
<circle cx="507.62" cy="265.29" r="2.1" fill="#1f77b4"/>
<circle cx="509.65" cy="265.35" r="2.1" fill="#1f77b4"/>
<circle cx="511.68" cy="265.40" r="2.1" fill="#1f77b4"/>
<circle cx="513.72" cy="265.80" r="2.1" fill="#1f77b4"/>
<circle cx="515.75" cy="266.20" r="2.1" fill="#1f77b4"/>
<circle cx="517.78" cy="267.30" r="2.1" fill="#1f77b4"/>
<circle cx="519.81" cy="269.10" r="2.1" fill="#1f77b4"/>
<circle cx="521.84" cy="270.03" r="2.1" fill="#1f77b4"/>
<circle cx="523.87" cy="270.08" r="2.1" fill="#1f77b4"/>
<circle cx="525.90" cy="270.13" r="2.1" fill="#1f77b4"/>
<circle cx="527.93" cy="270.18" r="2.1" fill="#1f77b4"/>
<circle cx="529.96" cy="269.27" r="2.1" fill="#1f77b4"/>
<circle cx="531.99" cy="268.60" r="2.1" fill="#1f77b4"/>
<circle cx="534.02" cy="268.60" r="2.1" fill="#1f77b4"/>
<circle cx="536.06" cy="268.60" r="2.1" fill="#1f77b4"/>
<circle cx="538.09" cy="268.74" r="2.1" fill="#1f77b4"/>
<circle cx="540.12" cy="268.89" r="2.1" fill="#1f77b4"/>
<circle cx="542.15" cy="269.03" r="2.1" fill="#1f77b4"/>
<circle cx="544.18" cy="269.17" r="2.1" fill="#1f77b4"/>
<circle cx="546.21" cy="269.23" r="2.1" fill="#1f77b4"/>
<circle cx="548.24" cy="268.49" r="2.1" fill="#1f77b4"/>
<circle cx="550.27" cy="268.30" r="2.1" fill="#1f77b4"/>
<circle cx="552.30" cy="268.30" r="2.1" fill="#1f77b4"/>
<circle cx="554.34" cy="268.30" r="2.1" fill="#1f77b4"/>
<circle cx="556.37" cy="267.87" r="2.1" fill="#1f77b4"/>
<circle cx="558.40" cy="267.26" r="2.1" fill="#1f77b4"/>
<circle cx="560.43" cy="266.65" r="2.1" fill="#1f77b4"/>
<circle cx="562.46" cy="266.86" r="2.1" fill="#1f77b4"/>
<circle cx="564.49" cy="267.34" r="2.1" fill="#1f77b4"/>
<circle cx="566.52" cy="267.83" r="2.1" fill="#1f77b4"/>
<circle cx="568.55" cy="268.31" r="2.1" fill="#1f77b4"/>
<circle cx="570.58" cy="268.47" r="2.1" fill="#1f77b4"/>
<circle cx="572.61" cy="268.42" r="2.1" fill="#1f77b4"/>
<circle cx="574.64" cy="268.37" r="2.1" fill="#1f77b4"/>
<circle cx="576.68" cy="268.32" r="2.1" fill="#1f77b4"/>
<circle cx="578.71" cy="268.31" r="2.1" fill="#1f77b4"/>
<circle cx="580.74" cy="268.34" r="2.1" fill="#1f77b4"/>
<circle cx="582.77" cy="268.36" r="2.1" fill="#1f77b4"/>
<circle cx="584.80" cy="268.38" r="2.1" fill="#1f77b4"/>
<circle cx="586.83" cy="268.41" r="2.1" fill="#1f77b4"/>
<circle cx="588.86" cy="268.43" r="2.1" fill="#1f77b4"/>
<circle cx="590.89" cy="268.45" r="2.1" fill="#1f77b4"/>
<circle cx="592.92" cy="268.48" r="2.1" fill="#1f77b4"/>
<circle cx="594.96" cy="268.50" r="2.1" fill="#1f77b4"/>
<circle cx="596.99" cy="269.14" r="2.1" fill="#1f77b4"/>
<circle cx="599.02" cy="269.79" r="2.1" fill="#1f77b4"/>
<circle cx="601.05" cy="270.35" r="2.1" fill="#1f77b4"/>
<circle cx="603.08" cy="270.58" r="2.1" fill="#1f77b4"/>
<circle cx="605.11" cy="270.81" r="2.1" fill="#1f77b4"/>
<circle cx="607.14" cy="271.05" r="2.1" fill="#1f77b4"/>
<circle cx="609.17" cy="271.28" r="2.1" fill="#1f77b4"/>
<circle cx="611.20" cy="270.60" r="2.1" fill="#1f77b4"/>
<circle cx="613.23" cy="269.89" r="2.1" fill="#1f77b4"/>
<circle cx="615.26" cy="270.06" r="2.1" fill="#1f77b4"/>
<circle cx="617.30" cy="270.23" r="2.1" fill="#1f77b4"/>
<circle cx="619.33" cy="270.40" r="2.1" fill="#1f77b4"/>
<circle cx="621.36" cy="270.57" r="2.1" fill="#1f77b4"/>
<circle cx="623.39" cy="270.65" r="2.1" fill="#1f77b4"/>
<circle cx="625.42" cy="270.71" r="2.1" fill="#1f77b4"/>
<circle cx="627.45" cy="270.76" r="2.1" fill="#1f77b4"/>
<circle cx="629.48" cy="270.82" r="2.1" fill="#1f77b4"/>
<circle cx="631.51" cy="270.88" r="2.1" fill="#1f77b4"/>
<circle cx="633.54" cy="271.00" r="2.1" fill="#1f77b4"/>
<circle cx="635.58" cy="271.18" r="2.1" fill="#1f77b4"/>
<circle cx="637.61" cy="271.35" r="2.1" fill="#1f77b4"/>
<circle cx="639.64" cy="271.53" r="2.1" fill="#1f77b4"/>
<circle cx="641.67" cy="271.70" r="2.1" fill="#1f77b4"/>
<line x1="448.72" y1="171.50" x2="448.72" y2="309.95" stroke="#5e5e5e" stroke-width="1.05" stroke-dasharray="3.2,1.6" stroke-dashoffset="4.2"/>
<g transform="translate(516.10,323.70)" fill="none" stroke="#000" stroke-linecap="round"><path d="M0.8,6.6 C1.6,5.8 2.3,3.9 2.8,2.1" stroke-width="0.7"/><ellipse cx="0.9" cy="6.5" rx="0.9" ry="0.55" fill="#000" stroke="none"/><path d="M2.9,2.0 L5.2,6.0" stroke-width="1.35"/><path d="M5.3,5.9 C5.7,4.5 6.2,2.2 7.1,0.9" stroke-width="0.6"/><ellipse cx="8.1" cy="0.6" rx="1.0" ry="0.5" fill="#000" stroke="none"/></g>
<text x="353.30" y="183.60" font-weight="bold" font-size="10.2">d</text>
<text id="l0F" transform="translate(8.60,79.00) rotate(-90)" fill="#d62728" font-size="8.8" font-family="Liberation Serif" font-style="italic" textLength="7.20" lengthAdjust="spacingAndGlyphs">F</text>
<text id="l0p" transform="translate(4.30,72.90) rotate(-90)" fill="#d62728" font-size="5.8" textLength="12.00" lengthAdjust="spacingAndGlyphs">(Ψ<tspan font-size="4.2" dy="-1.6">+</tspan><tspan dy="1.6">)</tspan></text>
<text id="l0b" transform="translate(11.20,72.90) rotate(-90)" fill="#d62728" font-size="5.8" textLength="8.00" lengthAdjust="spacingAndGlyphs">0, t</text>
<text id="l1F" transform="translate(334.80,78.80) rotate(-90)" fill="#1f77b4" font-size="8.8" font-family="Liberation Serif" font-style="italic" textLength="7.20" lengthAdjust="spacingAndGlyphs">F</text>
<text id="l1p" transform="translate(330.40,72.90) rotate(-90)" fill="#1f77b4" font-size="5.8" textLength="11.70" lengthAdjust="spacingAndGlyphs">(Ψ<tspan font-size="4.2" dy="-1.6">+</tspan><tspan dy="1.6">)</tspan></text>
<text id="l1b" transform="translate(336.60,72.90) rotate(-90)" fill="#1f77b4" font-size="5.8" textLength="1.80" lengthAdjust="spacingAndGlyphs">t</text>
<text id="l2F" transform="translate(357.10,82.50) rotate(-90)" fill="#d62728" font-size="8.8" font-family="Liberation Serif" font-style="italic" textLength="6.70" lengthAdjust="spacingAndGlyphs">F</text>
<text id="l2p" transform="translate(352.40,76.70) rotate(-90)" fill="#d62728" font-size="5.8" textLength="20.30" lengthAdjust="spacingAndGlyphs">(GHZ<tspan font-size="4.6" dy="1">t</tspan><tspan dy="-1">)</tspan></text>
<text id="l2b" transform="translate(358.90,76.70) rotate(-90)" fill="#d62728" font-size="5.8" textLength="8.20" lengthAdjust="spacingAndGlyphs">0, t</text>
<text id="l3F" transform="translate(683.00,82.50) rotate(-90)" fill="#1f77b4" font-size="8.8" font-family="Liberation Serif" font-style="italic" textLength="6.70" lengthAdjust="spacingAndGlyphs">F</text>
<text id="l3p" transform="translate(678.10,77.20) rotate(-90)" fill="#1f77b4" font-size="5.8" textLength="20.50" lengthAdjust="spacingAndGlyphs">(GHZ<tspan font-size="4.6" dy="1">t</tspan><tspan dy="-1">)</tspan></text>
<text id="l3b" transform="translate(683.30,75.80) rotate(-90)" fill="#1f77b4" font-size="5.8" textLength="2.50" lengthAdjust="spacingAndGlyphs">t</text>
<text id="l4F" transform="translate(13.50,249.70) rotate(-90)" fill="#d62728" font-size="8.8" font-family="Liberation Serif" font-style="italic" textLength="5.90" lengthAdjust="spacingAndGlyphs">F</text>
<text id="l4p" transform="translate(10.00,244.20) rotate(-90)" fill="#d62728" font-size="5.8" textLength="12.70" lengthAdjust="spacingAndGlyphs">(W<tspan font-size="4.6" dy="1">t</tspan><tspan dy="-1">)</tspan></text>
<text id="l4b" transform="translate(16.50,244.20) rotate(-90)" fill="#d62728" font-size="5.8" textLength="8.90" lengthAdjust="spacingAndGlyphs">0, t</text>
<text id="l5F" transform="translate(334.40,249.70) rotate(-90)" fill="#1f77b4" font-size="8.8" font-family="Liberation Serif" font-style="italic" textLength="6.80" lengthAdjust="spacingAndGlyphs">F</text>
<text id="l5p" transform="translate(329.90,243.90) rotate(-90)" fill="#1f77b4" font-size="5.8" textLength="12.70" lengthAdjust="spacingAndGlyphs">(W<tspan font-size="4.6" dy="1">t</tspan><tspan dy="-1">)</tspan></text>
<text id="l5b" transform="translate(336.60,244.20) rotate(-90)" fill="#1f77b4" font-size="5.8" textLength="1.70" lengthAdjust="spacingAndGlyphs">t</text>
<text id="l6F" transform="translate(357.10,253.50) rotate(-90)" fill="#d62728" font-size="8.8" font-family="Liberation Serif" font-style="italic" textLength="6.70" lengthAdjust="spacingAndGlyphs">F</text>
<text id="l6p" transform="translate(352.70,248.20) rotate(-90)" fill="#d62728" font-size="5.8" textLength="20.80" lengthAdjust="spacingAndGlyphs">(GHZ<tspan font-size="4.6" dy="1">t</tspan><tspan dy="-1">)</tspan></text>
<text id="l6b" transform="translate(359.30,248.20) rotate(-90)" fill="#d62728" font-size="5.8" textLength="8.70" lengthAdjust="spacingAndGlyphs">0, t</text>
<text id="l7F" transform="translate(682.80,253.50) rotate(-90)" fill="#1f77b4" font-size="8.8" font-family="Liberation Serif" font-style="italic" textLength="6.70" lengthAdjust="spacingAndGlyphs">F</text>
<text id="l7p" transform="translate(678.10,248.70) rotate(-90)" fill="#1f77b4" font-size="5.8" textLength="20.80" lengthAdjust="spacingAndGlyphs">(GHZ<tspan font-size="4.6" dy="1">t</tspan><tspan dy="-1">)</tspan></text>
<text id="l7b" transform="translate(683.30,246.80) rotate(-90)" fill="#1f77b4" font-size="5.8" textLength="2.00" lengthAdjust="spacingAndGlyphs">t</text>
</svg>
</body></html>
